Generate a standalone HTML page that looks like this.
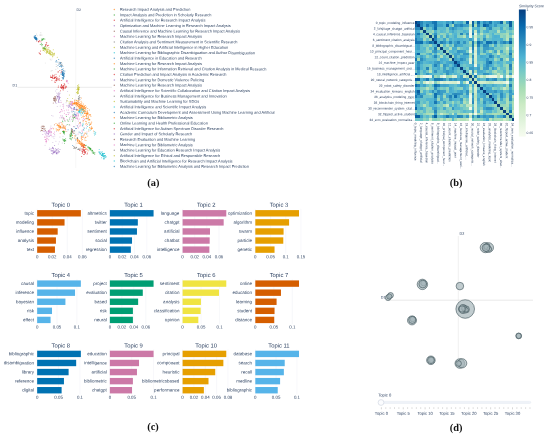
<!DOCTYPE html><html><head><meta charset="utf-8"><title>Figure</title><style>html,body{margin:0;padding:0;background:#fff}svg{display:block}text{font-family:"Liberation Sans","DejaVu Sans",sans-serif;fill:#2a3f5f;text-rendering:geometricPrecision}.cap{font-family:"Liberation Serif","DejaVu Serif",serif;font-weight:bold;font-size:10.4px;fill:#111}</style></head><body>
<svg width="550" height="437" viewBox="0 0 550 437">
<rect width="550" height="437" fill="#fff"/>
<defs><clipPath id="cpa"><rect x="0" y="0" width="274.6" height="195"/></clipPath></defs><g id="pa" clip-path="url(#cpa)">
<line x1="75.8" y1="11.5" x2="75.8" y2="168" stroke="#f0f0f0" stroke-width="0.6"/>
<line x1="17.5" y1="87.3" x2="112" y2="87.3" stroke="#dedede" stroke-width="0.6"/>
<text transform="matrix(1 0.0005 0 1 76.40 10.90)" font-size="3.6" fill="#777">D2</text>
<text transform="matrix(1 0.0005 0 1 12.60 86.50)" font-size="3.6" fill="#777">D1</text>
<circle cx="35.4" cy="38.2" r="0.52" fill="#1f77b4" fill-opacity="0.68"/>
<circle cx="35.8" cy="38.0" r="0.52" fill="#1f77b4" fill-opacity="0.68"/>
<circle cx="35.1" cy="37.3" r="0.52" fill="#1f77b4" fill-opacity="0.68"/>
<circle cx="36.5" cy="39.6" r="0.52" fill="#1f77b4" fill-opacity="0.68"/>
<circle cx="36.5" cy="39.4" r="0.52" fill="#1f77b4" fill-opacity="0.68"/>
<circle cx="36.0" cy="38.8" r="0.52" fill="#1f77b4" fill-opacity="0.68"/>
<circle cx="34.1" cy="36.9" r="0.52" fill="#1f77b4" fill-opacity="0.68"/>
<circle cx="36.0" cy="39.0" r="0.52" fill="#1f77b4" fill-opacity="0.68"/>
<circle cx="35.2" cy="36.0" r="0.52" fill="#1f77b4" fill-opacity="0.68"/>
<circle cx="35.3" cy="37.2" r="0.52" fill="#1f77b4" fill-opacity="0.68"/>
<circle cx="36.1" cy="38.6" r="0.52" fill="#1f77b4" fill-opacity="0.68"/>
<circle cx="36.5" cy="38.6" r="0.52" fill="#1f77b4" fill-opacity="0.68"/>
<circle cx="35.9" cy="38.7" r="0.52" fill="#1f77b4" fill-opacity="0.68"/>
<circle cx="34.5" cy="38.2" r="0.52" fill="#1f77b4" fill-opacity="0.68"/>
<circle cx="35.7" cy="39.3" r="0.52" fill="#1f77b4" fill-opacity="0.68"/>
<circle cx="35.6" cy="37.4" r="0.52" fill="#1f77b4" fill-opacity="0.68"/>
<circle cx="35.6" cy="37.9" r="0.52" fill="#1f77b4" fill-opacity="0.68"/>
<circle cx="36.2" cy="39.0" r="0.52" fill="#1f77b4" fill-opacity="0.68"/>
<circle cx="35.9" cy="37.5" r="0.52" fill="#1f77b4" fill-opacity="0.68"/>
<circle cx="34.9" cy="38.2" r="0.52" fill="#1f77b4" fill-opacity="0.68"/>
<circle cx="35.0" cy="37.6" r="0.52" fill="#1f77b4" fill-opacity="0.68"/>
<circle cx="36.8" cy="38.2" r="0.52" fill="#1f77b4" fill-opacity="0.68"/>
<circle cx="35.3" cy="38.8" r="0.52" fill="#1f77b4" fill-opacity="0.68"/>
<circle cx="34.3" cy="36.1" r="0.52" fill="#1f77b4" fill-opacity="0.68"/>
<circle cx="36.1" cy="37.9" r="0.52" fill="#1f77b4" fill-opacity="0.68"/>
<circle cx="36.2" cy="38.8" r="0.52" fill="#1f77b4" fill-opacity="0.68"/>
<circle cx="34.3" cy="37.1" r="0.52" fill="#1f77b4" fill-opacity="0.68"/>
<circle cx="35.9" cy="39.3" r="0.52" fill="#1f77b4" fill-opacity="0.68"/>
<circle cx="36.8" cy="39.9" r="0.52" fill="#1f77b4" fill-opacity="0.68"/>
<circle cx="36.5" cy="38.0" r="0.52" fill="#1f77b4" fill-opacity="0.68"/>
<circle cx="36.6" cy="38.7" r="0.52" fill="#1f77b4" fill-opacity="0.68"/>
<circle cx="36.0" cy="37.4" r="0.52" fill="#1f77b4" fill-opacity="0.68"/>
<circle cx="35.3" cy="37.1" r="0.52" fill="#1f77b4" fill-opacity="0.68"/>
<circle cx="37.7" cy="38.9" r="0.52" fill="#1f77b4" fill-opacity="0.68"/>
<circle cx="34.5" cy="36.9" r="0.52" fill="#1f77b4" fill-opacity="0.68"/>
<circle cx="36.7" cy="40.0" r="0.52" fill="#1f77b4" fill-opacity="0.68"/>
<circle cx="35.4" cy="35.5" r="0.52" fill="#1f77b4" fill-opacity="0.68"/>
<circle cx="36.4" cy="38.4" r="0.52" fill="#1f77b4" fill-opacity="0.68"/>
<circle cx="34.5" cy="37.5" r="0.52" fill="#1f77b4" fill-opacity="0.68"/>
<circle cx="36.6" cy="39.5" r="0.52" fill="#1f77b4" fill-opacity="0.68"/>
<circle cx="39.9" cy="34.9" r="0.52" fill="#c7c7c7" fill-opacity="0.68"/>
<circle cx="41.9" cy="35.1" r="0.52" fill="#c7c7c7" fill-opacity="0.68"/>
<circle cx="40.3" cy="35.0" r="0.52" fill="#c7c7c7" fill-opacity="0.68"/>
<circle cx="37.1" cy="35.8" r="0.52" fill="#c7c7c7" fill-opacity="0.68"/>
<circle cx="40.9" cy="35.0" r="0.52" fill="#c7c7c7" fill-opacity="0.68"/>
<circle cx="36.5" cy="33.9" r="0.52" fill="#c7c7c7" fill-opacity="0.68"/>
<circle cx="40.8" cy="32.7" r="0.52" fill="#c7c7c7" fill-opacity="0.68"/>
<circle cx="42.4" cy="39.8" r="0.52" fill="#2ca02c" fill-opacity="0.68"/>
<circle cx="41.5" cy="40.3" r="0.52" fill="#2ca02c" fill-opacity="0.68"/>
<circle cx="42.9" cy="38.9" r="0.52" fill="#2ca02c" fill-opacity="0.68"/>
<circle cx="42.8" cy="39.5" r="0.52" fill="#2ca02c" fill-opacity="0.68"/>
<circle cx="42.6" cy="39.9" r="0.52" fill="#2ca02c" fill-opacity="0.68"/>
<circle cx="42.0" cy="38.7" r="0.52" fill="#2ca02c" fill-opacity="0.68"/>
<circle cx="43.3" cy="39.0" r="0.52" fill="#2ca02c" fill-opacity="0.68"/>
<circle cx="41.8" cy="39.8" r="0.52" fill="#2ca02c" fill-opacity="0.68"/>
<circle cx="43.7" cy="38.6" r="0.52" fill="#2ca02c" fill-opacity="0.68"/>
<circle cx="42.9" cy="47.8" r="0.52" fill="#2ca02c" fill-opacity="0.68"/>
<circle cx="43.9" cy="47.6" r="0.52" fill="#2ca02c" fill-opacity="0.68"/>
<circle cx="45.1" cy="46.8" r="0.52" fill="#2ca02c" fill-opacity="0.68"/>
<circle cx="45.0" cy="46.5" r="0.52" fill="#2ca02c" fill-opacity="0.68"/>
<circle cx="43.4" cy="48.8" r="0.52" fill="#2ca02c" fill-opacity="0.68"/>
<circle cx="44.9" cy="49.0" r="0.52" fill="#2ca02c" fill-opacity="0.68"/>
<circle cx="44.3" cy="48.2" r="0.52" fill="#2ca02c" fill-opacity="0.68"/>
<circle cx="44.1" cy="48.7" r="0.52" fill="#2ca02c" fill-opacity="0.68"/>
<circle cx="43.9" cy="48.3" r="0.52" fill="#2ca02c" fill-opacity="0.68"/>
<circle cx="44.5" cy="48.0" r="0.52" fill="#2ca02c" fill-opacity="0.68"/>
<circle cx="44.6" cy="48.7" r="0.52" fill="#2ca02c" fill-opacity="0.68"/>
<circle cx="45.6" cy="48.4" r="0.52" fill="#2ca02c" fill-opacity="0.68"/>
<circle cx="41.4" cy="43.3" r="0.52" fill="#2ca02c" fill-opacity="0.68"/>
<circle cx="42.0" cy="45.8" r="0.52" fill="#2ca02c" fill-opacity="0.68"/>
<circle cx="41.5" cy="44.8" r="0.52" fill="#2ca02c" fill-opacity="0.68"/>
<circle cx="44.8" cy="38.9" r="0.52" fill="#2ca02c" fill-opacity="0.68"/>
<circle cx="40.3" cy="44.5" r="0.52" fill="#2ca02c" fill-opacity="0.68"/>
<circle cx="42.6" cy="44.5" r="0.52" fill="#2ca02c" fill-opacity="0.68"/>
<circle cx="38.7" cy="42.0" r="0.52" fill="#d62728" fill-opacity="0.68"/>
<circle cx="39.2" cy="41.1" r="0.52" fill="#d62728" fill-opacity="0.68"/>
<circle cx="40.9" cy="41.8" r="0.52" fill="#d62728" fill-opacity="0.68"/>
<circle cx="38.6" cy="41.4" r="0.52" fill="#d62728" fill-opacity="0.68"/>
<circle cx="38.8" cy="41.4" r="0.52" fill="#d62728" fill-opacity="0.68"/>
<circle cx="36.8" cy="41.1" r="0.52" fill="#d62728" fill-opacity="0.68"/>
<circle cx="39.8" cy="40.6" r="0.52" fill="#d62728" fill-opacity="0.68"/>
<circle cx="40.0" cy="53.8" r="0.52" fill="#d62728" fill-opacity="0.68"/>
<circle cx="40.4" cy="54.2" r="0.52" fill="#d62728" fill-opacity="0.68"/>
<circle cx="39.1" cy="52.7" r="0.52" fill="#d62728" fill-opacity="0.68"/>
<circle cx="39.8" cy="53.5" r="0.52" fill="#d62728" fill-opacity="0.68"/>
<circle cx="40.5" cy="50.9" r="0.52" fill="#d62728" fill-opacity="0.68"/>
<circle cx="46.7" cy="42.8" r="0.52" fill="#d62728" fill-opacity="0.68"/>
<circle cx="46.3" cy="42.7" r="0.52" fill="#d62728" fill-opacity="0.68"/>
<circle cx="45.8" cy="45.4" r="0.52" fill="#d62728" fill-opacity="0.68"/>
<circle cx="45.5" cy="44.4" r="0.52" fill="#d62728" fill-opacity="0.68"/>
<circle cx="46.4" cy="44.3" r="0.52" fill="#d62728" fill-opacity="0.68"/>
<circle cx="45.5" cy="45.7" r="0.52" fill="#d62728" fill-opacity="0.68"/>
<circle cx="47.6" cy="45.8" r="0.52" fill="#d62728" fill-opacity="0.68"/>
<circle cx="48.6" cy="45.3" r="0.52" fill="#d62728" fill-opacity="0.68"/>
<circle cx="47.5" cy="45.8" r="0.52" fill="#d62728" fill-opacity="0.68"/>
<circle cx="49.5" cy="52.9" r="0.52" fill="#bcbd22" fill-opacity="0.68"/>
<circle cx="49.8" cy="53.0" r="0.52" fill="#bcbd22" fill-opacity="0.68"/>
<circle cx="46.0" cy="48.1" r="0.52" fill="#bcbd22" fill-opacity="0.68"/>
<circle cx="51.8" cy="51.9" r="0.52" fill="#bcbd22" fill-opacity="0.68"/>
<circle cx="47.4" cy="48.9" r="0.52" fill="#bcbd22" fill-opacity="0.68"/>
<circle cx="52.7" cy="54.7" r="0.52" fill="#bcbd22" fill-opacity="0.68"/>
<circle cx="54.2" cy="53.2" r="0.52" fill="#bcbd22" fill-opacity="0.68"/>
<circle cx="50.1" cy="50.8" r="0.52" fill="#bcbd22" fill-opacity="0.68"/>
<circle cx="50.8" cy="54.8" r="0.52" fill="#bcbd22" fill-opacity="0.68"/>
<circle cx="46.1" cy="52.3" r="0.52" fill="#bcbd22" fill-opacity="0.68"/>
<circle cx="52.4" cy="53.3" r="0.52" fill="#bcbd22" fill-opacity="0.68"/>
<circle cx="43.1" cy="50.5" r="0.52" fill="#bcbd22" fill-opacity="0.68"/>
<circle cx="49.6" cy="51.2" r="0.52" fill="#bcbd22" fill-opacity="0.68"/>
<circle cx="50.4" cy="53.0" r="0.52" fill="#bcbd22" fill-opacity="0.68"/>
<circle cx="54.3" cy="53.2" r="0.52" fill="#bcbd22" fill-opacity="0.68"/>
<circle cx="51.9" cy="55.3" r="0.52" fill="#bcbd22" fill-opacity="0.68"/>
<circle cx="53.7" cy="54.0" r="0.52" fill="#bcbd22" fill-opacity="0.68"/>
<circle cx="46.8" cy="52.0" r="0.52" fill="#bcbd22" fill-opacity="0.68"/>
<circle cx="49.8" cy="52.3" r="0.52" fill="#bcbd22" fill-opacity="0.68"/>
<circle cx="53.7" cy="53.9" r="0.52" fill="#bcbd22" fill-opacity="0.68"/>
<circle cx="43.2" cy="48.1" r="0.52" fill="#bcbd22" fill-opacity="0.68"/>
<circle cx="43.8" cy="50.1" r="0.52" fill="#bcbd22" fill-opacity="0.68"/>
<circle cx="50.7" cy="51.8" r="0.52" fill="#bcbd22" fill-opacity="0.68"/>
<circle cx="49.0" cy="52.9" r="0.52" fill="#bcbd22" fill-opacity="0.68"/>
<circle cx="49.0" cy="53.5" r="0.52" fill="#bcbd22" fill-opacity="0.68"/>
<circle cx="48.7" cy="53.0" r="0.52" fill="#bcbd22" fill-opacity="0.68"/>
<circle cx="52.8" cy="55.9" r="0.52" fill="#bcbd22" fill-opacity="0.68"/>
<circle cx="47.1" cy="51.9" r="0.52" fill="#bcbd22" fill-opacity="0.68"/>
<circle cx="44.8" cy="48.0" r="0.52" fill="#bcbd22" fill-opacity="0.68"/>
<circle cx="43.4" cy="50.2" r="0.52" fill="#bcbd22" fill-opacity="0.68"/>
<circle cx="46.0" cy="50.1" r="0.52" fill="#bcbd22" fill-opacity="0.68"/>
<circle cx="49.0" cy="51.7" r="0.52" fill="#bcbd22" fill-opacity="0.68"/>
<circle cx="47.7" cy="51.4" r="0.52" fill="#bcbd22" fill-opacity="0.68"/>
<circle cx="54.5" cy="54.7" r="0.52" fill="#bcbd22" fill-opacity="0.68"/>
<circle cx="50.4" cy="53.9" r="0.52" fill="#bcbd22" fill-opacity="0.68"/>
<circle cx="49.7" cy="50.4" r="0.52" fill="#bcbd22" fill-opacity="0.68"/>
<circle cx="47.3" cy="52.3" r="0.52" fill="#bcbd22" fill-opacity="0.68"/>
<circle cx="45.2" cy="48.9" r="0.52" fill="#bcbd22" fill-opacity="0.68"/>
<circle cx="51.9" cy="54.4" r="0.52" fill="#bcbd22" fill-opacity="0.68"/>
<circle cx="49.1" cy="52.9" r="0.52" fill="#bcbd22" fill-opacity="0.68"/>
<circle cx="50.6" cy="51.0" r="0.52" fill="#bcbd22" fill-opacity="0.68"/>
<circle cx="45.4" cy="49.0" r="0.52" fill="#bcbd22" fill-opacity="0.68"/>
<circle cx="52.4" cy="52.8" r="0.52" fill="#bcbd22" fill-opacity="0.68"/>
<circle cx="47.4" cy="49.8" r="0.52" fill="#bcbd22" fill-opacity="0.68"/>
<circle cx="45.2" cy="49.6" r="0.52" fill="#bcbd22" fill-opacity="0.68"/>
<circle cx="46.0" cy="50.6" r="0.52" fill="#bcbd22" fill-opacity="0.68"/>
<circle cx="42.6" cy="48.8" r="0.52" fill="#bcbd22" fill-opacity="0.68"/>
<circle cx="48.8" cy="49.0" r="0.52" fill="#bcbd22" fill-opacity="0.68"/>
<circle cx="51.7" cy="52.8" r="0.52" fill="#bcbd22" fill-opacity="0.68"/>
<circle cx="43.7" cy="47.7" r="0.52" fill="#bcbd22" fill-opacity="0.68"/>
<circle cx="46.4" cy="49.3" r="0.52" fill="#bcbd22" fill-opacity="0.68"/>
<circle cx="47.2" cy="51.1" r="0.52" fill="#bcbd22" fill-opacity="0.68"/>
<circle cx="47.0" cy="50.5" r="0.52" fill="#bcbd22" fill-opacity="0.68"/>
<circle cx="48.0" cy="51.0" r="0.52" fill="#bcbd22" fill-opacity="0.68"/>
<circle cx="46.7" cy="46.9" r="0.52" fill="#bcbd22" fill-opacity="0.68"/>
<circle cx="47.3" cy="52.0" r="0.52" fill="#bcbd22" fill-opacity="0.68"/>
<circle cx="45.6" cy="49.3" r="0.52" fill="#bcbd22" fill-opacity="0.68"/>
<circle cx="48.9" cy="47.4" r="0.52" fill="#bcbd22" fill-opacity="0.68"/>
<circle cx="46.7" cy="53.6" r="0.52" fill="#bcbd22" fill-opacity="0.68"/>
<circle cx="44.6" cy="51.0" r="0.52" fill="#bcbd22" fill-opacity="0.68"/>
<circle cx="48.8" cy="49.8" r="0.52" fill="#bcbd22" fill-opacity="0.68"/>
<circle cx="46.8" cy="51.4" r="0.52" fill="#bcbd22" fill-opacity="0.68"/>
<circle cx="50.2" cy="54.8" r="0.52" fill="#bcbd22" fill-opacity="0.68"/>
<circle cx="52.6" cy="56.7" r="0.52" fill="#bcbd22" fill-opacity="0.68"/>
<circle cx="51.9" cy="54.6" r="0.52" fill="#bcbd22" fill-opacity="0.68"/>
<circle cx="50.0" cy="54.3" r="0.52" fill="#bcbd22" fill-opacity="0.68"/>
<circle cx="53.8" cy="55.2" r="0.52" fill="#bcbd22" fill-opacity="0.68"/>
<circle cx="50.3" cy="53.3" r="0.52" fill="#bcbd22" fill-opacity="0.68"/>
<circle cx="57.3" cy="57.3" r="0.52" fill="#bcbd22" fill-opacity="0.68"/>
<circle cx="53.3" cy="49.8" r="0.52" fill="#bcbd22" fill-opacity="0.68"/>
<circle cx="63.0" cy="75.5" r="0.52" fill="#1f77b4" fill-opacity="0.68"/>
<circle cx="63.4" cy="78.1" r="0.52" fill="#1f77b4" fill-opacity="0.68"/>
<circle cx="62.8" cy="73.9" r="0.52" fill="#1f77b4" fill-opacity="0.68"/>
<circle cx="61.7" cy="69.5" r="0.52" fill="#1f77b4" fill-opacity="0.68"/>
<circle cx="63.9" cy="74.7" r="0.52" fill="#1f77b4" fill-opacity="0.68"/>
<circle cx="62.2" cy="77.4" r="0.52" fill="#1f77b4" fill-opacity="0.68"/>
<circle cx="63.3" cy="70.6" r="0.52" fill="#1f77b4" fill-opacity="0.68"/>
<circle cx="63.2" cy="74.7" r="0.52" fill="#1f77b4" fill-opacity="0.68"/>
<circle cx="63.8" cy="72.9" r="0.52" fill="#1f77b4" fill-opacity="0.68"/>
<circle cx="63.1" cy="79.2" r="0.52" fill="#1f77b4" fill-opacity="0.68"/>
<circle cx="63.9" cy="71.0" r="0.52" fill="#1f77b4" fill-opacity="0.68"/>
<circle cx="63.0" cy="78.2" r="0.52" fill="#1f77b4" fill-opacity="0.68"/>
<circle cx="63.2" cy="78.4" r="0.52" fill="#1f77b4" fill-opacity="0.68"/>
<circle cx="62.7" cy="72.0" r="0.52" fill="#1f77b4" fill-opacity="0.68"/>
<circle cx="63.1" cy="68.8" r="0.52" fill="#1f77b4" fill-opacity="0.68"/>
<circle cx="62.8" cy="73.9" r="0.52" fill="#1f77b4" fill-opacity="0.68"/>
<circle cx="63.1" cy="72.3" r="0.52" fill="#1f77b4" fill-opacity="0.68"/>
<circle cx="63.1" cy="75.1" r="0.52" fill="#1f77b4" fill-opacity="0.68"/>
<circle cx="63.2" cy="75.5" r="0.52" fill="#1f77b4" fill-opacity="0.68"/>
<circle cx="62.5" cy="73.3" r="0.52" fill="#1f77b4" fill-opacity="0.68"/>
<circle cx="63.9" cy="74.0" r="0.52" fill="#1f77b4" fill-opacity="0.68"/>
<circle cx="63.0" cy="72.5" r="0.52" fill="#1f77b4" fill-opacity="0.68"/>
<circle cx="63.0" cy="73.8" r="0.52" fill="#1f77b4" fill-opacity="0.68"/>
<circle cx="63.1" cy="74.0" r="0.52" fill="#1f77b4" fill-opacity="0.68"/>
<circle cx="64.2" cy="73.5" r="0.52" fill="#1f77b4" fill-opacity="0.68"/>
<circle cx="62.5" cy="75.1" r="0.52" fill="#1f77b4" fill-opacity="0.68"/>
<circle cx="63.5" cy="75.0" r="0.52" fill="#1f77b4" fill-opacity="0.68"/>
<circle cx="64.1" cy="75.0" r="0.52" fill="#1f77b4" fill-opacity="0.68"/>
<circle cx="62.5" cy="69.5" r="0.52" fill="#1f77b4" fill-opacity="0.68"/>
<circle cx="62.3" cy="71.9" r="0.52" fill="#1f77b4" fill-opacity="0.68"/>
<circle cx="64.9" cy="71.1" r="0.52" fill="#1f77b4" fill-opacity="0.68"/>
<circle cx="61.6" cy="71.7" r="0.52" fill="#1f77b4" fill-opacity="0.68"/>
<circle cx="64.2" cy="72.9" r="0.52" fill="#1f77b4" fill-opacity="0.68"/>
<circle cx="62.5" cy="72.2" r="0.52" fill="#1f77b4" fill-opacity="0.68"/>
<circle cx="63.2" cy="75.2" r="0.52" fill="#1f77b4" fill-opacity="0.68"/>
<circle cx="63.1" cy="77.6" r="0.52" fill="#1f77b4" fill-opacity="0.68"/>
<circle cx="62.7" cy="74.0" r="0.52" fill="#1f77b4" fill-opacity="0.68"/>
<circle cx="63.0" cy="78.0" r="0.52" fill="#1f77b4" fill-opacity="0.68"/>
<circle cx="64.4" cy="76.3" r="0.52" fill="#1f77b4" fill-opacity="0.68"/>
<circle cx="62.6" cy="73.7" r="0.52" fill="#1f77b4" fill-opacity="0.68"/>
<circle cx="62.3" cy="73.4" r="0.52" fill="#1f77b4" fill-opacity="0.68"/>
<circle cx="62.7" cy="75.5" r="0.52" fill="#1f77b4" fill-opacity="0.68"/>
<circle cx="61.1" cy="73.8" r="0.52" fill="#1f77b4" fill-opacity="0.68"/>
<circle cx="63.8" cy="76.9" r="0.52" fill="#1f77b4" fill-opacity="0.68"/>
<circle cx="61.2" cy="74.5" r="0.52" fill="#1f77b4" fill-opacity="0.68"/>
<circle cx="62.4" cy="73.3" r="0.52" fill="#1f77b4" fill-opacity="0.68"/>
<circle cx="63.5" cy="76.3" r="0.52" fill="#1f77b4" fill-opacity="0.68"/>
<circle cx="62.7" cy="71.2" r="0.52" fill="#1f77b4" fill-opacity="0.68"/>
<circle cx="62.4" cy="75.0" r="0.52" fill="#1f77b4" fill-opacity="0.68"/>
<circle cx="63.4" cy="75.9" r="0.52" fill="#1f77b4" fill-opacity="0.68"/>
<circle cx="61.6" cy="66.4" r="0.52" fill="#1f77b4" fill-opacity="0.68"/>
<circle cx="60.8" cy="65.6" r="0.52" fill="#1f77b4" fill-opacity="0.68"/>
<circle cx="60.2" cy="66.6" r="0.52" fill="#1f77b4" fill-opacity="0.68"/>
<circle cx="59.1" cy="64.5" r="0.52" fill="#1f77b4" fill-opacity="0.68"/>
<circle cx="60.5" cy="63.2" r="0.52" fill="#1f77b4" fill-opacity="0.68"/>
<circle cx="59.9" cy="62.3" r="0.52" fill="#1f77b4" fill-opacity="0.68"/>
<circle cx="59.6" cy="66.4" r="0.52" fill="#1f77b4" fill-opacity="0.68"/>
<circle cx="61.2" cy="65.4" r="0.52" fill="#1f77b4" fill-opacity="0.68"/>
<circle cx="60.2" cy="63.2" r="0.52" fill="#1f77b4" fill-opacity="0.68"/>
<circle cx="62.9" cy="66.3" r="0.52" fill="#1f77b4" fill-opacity="0.68"/>
<circle cx="61.9" cy="64.1" r="0.52" fill="#1f77b4" fill-opacity="0.68"/>
<circle cx="60.3" cy="62.6" r="0.52" fill="#1f77b4" fill-opacity="0.68"/>
<circle cx="61.5" cy="67.0" r="0.52" fill="#1f77b4" fill-opacity="0.68"/>
<circle cx="58.0" cy="65.4" r="0.52" fill="#1f77b4" fill-opacity="0.68"/>
<circle cx="61.5" cy="62.5" r="0.52" fill="#7f7f7f" fill-opacity="0.68"/>
<circle cx="59.1" cy="63.2" r="0.52" fill="#7f7f7f" fill-opacity="0.68"/>
<circle cx="60.3" cy="62.9" r="0.52" fill="#7f7f7f" fill-opacity="0.68"/>
<circle cx="60.9" cy="64.5" r="0.52" fill="#7f7f7f" fill-opacity="0.68"/>
<circle cx="61.5" cy="65.0" r="0.52" fill="#7f7f7f" fill-opacity="0.68"/>
<circle cx="62.4" cy="65.5" r="0.52" fill="#7f7f7f" fill-opacity="0.68"/>
<circle cx="56.0" cy="61.2" r="0.52" fill="#1f77b4" fill-opacity="0.68"/>
<circle cx="56.4" cy="60.4" r="0.52" fill="#1f77b4" fill-opacity="0.68"/>
<circle cx="57.9" cy="62.0" r="0.52" fill="#1f77b4" fill-opacity="0.68"/>
<circle cx="58.7" cy="59.6" r="0.52" fill="#1f77b4" fill-opacity="0.68"/>
<circle cx="56.1" cy="62.0" r="0.52" fill="#1f77b4" fill-opacity="0.68"/>
<circle cx="54.6" cy="77.8" r="0.52" fill="#d62728" fill-opacity="0.68"/>
<circle cx="55.2" cy="77.3" r="0.52" fill="#d62728" fill-opacity="0.68"/>
<circle cx="56.8" cy="79.8" r="0.52" fill="#d62728" fill-opacity="0.68"/>
<circle cx="55.1" cy="77.4" r="0.52" fill="#d62728" fill-opacity="0.68"/>
<circle cx="56.0" cy="74.2" r="0.52" fill="#d62728" fill-opacity="0.68"/>
<circle cx="52.2" cy="77.5" r="0.52" fill="#d62728" fill-opacity="0.68"/>
<circle cx="50.7" cy="77.3" r="0.52" fill="#d62728" fill-opacity="0.68"/>
<circle cx="56.2" cy="76.6" r="0.52" fill="#d62728" fill-opacity="0.68"/>
<circle cx="54.5" cy="77.8" r="0.52" fill="#d62728" fill-opacity="0.68"/>
<circle cx="56.0" cy="79.9" r="0.52" fill="#d62728" fill-opacity="0.68"/>
<circle cx="55.4" cy="77.2" r="0.52" fill="#d62728" fill-opacity="0.68"/>
<circle cx="54.6" cy="78.3" r="0.52" fill="#d62728" fill-opacity="0.68"/>
<circle cx="56.9" cy="79.7" r="0.52" fill="#d62728" fill-opacity="0.68"/>
<circle cx="53.7" cy="75.7" r="0.52" fill="#d62728" fill-opacity="0.68"/>
<circle cx="54.4" cy="77.0" r="0.52" fill="#d62728" fill-opacity="0.68"/>
<circle cx="51.9" cy="77.2" r="0.52" fill="#d62728" fill-opacity="0.68"/>
<circle cx="53.6" cy="78.2" r="0.52" fill="#d62728" fill-opacity="0.68"/>
<circle cx="56.7" cy="78.4" r="0.52" fill="#d62728" fill-opacity="0.68"/>
<circle cx="61.7" cy="80.4" r="0.52" fill="#d62728" fill-opacity="0.68"/>
<circle cx="58.0" cy="79.8" r="0.52" fill="#d62728" fill-opacity="0.68"/>
<circle cx="59.4" cy="76.1" r="0.52" fill="#d62728" fill-opacity="0.68"/>
<circle cx="52.7" cy="78.1" r="0.52" fill="#d62728" fill-opacity="0.68"/>
<circle cx="55.4" cy="82.6" r="0.52" fill="#d62728" fill-opacity="0.68"/>
<circle cx="55.2" cy="80.8" r="0.52" fill="#d62728" fill-opacity="0.68"/>
<circle cx="56.6" cy="80.7" r="0.52" fill="#d62728" fill-opacity="0.68"/>
<circle cx="56.5" cy="78.8" r="0.52" fill="#d62728" fill-opacity="0.68"/>
<circle cx="57.0" cy="77.4" r="0.52" fill="#d62728" fill-opacity="0.68"/>
<circle cx="58.9" cy="78.2" r="0.52" fill="#d62728" fill-opacity="0.68"/>
<circle cx="54.5" cy="81.9" r="0.52" fill="#d62728" fill-opacity="0.68"/>
<circle cx="54.4" cy="78.3" r="0.52" fill="#d62728" fill-opacity="0.68"/>
<circle cx="58.3" cy="79.7" r="0.52" fill="#d62728" fill-opacity="0.68"/>
<circle cx="52.6" cy="78.1" r="0.52" fill="#d62728" fill-opacity="0.68"/>
<circle cx="56.3" cy="80.2" r="0.52" fill="#d62728" fill-opacity="0.68"/>
<circle cx="51.9" cy="80.3" r="0.52" fill="#d62728" fill-opacity="0.68"/>
<circle cx="59.7" cy="80.2" r="0.52" fill="#d62728" fill-opacity="0.68"/>
<circle cx="56.0" cy="78.1" r="0.52" fill="#d62728" fill-opacity="0.68"/>
<circle cx="59.4" cy="78.9" r="0.52" fill="#d62728" fill-opacity="0.68"/>
<circle cx="57.2" cy="78.5" r="0.52" fill="#d62728" fill-opacity="0.68"/>
<circle cx="61.7" cy="88.2" r="0.52" fill="#d62728" fill-opacity="0.68"/>
<circle cx="65.0" cy="85.0" r="0.52" fill="#d62728" fill-opacity="0.68"/>
<circle cx="61.8" cy="88.3" r="0.52" fill="#d62728" fill-opacity="0.68"/>
<circle cx="62.6" cy="87.0" r="0.52" fill="#d62728" fill-opacity="0.68"/>
<circle cx="66.3" cy="86.3" r="0.52" fill="#d62728" fill-opacity="0.68"/>
<circle cx="63.2" cy="90.0" r="0.52" fill="#d62728" fill-opacity="0.68"/>
<circle cx="63.1" cy="87.5" r="0.52" fill="#d62728" fill-opacity="0.68"/>
<circle cx="61.2" cy="87.2" r="0.52" fill="#d62728" fill-opacity="0.68"/>
<circle cx="60.5" cy="90.7" r="0.52" fill="#d62728" fill-opacity="0.68"/>
<circle cx="64.2" cy="83.4" r="0.52" fill="#d62728" fill-opacity="0.68"/>
<circle cx="58.4" cy="86.0" r="0.52" fill="#d62728" fill-opacity="0.68"/>
<circle cx="64.4" cy="84.6" r="0.52" fill="#d62728" fill-opacity="0.68"/>
<circle cx="62.2" cy="86.2" r="0.52" fill="#d62728" fill-opacity="0.68"/>
<circle cx="61.5" cy="85.2" r="0.52" fill="#d62728" fill-opacity="0.68"/>
<circle cx="61.5" cy="84.6" r="0.52" fill="#d62728" fill-opacity="0.68"/>
<circle cx="62.6" cy="87.0" r="0.52" fill="#d62728" fill-opacity="0.68"/>
<circle cx="63.2" cy="85.7" r="0.52" fill="#d62728" fill-opacity="0.68"/>
<circle cx="60.9" cy="87.7" r="0.52" fill="#d62728" fill-opacity="0.68"/>
<circle cx="62.8" cy="89.1" r="0.52" fill="#d62728" fill-opacity="0.68"/>
<circle cx="63.9" cy="85.5" r="0.52" fill="#d62728" fill-opacity="0.68"/>
<circle cx="61.1" cy="86.1" r="0.52" fill="#d62728" fill-opacity="0.68"/>
<circle cx="60.4" cy="87.1" r="0.52" fill="#d62728" fill-opacity="0.68"/>
<circle cx="63.4" cy="86.8" r="0.52" fill="#d62728" fill-opacity="0.68"/>
<circle cx="65.2" cy="88.6" r="0.52" fill="#d62728" fill-opacity="0.68"/>
<circle cx="61.2" cy="87.3" r="0.52" fill="#d62728" fill-opacity="0.68"/>
<circle cx="66.4" cy="81.0" r="0.52" fill="#d62728" fill-opacity="0.68"/>
<circle cx="61.6" cy="87.3" r="0.52" fill="#d62728" fill-opacity="0.68"/>
<circle cx="63.1" cy="86.9" r="0.52" fill="#d62728" fill-opacity="0.68"/>
<circle cx="62.3" cy="87.2" r="0.52" fill="#d62728" fill-opacity="0.68"/>
<circle cx="63.2" cy="87.4" r="0.52" fill="#d62728" fill-opacity="0.68"/>
<circle cx="58.2" cy="87.4" r="0.52" fill="#d62728" fill-opacity="0.68"/>
<circle cx="61.7" cy="85.2" r="0.52" fill="#d62728" fill-opacity="0.68"/>
<circle cx="51.0" cy="77.3" r="0.52" fill="#d62728" fill-opacity="0.68"/>
<circle cx="51.4" cy="77.3" r="0.52" fill="#d62728" fill-opacity="0.68"/>
<circle cx="52.7" cy="76.6" r="0.52" fill="#d62728" fill-opacity="0.68"/>
<circle cx="52.5" cy="75.8" r="0.52" fill="#d62728" fill-opacity="0.68"/>
<circle cx="50.6" cy="75.9" r="0.52" fill="#d62728" fill-opacity="0.68"/>
<circle cx="52.5" cy="74.9" r="0.52" fill="#d62728" fill-opacity="0.68"/>
<circle cx="51.9" cy="77.5" r="0.52" fill="#d62728" fill-opacity="0.68"/>
<circle cx="51.1" cy="77.3" r="0.52" fill="#d62728" fill-opacity="0.68"/>
<circle cx="61.7" cy="70.9" r="0.52" fill="#d62728" fill-opacity="0.68"/>
<circle cx="58.3" cy="71.7" r="0.52" fill="#d62728" fill-opacity="0.68"/>
<circle cx="61.1" cy="72.6" r="0.52" fill="#d62728" fill-opacity="0.68"/>
<circle cx="59.8" cy="70.6" r="0.52" fill="#d62728" fill-opacity="0.68"/>
<circle cx="58.0" cy="72.0" r="0.52" fill="#d62728" fill-opacity="0.68"/>
<circle cx="54.4" cy="74.9" r="0.52" fill="#d62728" fill-opacity="0.68"/>
<circle cx="78.7" cy="84.7" r="0.52" fill="#bcbd22" fill-opacity="0.68"/>
<circle cx="78.7" cy="88.2" r="0.52" fill="#bcbd22" fill-opacity="0.68"/>
<circle cx="78.5" cy="89.3" r="0.52" fill="#bcbd22" fill-opacity="0.68"/>
<circle cx="77.6" cy="88.0" r="0.52" fill="#bcbd22" fill-opacity="0.68"/>
<circle cx="79.0" cy="87.2" r="0.52" fill="#bcbd22" fill-opacity="0.68"/>
<circle cx="77.8" cy="85.5" r="0.52" fill="#bcbd22" fill-opacity="0.68"/>
<circle cx="77.7" cy="89.2" r="0.52" fill="#bcbd22" fill-opacity="0.68"/>
<circle cx="79.1" cy="89.4" r="0.52" fill="#bcbd22" fill-opacity="0.68"/>
<circle cx="78.4" cy="93.4" r="0.52" fill="#bcbd22" fill-opacity="0.68"/>
<circle cx="78.0" cy="87.0" r="0.52" fill="#bcbd22" fill-opacity="0.68"/>
<circle cx="78.6" cy="89.7" r="0.52" fill="#bcbd22" fill-opacity="0.68"/>
<circle cx="77.8" cy="85.9" r="0.52" fill="#bcbd22" fill-opacity="0.68"/>
<circle cx="78.4" cy="89.0" r="0.52" fill="#bcbd22" fill-opacity="0.68"/>
<circle cx="77.6" cy="88.1" r="0.52" fill="#bcbd22" fill-opacity="0.68"/>
<circle cx="78.0" cy="89.5" r="0.52" fill="#bcbd22" fill-opacity="0.68"/>
<circle cx="78.2" cy="88.3" r="0.52" fill="#bcbd22" fill-opacity="0.68"/>
<circle cx="78.1" cy="90.8" r="0.52" fill="#bcbd22" fill-opacity="0.68"/>
<circle cx="79.0" cy="87.7" r="0.52" fill="#bcbd22" fill-opacity="0.68"/>
<circle cx="78.7" cy="86.8" r="0.52" fill="#bcbd22" fill-opacity="0.68"/>
<circle cx="78.3" cy="90.1" r="0.52" fill="#bcbd22" fill-opacity="0.68"/>
<circle cx="79.1" cy="87.7" r="0.52" fill="#bcbd22" fill-opacity="0.68"/>
<circle cx="78.3" cy="88.9" r="0.52" fill="#bcbd22" fill-opacity="0.68"/>
<circle cx="76.6" cy="92.5" r="0.52" fill="#bcbd22" fill-opacity="0.68"/>
<circle cx="77.3" cy="93.1" r="0.52" fill="#bcbd22" fill-opacity="0.68"/>
<circle cx="76.9" cy="89.5" r="0.52" fill="#bcbd22" fill-opacity="0.68"/>
<circle cx="77.8" cy="92.9" r="0.52" fill="#bcbd22" fill-opacity="0.68"/>
<circle cx="77.4" cy="93.8" r="0.52" fill="#bcbd22" fill-opacity="0.68"/>
<circle cx="77.6" cy="91.6" r="0.52" fill="#bcbd22" fill-opacity="0.68"/>
<circle cx="78.2" cy="90.1" r="0.52" fill="#bcbd22" fill-opacity="0.68"/>
<circle cx="77.3" cy="92.5" r="0.52" fill="#bcbd22" fill-opacity="0.68"/>
<circle cx="78.5" cy="92.3" r="0.52" fill="#bcbd22" fill-opacity="0.68"/>
<circle cx="78.0" cy="91.5" r="0.52" fill="#bcbd22" fill-opacity="0.68"/>
<circle cx="58.0" cy="94.7" r="0.52" fill="#c5b0d5" fill-opacity="0.68"/>
<circle cx="56.5" cy="95.4" r="0.52" fill="#c5b0d5" fill-opacity="0.68"/>
<circle cx="56.5" cy="93.0" r="0.52" fill="#c5b0d5" fill-opacity="0.68"/>
<circle cx="57.8" cy="94.0" r="0.52" fill="#c5b0d5" fill-opacity="0.68"/>
<circle cx="55.6" cy="90.9" r="0.52" fill="#c5b0d5" fill-opacity="0.68"/>
<circle cx="58.4" cy="93.8" r="0.52" fill="#c5b0d5" fill-opacity="0.68"/>
<circle cx="58.4" cy="95.6" r="0.52" fill="#c5b0d5" fill-opacity="0.68"/>
<circle cx="57.8" cy="93.3" r="0.52" fill="#c5b0d5" fill-opacity="0.68"/>
<circle cx="58.9" cy="93.4" r="0.52" fill="#c5b0d5" fill-opacity="0.68"/>
<circle cx="60.0" cy="91.8" r="0.52" fill="#c5b0d5" fill-opacity="0.68"/>
<circle cx="56.9" cy="89.6" r="0.52" fill="#c5b0d5" fill-opacity="0.68"/>
<circle cx="58.7" cy="92.6" r="0.52" fill="#c5b0d5" fill-opacity="0.68"/>
<circle cx="68.2" cy="83.2" r="0.52" fill="#e377c2" fill-opacity="0.68"/>
<circle cx="67.3" cy="80.7" r="0.52" fill="#e377c2" fill-opacity="0.68"/>
<circle cx="66.8" cy="80.2" r="0.52" fill="#e377c2" fill-opacity="0.68"/>
<circle cx="66.7" cy="81.6" r="0.52" fill="#e377c2" fill-opacity="0.68"/>
<circle cx="67.3" cy="81.1" r="0.52" fill="#e377c2" fill-opacity="0.68"/>
<circle cx="67.1" cy="81.9" r="0.52" fill="#e377c2" fill-opacity="0.68"/>
<circle cx="56.2" cy="66.6" r="0.52" fill="#c7c7c7" fill-opacity="0.68"/>
<circle cx="56.7" cy="66.6" r="0.52" fill="#c7c7c7" fill-opacity="0.68"/>
<circle cx="52.1" cy="70.6" r="0.52" fill="#c7c7c7" fill-opacity="0.68"/>
<circle cx="56.2" cy="64.6" r="0.52" fill="#c7c7c7" fill-opacity="0.68"/>
<circle cx="57.7" cy="67.9" r="0.52" fill="#c7c7c7" fill-opacity="0.68"/>
<circle cx="51.1" cy="71.0" r="0.52" fill="#c7c7c7" fill-opacity="0.68"/>
<circle cx="55.8" cy="69.2" r="0.52" fill="#c7c7c7" fill-opacity="0.68"/>
<circle cx="50.6" cy="59.6" r="0.52" fill="#dddddd" fill-opacity="0.68"/>
<circle cx="45.4" cy="62.9" r="0.52" fill="#dddddd" fill-opacity="0.68"/>
<circle cx="50.1" cy="59.1" r="0.52" fill="#dddddd" fill-opacity="0.68"/>
<circle cx="51.1" cy="60.2" r="0.52" fill="#dddddd" fill-opacity="0.68"/>
<circle cx="52.0" cy="58.9" r="0.52" fill="#dddddd" fill-opacity="0.68"/>
<circle cx="63.7" cy="85.7" r="0.52" fill="#d62728" fill-opacity="0.68"/>
<circle cx="63.2" cy="87.9" r="0.52" fill="#d62728" fill-opacity="0.68"/>
<circle cx="65.3" cy="87.1" r="0.52" fill="#d62728" fill-opacity="0.68"/>
<circle cx="63.6" cy="88.7" r="0.52" fill="#d62728" fill-opacity="0.68"/>
<circle cx="63.3" cy="88.0" r="0.52" fill="#d62728" fill-opacity="0.68"/>
<circle cx="65.7" cy="87.4" r="0.52" fill="#d62728" fill-opacity="0.68"/>
<circle cx="65.2" cy="86.8" r="0.52" fill="#d62728" fill-opacity="0.68"/>
<circle cx="63.9" cy="87.3" r="0.52" fill="#d62728" fill-opacity="0.68"/>
<circle cx="63.8" cy="88.3" r="0.52" fill="#d62728" fill-opacity="0.68"/>
<circle cx="66.6" cy="86.9" r="0.52" fill="#d62728" fill-opacity="0.68"/>
<circle cx="54.1" cy="100.1" r="0.52" fill="#8c564b" fill-opacity="0.68"/>
<circle cx="53.5" cy="100.1" r="0.52" fill="#8c564b" fill-opacity="0.68"/>
<circle cx="55.5" cy="99.0" r="0.52" fill="#8c564b" fill-opacity="0.68"/>
<circle cx="55.4" cy="97.1" r="0.52" fill="#8c564b" fill-opacity="0.68"/>
<circle cx="55.7" cy="97.1" r="0.52" fill="#8c564b" fill-opacity="0.68"/>
<circle cx="54.0" cy="98.6" r="0.52" fill="#8c564b" fill-opacity="0.68"/>
<circle cx="54.3" cy="100.7" r="0.52" fill="#8c564b" fill-opacity="0.68"/>
<circle cx="54.9" cy="98.8" r="0.52" fill="#8c564b" fill-opacity="0.68"/>
<circle cx="55.5" cy="101.8" r="0.52" fill="#8c564b" fill-opacity="0.68"/>
<circle cx="54.8" cy="99.9" r="0.52" fill="#8c564b" fill-opacity="0.68"/>
<circle cx="56.3" cy="99.8" r="0.52" fill="#8c564b" fill-opacity="0.68"/>
<circle cx="53.3" cy="103.1" r="0.52" fill="#8c564b" fill-opacity="0.68"/>
<circle cx="57.5" cy="96.4" r="0.52" fill="#8c564b" fill-opacity="0.68"/>
<circle cx="54.8" cy="100.0" r="0.52" fill="#8c564b" fill-opacity="0.68"/>
<circle cx="56.0" cy="100.4" r="0.52" fill="#8c564b" fill-opacity="0.68"/>
<circle cx="54.5" cy="97.8" r="0.52" fill="#8c564b" fill-opacity="0.68"/>
<circle cx="54.9" cy="101.0" r="0.52" fill="#8c564b" fill-opacity="0.68"/>
<circle cx="53.5" cy="97.9" r="0.52" fill="#8c564b" fill-opacity="0.68"/>
<circle cx="54.8" cy="96.5" r="0.52" fill="#8c564b" fill-opacity="0.68"/>
<circle cx="54.5" cy="98.7" r="0.52" fill="#8c564b" fill-opacity="0.68"/>
<circle cx="55.3" cy="98.3" r="0.52" fill="#8c564b" fill-opacity="0.68"/>
<circle cx="53.7" cy="98.8" r="0.52" fill="#8c564b" fill-opacity="0.68"/>
<circle cx="58.4" cy="96.3" r="0.52" fill="#9467bd" fill-opacity="0.68"/>
<circle cx="58.5" cy="99.9" r="0.52" fill="#9467bd" fill-opacity="0.68"/>
<circle cx="59.9" cy="102.3" r="0.52" fill="#9467bd" fill-opacity="0.68"/>
<circle cx="57.6" cy="97.0" r="0.52" fill="#9467bd" fill-opacity="0.68"/>
<circle cx="55.5" cy="102.7" r="0.52" fill="#9467bd" fill-opacity="0.68"/>
<circle cx="57.6" cy="97.9" r="0.52" fill="#9467bd" fill-opacity="0.68"/>
<circle cx="59.1" cy="94.6" r="0.52" fill="#9467bd" fill-opacity="0.68"/>
<circle cx="59.1" cy="97.9" r="0.52" fill="#9467bd" fill-opacity="0.68"/>
<circle cx="56.3" cy="98.7" r="0.52" fill="#9467bd" fill-opacity="0.68"/>
<circle cx="59.9" cy="93.3" r="0.52" fill="#9467bd" fill-opacity="0.68"/>
<circle cx="59.5" cy="98.5" r="0.52" fill="#9467bd" fill-opacity="0.68"/>
<circle cx="59.1" cy="99.1" r="0.52" fill="#9467bd" fill-opacity="0.68"/>
<circle cx="60.1" cy="97.4" r="0.52" fill="#9467bd" fill-opacity="0.68"/>
<circle cx="59.5" cy="97.0" r="0.52" fill="#9467bd" fill-opacity="0.68"/>
<circle cx="59.4" cy="96.0" r="0.52" fill="#9467bd" fill-opacity="0.68"/>
<circle cx="58.4" cy="102.3" r="0.52" fill="#9467bd" fill-opacity="0.68"/>
<circle cx="59.0" cy="97.6" r="0.52" fill="#9467bd" fill-opacity="0.68"/>
<circle cx="57.1" cy="96.0" r="0.52" fill="#9467bd" fill-opacity="0.68"/>
<circle cx="58.7" cy="100.3" r="0.52" fill="#9467bd" fill-opacity="0.68"/>
<circle cx="59.0" cy="99.3" r="0.52" fill="#9467bd" fill-opacity="0.68"/>
<circle cx="58.4" cy="101.4" r="0.52" fill="#9467bd" fill-opacity="0.68"/>
<circle cx="58.0" cy="96.6" r="0.52" fill="#9467bd" fill-opacity="0.68"/>
<circle cx="80.0" cy="97.6" r="0.52" fill="#7f7f7f" fill-opacity="0.68"/>
<circle cx="78.9" cy="96.6" r="0.52" fill="#7f7f7f" fill-opacity="0.68"/>
<circle cx="79.0" cy="98.5" r="0.52" fill="#7f7f7f" fill-opacity="0.68"/>
<circle cx="79.5" cy="95.6" r="0.52" fill="#7f7f7f" fill-opacity="0.68"/>
<circle cx="79.6" cy="97.8" r="0.52" fill="#7f7f7f" fill-opacity="0.68"/>
<circle cx="78.3" cy="98.7" r="0.52" fill="#7f7f7f" fill-opacity="0.68"/>
<circle cx="78.9" cy="97.0" r="0.52" fill="#7f7f7f" fill-opacity="0.68"/>
<circle cx="79.9" cy="99.6" r="0.52" fill="#7f7f7f" fill-opacity="0.68"/>
<circle cx="78.6" cy="98.2" r="0.52" fill="#7f7f7f" fill-opacity="0.68"/>
<circle cx="78.4" cy="101.2" r="0.52" fill="#7f7f7f" fill-opacity="0.68"/>
<circle cx="78.8" cy="99.4" r="0.52" fill="#7f7f7f" fill-opacity="0.68"/>
<circle cx="78.6" cy="98.8" r="0.52" fill="#7f7f7f" fill-opacity="0.68"/>
<circle cx="81.1" cy="101.3" r="0.52" fill="#ff7f0e" fill-opacity="0.68"/>
<circle cx="75.0" cy="103.9" r="0.52" fill="#ff7f0e" fill-opacity="0.68"/>
<circle cx="76.2" cy="102.5" r="0.52" fill="#ff7f0e" fill-opacity="0.68"/>
<circle cx="79.6" cy="104.9" r="0.52" fill="#ff7f0e" fill-opacity="0.68"/>
<circle cx="72.8" cy="103.7" r="0.52" fill="#ff7f0e" fill-opacity="0.68"/>
<circle cx="72.5" cy="104.1" r="0.52" fill="#ff7f0e" fill-opacity="0.68"/>
<circle cx="74.9" cy="103.3" r="0.52" fill="#ff7f0e" fill-opacity="0.68"/>
<circle cx="78.1" cy="104.4" r="0.52" fill="#ff7f0e" fill-opacity="0.68"/>
<circle cx="74.5" cy="100.3" r="0.52" fill="#ff7f0e" fill-opacity="0.68"/>
<circle cx="77.6" cy="105.3" r="0.52" fill="#ff7f0e" fill-opacity="0.68"/>
<circle cx="74.2" cy="104.2" r="0.52" fill="#ff7f0e" fill-opacity="0.68"/>
<circle cx="76.5" cy="104.7" r="0.52" fill="#ff7f0e" fill-opacity="0.68"/>
<circle cx="72.3" cy="101.7" r="0.52" fill="#ff7f0e" fill-opacity="0.68"/>
<circle cx="77.1" cy="105.1" r="0.52" fill="#ff7f0e" fill-opacity="0.68"/>
<circle cx="78.8" cy="100.6" r="0.52" fill="#ff7f0e" fill-opacity="0.68"/>
<circle cx="76.0" cy="104.3" r="0.52" fill="#ff7f0e" fill-opacity="0.68"/>
<circle cx="80.8" cy="103.7" r="0.52" fill="#ff7f0e" fill-opacity="0.68"/>
<circle cx="75.4" cy="103.3" r="0.52" fill="#ff7f0e" fill-opacity="0.68"/>
<circle cx="77.7" cy="103.4" r="0.52" fill="#ff7f0e" fill-opacity="0.68"/>
<circle cx="78.3" cy="103.1" r="0.52" fill="#ff7f0e" fill-opacity="0.68"/>
<circle cx="76.7" cy="102.9" r="0.52" fill="#ff7f0e" fill-opacity="0.68"/>
<circle cx="76.6" cy="102.6" r="0.52" fill="#ff7f0e" fill-opacity="0.68"/>
<circle cx="72.7" cy="104.1" r="0.52" fill="#ff7f0e" fill-opacity="0.68"/>
<circle cx="76.8" cy="102.9" r="0.52" fill="#ff7f0e" fill-opacity="0.68"/>
<circle cx="75.8" cy="105.0" r="0.52" fill="#ff7f0e" fill-opacity="0.68"/>
<circle cx="74.4" cy="102.7" r="0.52" fill="#ff7f0e" fill-opacity="0.68"/>
<circle cx="76.6" cy="104.6" r="0.52" fill="#ff7f0e" fill-opacity="0.68"/>
<circle cx="76.5" cy="100.3" r="0.52" fill="#ff7f0e" fill-opacity="0.68"/>
<circle cx="77.9" cy="104.7" r="0.52" fill="#ff7f0e" fill-opacity="0.68"/>
<circle cx="76.2" cy="103.1" r="0.52" fill="#ff7f0e" fill-opacity="0.68"/>
<circle cx="76.7" cy="103.1" r="0.52" fill="#ff7f0e" fill-opacity="0.68"/>
<circle cx="74.6" cy="101.8" r="0.52" fill="#ff7f0e" fill-opacity="0.68"/>
<circle cx="75.3" cy="102.3" r="0.52" fill="#ff7f0e" fill-opacity="0.68"/>
<circle cx="73.7" cy="103.7" r="0.52" fill="#ff7f0e" fill-opacity="0.68"/>
<circle cx="73.4" cy="103.6" r="0.52" fill="#ff7f0e" fill-opacity="0.68"/>
<circle cx="74.1" cy="103.4" r="0.52" fill="#ff7f0e" fill-opacity="0.68"/>
<circle cx="78.2" cy="104.6" r="0.52" fill="#ff7f0e" fill-opacity="0.68"/>
<circle cx="74.7" cy="103.1" r="0.52" fill="#ff7f0e" fill-opacity="0.68"/>
<circle cx="77.1" cy="101.1" r="0.52" fill="#ff7f0e" fill-opacity="0.68"/>
<circle cx="74.9" cy="103.4" r="0.52" fill="#ff7f0e" fill-opacity="0.68"/>
<circle cx="80.7" cy="108.2" r="0.52" fill="#ff7f0e" fill-opacity="0.68"/>
<circle cx="84.1" cy="108.8" r="0.52" fill="#ff7f0e" fill-opacity="0.68"/>
<circle cx="84.2" cy="108.1" r="0.52" fill="#ff7f0e" fill-opacity="0.68"/>
<circle cx="80.9" cy="107.8" r="0.52" fill="#ff7f0e" fill-opacity="0.68"/>
<circle cx="80.5" cy="106.9" r="0.52" fill="#ff7f0e" fill-opacity="0.68"/>
<circle cx="78.4" cy="102.9" r="0.52" fill="#ff7f0e" fill-opacity="0.68"/>
<circle cx="80.8" cy="107.8" r="0.52" fill="#ff7f0e" fill-opacity="0.68"/>
<circle cx="79.6" cy="108.5" r="0.52" fill="#ff7f0e" fill-opacity="0.68"/>
<circle cx="82.2" cy="106.5" r="0.52" fill="#ff7f0e" fill-opacity="0.68"/>
<circle cx="81.3" cy="98.0" r="0.52" fill="#ff7f0e" fill-opacity="0.68"/>
<circle cx="78.2" cy="102.7" r="0.52" fill="#ff7f0e" fill-opacity="0.68"/>
<circle cx="87.6" cy="113.8" r="0.52" fill="#ff7f0e" fill-opacity="0.68"/>
<circle cx="76.9" cy="110.6" r="0.52" fill="#ff7f0e" fill-opacity="0.68"/>
<circle cx="82.0" cy="106.1" r="0.52" fill="#ff7f0e" fill-opacity="0.68"/>
<circle cx="79.0" cy="100.7" r="0.52" fill="#ff7f0e" fill-opacity="0.68"/>
<circle cx="83.7" cy="107.6" r="0.52" fill="#ff7f0e" fill-opacity="0.68"/>
<circle cx="80.6" cy="105.8" r="0.52" fill="#ff7f0e" fill-opacity="0.68"/>
<circle cx="81.9" cy="105.5" r="0.52" fill="#ff7f0e" fill-opacity="0.68"/>
<circle cx="81.1" cy="105.8" r="0.52" fill="#ff7f0e" fill-opacity="0.68"/>
<circle cx="77.2" cy="109.9" r="0.52" fill="#ff7f0e" fill-opacity="0.68"/>
<circle cx="83.1" cy="109.4" r="0.52" fill="#ff7f0e" fill-opacity="0.68"/>
<circle cx="79.8" cy="108.4" r="0.52" fill="#ff7f0e" fill-opacity="0.68"/>
<circle cx="82.9" cy="107.2" r="0.52" fill="#ff7f0e" fill-opacity="0.68"/>
<circle cx="87.1" cy="111.7" r="0.52" fill="#ff7f0e" fill-opacity="0.68"/>
<circle cx="76.7" cy="103.2" r="0.52" fill="#ff7f0e" fill-opacity="0.68"/>
<circle cx="85.6" cy="110.8" r="0.52" fill="#ff7f0e" fill-opacity="0.68"/>
<circle cx="84.6" cy="108.7" r="0.52" fill="#ff7f0e" fill-opacity="0.68"/>
<circle cx="79.2" cy="106.2" r="0.52" fill="#ff7f0e" fill-opacity="0.68"/>
<circle cx="81.7" cy="104.0" r="0.52" fill="#ff7f0e" fill-opacity="0.68"/>
<circle cx="76.4" cy="106.7" r="0.52" fill="#ff7f0e" fill-opacity="0.68"/>
<circle cx="89.3" cy="110.1" r="0.52" fill="#ff7f0e" fill-opacity="0.68"/>
<circle cx="79.0" cy="106.2" r="0.52" fill="#ff7f0e" fill-opacity="0.68"/>
<circle cx="80.7" cy="105.2" r="0.52" fill="#ff7f0e" fill-opacity="0.68"/>
<circle cx="83.9" cy="105.8" r="0.52" fill="#ff7f0e" fill-opacity="0.68"/>
<circle cx="81.5" cy="112.3" r="0.52" fill="#ff7f0e" fill-opacity="0.68"/>
<circle cx="80.7" cy="108.8" r="0.52" fill="#ff7f0e" fill-opacity="0.68"/>
<circle cx="81.0" cy="106.6" r="0.52" fill="#ff7f0e" fill-opacity="0.68"/>
<circle cx="81.0" cy="105.2" r="0.52" fill="#ff7f0e" fill-opacity="0.68"/>
<circle cx="74.5" cy="103.4" r="0.52" fill="#ff7f0e" fill-opacity="0.68"/>
<circle cx="77.9" cy="106.8" r="0.52" fill="#ff7f0e" fill-opacity="0.68"/>
<circle cx="81.5" cy="107.7" r="0.52" fill="#ff7f0e" fill-opacity="0.68"/>
<circle cx="82.8" cy="107.2" r="0.52" fill="#ff7f0e" fill-opacity="0.68"/>
<circle cx="78.9" cy="106.4" r="0.52" fill="#ff7f0e" fill-opacity="0.68"/>
<circle cx="77.2" cy="109.4" r="0.52" fill="#ff7f0e" fill-opacity="0.68"/>
<circle cx="83.3" cy="108.4" r="0.52" fill="#ff7f0e" fill-opacity="0.68"/>
<circle cx="81.0" cy="107.2" r="0.52" fill="#ff7f0e" fill-opacity="0.68"/>
<circle cx="83.3" cy="106.5" r="0.52" fill="#ff7f0e" fill-opacity="0.68"/>
<circle cx="83.8" cy="108.3" r="0.52" fill="#ff7f0e" fill-opacity="0.68"/>
<circle cx="84.0" cy="110.9" r="0.52" fill="#ff7f0e" fill-opacity="0.68"/>
<circle cx="79.8" cy="107.1" r="0.52" fill="#ff7f0e" fill-opacity="0.68"/>
<circle cx="78.7" cy="106.2" r="0.52" fill="#ff7f0e" fill-opacity="0.68"/>
<circle cx="87.3" cy="110.7" r="0.52" fill="#ff7f0e" fill-opacity="0.68"/>
<circle cx="82.5" cy="109.0" r="0.52" fill="#ff7f0e" fill-opacity="0.68"/>
<circle cx="85.0" cy="108.4" r="0.52" fill="#ff7f0e" fill-opacity="0.68"/>
<circle cx="81.8" cy="102.7" r="0.52" fill="#ff7f0e" fill-opacity="0.68"/>
<circle cx="81.0" cy="109.5" r="0.52" fill="#ff7f0e" fill-opacity="0.68"/>
<circle cx="84.4" cy="106.2" r="0.52" fill="#ff7f0e" fill-opacity="0.68"/>
<circle cx="79.3" cy="107.5" r="0.52" fill="#ff7f0e" fill-opacity="0.68"/>
<circle cx="78.9" cy="105.8" r="0.52" fill="#ff7f0e" fill-opacity="0.68"/>
<circle cx="83.4" cy="104.1" r="0.52" fill="#ff7f0e" fill-opacity="0.68"/>
<circle cx="85.0" cy="113.5" r="0.52" fill="#ff7f0e" fill-opacity="0.68"/>
<circle cx="84.3" cy="107.1" r="0.52" fill="#ff7f0e" fill-opacity="0.68"/>
<circle cx="81.0" cy="109.3" r="0.52" fill="#ff7f0e" fill-opacity="0.68"/>
<circle cx="85.6" cy="107.4" r="0.52" fill="#ff7f0e" fill-opacity="0.68"/>
<circle cx="84.1" cy="106.4" r="0.52" fill="#ff7f0e" fill-opacity="0.68"/>
<circle cx="82.2" cy="106.4" r="0.52" fill="#ff7f0e" fill-opacity="0.68"/>
<circle cx="84.4" cy="110.6" r="0.52" fill="#ff7f0e" fill-opacity="0.68"/>
<circle cx="78.7" cy="108.9" r="0.52" fill="#ff7f0e" fill-opacity="0.68"/>
<circle cx="81.0" cy="105.7" r="0.52" fill="#ff7f0e" fill-opacity="0.68"/>
<circle cx="82.2" cy="110.0" r="0.52" fill="#ff7f0e" fill-opacity="0.68"/>
<circle cx="86.3" cy="107.0" r="0.52" fill="#ff7f0e" fill-opacity="0.68"/>
<circle cx="79.6" cy="102.8" r="0.52" fill="#ff7f0e" fill-opacity="0.68"/>
<circle cx="85.3" cy="105.6" r="0.52" fill="#ff7f0e" fill-opacity="0.68"/>
<circle cx="79.6" cy="104.4" r="0.52" fill="#ff7f0e" fill-opacity="0.68"/>
<circle cx="79.6" cy="104.5" r="0.52" fill="#ff7f0e" fill-opacity="0.68"/>
<circle cx="82.4" cy="108.7" r="0.52" fill="#ff7f0e" fill-opacity="0.68"/>
<circle cx="82.0" cy="108.2" r="0.52" fill="#ff7f0e" fill-opacity="0.68"/>
<circle cx="82.2" cy="112.4" r="0.52" fill="#ff7f0e" fill-opacity="0.68"/>
<circle cx="77.3" cy="103.2" r="0.52" fill="#ff7f0e" fill-opacity="0.68"/>
<circle cx="79.9" cy="105.6" r="0.52" fill="#ff7f0e" fill-opacity="0.68"/>
<circle cx="79.0" cy="107.6" r="0.52" fill="#ff7f0e" fill-opacity="0.68"/>
<circle cx="80.2" cy="103.9" r="0.52" fill="#ff7f0e" fill-opacity="0.68"/>
<circle cx="83.5" cy="111.6" r="0.52" fill="#ff7f0e" fill-opacity="0.68"/>
<circle cx="82.6" cy="106.3" r="0.52" fill="#ff7f0e" fill-opacity="0.68"/>
<circle cx="81.6" cy="107.0" r="0.52" fill="#ff7f0e" fill-opacity="0.68"/>
<circle cx="82.6" cy="109.6" r="0.52" fill="#ff7f0e" fill-opacity="0.68"/>
<circle cx="77.5" cy="100.9" r="0.52" fill="#ff7f0e" fill-opacity="0.68"/>
<circle cx="80.0" cy="105.1" r="0.52" fill="#ff7f0e" fill-opacity="0.68"/>
<circle cx="81.8" cy="105.1" r="0.52" fill="#ff7f0e" fill-opacity="0.68"/>
<circle cx="85.3" cy="113.4" r="0.52" fill="#ff7f0e" fill-opacity="0.68"/>
<circle cx="77.7" cy="105.5" r="0.52" fill="#ff7f0e" fill-opacity="0.68"/>
<circle cx="75.0" cy="102.4" r="0.52" fill="#ff7f0e" fill-opacity="0.68"/>
<circle cx="78.5" cy="110.6" r="0.52" fill="#ff7f0e" fill-opacity="0.68"/>
<circle cx="77.3" cy="103.0" r="0.52" fill="#ff7f0e" fill-opacity="0.68"/>
<circle cx="79.7" cy="110.8" r="0.52" fill="#ff7f0e" fill-opacity="0.68"/>
<circle cx="84.2" cy="113.0" r="0.52" fill="#ff7f0e" fill-opacity="0.68"/>
<circle cx="88.4" cy="117.2" r="0.52" fill="#ff7f0e" fill-opacity="0.68"/>
<circle cx="90.6" cy="115.0" r="0.52" fill="#ff7f0e" fill-opacity="0.68"/>
<circle cx="86.5" cy="113.9" r="0.52" fill="#ff7f0e" fill-opacity="0.68"/>
<circle cx="90.9" cy="116.3" r="0.52" fill="#ff7f0e" fill-opacity="0.68"/>
<circle cx="86.1" cy="115.1" r="0.52" fill="#ff7f0e" fill-opacity="0.68"/>
<circle cx="86.5" cy="113.4" r="0.52" fill="#ff7f0e" fill-opacity="0.68"/>
<circle cx="83.4" cy="110.0" r="0.52" fill="#ff7f0e" fill-opacity="0.68"/>
<circle cx="83.0" cy="109.4" r="0.52" fill="#ff7f0e" fill-opacity="0.68"/>
<circle cx="88.7" cy="114.1" r="0.52" fill="#ff7f0e" fill-opacity="0.68"/>
<circle cx="85.9" cy="118.5" r="0.52" fill="#ff7f0e" fill-opacity="0.68"/>
<circle cx="84.9" cy="107.3" r="0.52" fill="#ff7f0e" fill-opacity="0.68"/>
<circle cx="90.1" cy="114.4" r="0.52" fill="#ff7f0e" fill-opacity="0.68"/>
<circle cx="87.7" cy="108.4" r="0.52" fill="#ff7f0e" fill-opacity="0.68"/>
<circle cx="87.4" cy="114.3" r="0.52" fill="#ff7f0e" fill-opacity="0.68"/>
<circle cx="86.6" cy="113.8" r="0.52" fill="#ff7f0e" fill-opacity="0.68"/>
<circle cx="85.7" cy="108.4" r="0.52" fill="#ff7f0e" fill-opacity="0.68"/>
<circle cx="82.1" cy="110.4" r="0.52" fill="#ff7f0e" fill-opacity="0.68"/>
<circle cx="84.3" cy="112.2" r="0.52" fill="#ff7f0e" fill-opacity="0.68"/>
<circle cx="87.0" cy="114.0" r="0.52" fill="#ff7f0e" fill-opacity="0.68"/>
<circle cx="85.1" cy="111.5" r="0.52" fill="#ff7f0e" fill-opacity="0.68"/>
<circle cx="86.6" cy="116.6" r="0.52" fill="#ff7f0e" fill-opacity="0.68"/>
<circle cx="87.4" cy="113.2" r="0.52" fill="#ff7f0e" fill-opacity="0.68"/>
<circle cx="87.6" cy="118.2" r="0.52" fill="#ff7f0e" fill-opacity="0.68"/>
<circle cx="85.9" cy="115.8" r="0.52" fill="#ff7f0e" fill-opacity="0.68"/>
<circle cx="87.5" cy="111.9" r="0.52" fill="#ff7f0e" fill-opacity="0.68"/>
<circle cx="85.8" cy="109.6" r="0.52" fill="#ff7f0e" fill-opacity="0.68"/>
<circle cx="87.9" cy="113.3" r="0.52" fill="#ff7f0e" fill-opacity="0.68"/>
<circle cx="84.3" cy="116.6" r="0.52" fill="#ff7f0e" fill-opacity="0.68"/>
<circle cx="86.3" cy="117.9" r="0.52" fill="#ff7f0e" fill-opacity="0.68"/>
<circle cx="84.7" cy="113.5" r="0.52" fill="#ff7f0e" fill-opacity="0.68"/>
<circle cx="86.0" cy="112.3" r="0.52" fill="#ff7f0e" fill-opacity="0.68"/>
<circle cx="85.7" cy="111.7" r="0.52" fill="#ff7f0e" fill-opacity="0.68"/>
<circle cx="87.1" cy="113.0" r="0.52" fill="#ff7f0e" fill-opacity="0.68"/>
<circle cx="82.6" cy="105.4" r="0.52" fill="#ff7f0e" fill-opacity="0.68"/>
<circle cx="87.9" cy="112.7" r="0.52" fill="#ff7f0e" fill-opacity="0.68"/>
<circle cx="83.2" cy="115.1" r="0.52" fill="#ff7f0e" fill-opacity="0.68"/>
<circle cx="88.2" cy="116.2" r="0.52" fill="#ff7f0e" fill-opacity="0.68"/>
<circle cx="86.3" cy="118.8" r="0.52" fill="#ff7f0e" fill-opacity="0.68"/>
<circle cx="89.0" cy="120.6" r="0.52" fill="#ff7f0e" fill-opacity="0.68"/>
<circle cx="86.7" cy="115.6" r="0.52" fill="#ff7f0e" fill-opacity="0.68"/>
<circle cx="83.9" cy="110.5" r="0.52" fill="#ff7f0e" fill-opacity="0.68"/>
<circle cx="89.0" cy="115.3" r="0.52" fill="#ff7f0e" fill-opacity="0.68"/>
<circle cx="89.7" cy="114.8" r="0.52" fill="#ff7f0e" fill-opacity="0.68"/>
<circle cx="82.8" cy="109.1" r="0.52" fill="#ff7f0e" fill-opacity="0.68"/>
<circle cx="88.9" cy="122.5" r="0.52" fill="#ff7f0e" fill-opacity="0.68"/>
<circle cx="89.5" cy="127.5" r="0.52" fill="#ff7f0e" fill-opacity="0.68"/>
<circle cx="90.9" cy="123.8" r="0.52" fill="#ff7f0e" fill-opacity="0.68"/>
<circle cx="90.7" cy="124.4" r="0.52" fill="#ff7f0e" fill-opacity="0.68"/>
<circle cx="91.4" cy="127.9" r="0.52" fill="#ff7f0e" fill-opacity="0.68"/>
<circle cx="91.7" cy="122.0" r="0.52" fill="#ff7f0e" fill-opacity="0.68"/>
<circle cx="88.8" cy="131.1" r="0.52" fill="#ff7f0e" fill-opacity="0.68"/>
<circle cx="91.5" cy="129.3" r="0.52" fill="#ff7f0e" fill-opacity="0.68"/>
<circle cx="87.4" cy="124.2" r="0.52" fill="#ff7f0e" fill-opacity="0.68"/>
<circle cx="89.5" cy="119.3" r="0.52" fill="#ff7f0e" fill-opacity="0.68"/>
<circle cx="90.1" cy="128.0" r="0.52" fill="#ff7f0e" fill-opacity="0.68"/>
<circle cx="93.5" cy="130.9" r="0.52" fill="#ff7f0e" fill-opacity="0.68"/>
<circle cx="88.0" cy="119.7" r="0.52" fill="#ff7f0e" fill-opacity="0.68"/>
<circle cx="92.1" cy="128.5" r="0.52" fill="#ff7f0e" fill-opacity="0.68"/>
<circle cx="89.9" cy="119.8" r="0.52" fill="#ff7f0e" fill-opacity="0.68"/>
<circle cx="92.4" cy="127.9" r="0.52" fill="#ff7f0e" fill-opacity="0.68"/>
<circle cx="91.1" cy="122.9" r="0.52" fill="#ff7f0e" fill-opacity="0.68"/>
<circle cx="91.6" cy="128.0" r="0.52" fill="#ff7f0e" fill-opacity="0.68"/>
<circle cx="88.2" cy="117.9" r="0.52" fill="#ff7f0e" fill-opacity="0.68"/>
<circle cx="91.4" cy="126.8" r="0.52" fill="#ff7f0e" fill-opacity="0.68"/>
<circle cx="91.1" cy="128.5" r="0.52" fill="#ff7f0e" fill-opacity="0.68"/>
<circle cx="89.4" cy="124.9" r="0.52" fill="#ff7f0e" fill-opacity="0.68"/>
<circle cx="83.1" cy="121.7" r="0.52" fill="#ff7f0e" fill-opacity="0.68"/>
<circle cx="88.8" cy="119.2" r="0.52" fill="#ff7f0e" fill-opacity="0.68"/>
<circle cx="90.2" cy="124.6" r="0.52" fill="#ff7f0e" fill-opacity="0.68"/>
<circle cx="86.4" cy="121.8" r="0.52" fill="#ff7f0e" fill-opacity="0.68"/>
<circle cx="89.3" cy="119.5" r="0.52" fill="#ff7f0e" fill-opacity="0.68"/>
<circle cx="83.7" cy="116.8" r="0.52" fill="#ff7f0e" fill-opacity="0.68"/>
<circle cx="85.4" cy="124.0" r="0.52" fill="#ff7f0e" fill-opacity="0.68"/>
<circle cx="85.6" cy="121.3" r="0.52" fill="#ff7f0e" fill-opacity="0.68"/>
<circle cx="83.4" cy="120.5" r="0.52" fill="#ff7f0e" fill-opacity="0.68"/>
<circle cx="79.7" cy="123.1" r="0.52" fill="#ff7f0e" fill-opacity="0.68"/>
<circle cx="82.8" cy="116.7" r="0.52" fill="#ff7f0e" fill-opacity="0.68"/>
<circle cx="81.7" cy="117.5" r="0.52" fill="#ff7f0e" fill-opacity="0.68"/>
<circle cx="86.6" cy="123.2" r="0.52" fill="#ff7f0e" fill-opacity="0.68"/>
<circle cx="79.9" cy="122.8" r="0.52" fill="#ff7f0e" fill-opacity="0.68"/>
<circle cx="86.7" cy="118.3" r="0.52" fill="#ff7f0e" fill-opacity="0.68"/>
<circle cx="70.2" cy="103.1" r="0.52" fill="#e377c2" fill-opacity="0.68"/>
<circle cx="71.2" cy="104.4" r="0.52" fill="#e377c2" fill-opacity="0.68"/>
<circle cx="71.6" cy="101.6" r="0.52" fill="#e377c2" fill-opacity="0.68"/>
<circle cx="72.3" cy="102.2" r="0.52" fill="#e377c2" fill-opacity="0.68"/>
<circle cx="73.1" cy="102.6" r="0.52" fill="#e377c2" fill-opacity="0.68"/>
<circle cx="71.2" cy="103.0" r="0.52" fill="#e377c2" fill-opacity="0.68"/>
<circle cx="71.3" cy="105.6" r="0.52" fill="#e377c2" fill-opacity="0.68"/>
<circle cx="73.0" cy="104.7" r="0.52" fill="#e377c2" fill-opacity="0.68"/>
<circle cx="72.4" cy="102.1" r="0.52" fill="#e377c2" fill-opacity="0.68"/>
<circle cx="71.4" cy="103.3" r="0.52" fill="#e377c2" fill-opacity="0.68"/>
<circle cx="70.8" cy="104.6" r="0.52" fill="#e377c2" fill-opacity="0.68"/>
<circle cx="71.1" cy="103.1" r="0.52" fill="#e377c2" fill-opacity="0.68"/>
<circle cx="70.7" cy="101.5" r="0.52" fill="#e377c2" fill-opacity="0.68"/>
<circle cx="72.7" cy="105.6" r="0.52" fill="#e377c2" fill-opacity="0.68"/>
<circle cx="76.8" cy="113.0" r="0.52" fill="#e377c2" fill-opacity="0.68"/>
<circle cx="72.4" cy="115.3" r="0.52" fill="#e377c2" fill-opacity="0.68"/>
<circle cx="78.3" cy="115.6" r="0.52" fill="#e377c2" fill-opacity="0.68"/>
<circle cx="77.9" cy="118.0" r="0.52" fill="#e377c2" fill-opacity="0.68"/>
<circle cx="78.2" cy="114.1" r="0.52" fill="#e377c2" fill-opacity="0.68"/>
<circle cx="78.1" cy="116.6" r="0.52" fill="#e377c2" fill-opacity="0.68"/>
<circle cx="74.2" cy="114.2" r="0.52" fill="#e377c2" fill-opacity="0.68"/>
<circle cx="74.4" cy="114.8" r="0.52" fill="#e377c2" fill-opacity="0.68"/>
<circle cx="77.4" cy="112.9" r="0.52" fill="#e377c2" fill-opacity="0.68"/>
<circle cx="73.4" cy="117.6" r="0.52" fill="#e377c2" fill-opacity="0.68"/>
<circle cx="77.1" cy="117.9" r="0.52" fill="#e377c2" fill-opacity="0.68"/>
<circle cx="74.5" cy="117.1" r="0.52" fill="#e377c2" fill-opacity="0.68"/>
<circle cx="79.6" cy="119.0" r="0.52" fill="#e377c2" fill-opacity="0.68"/>
<circle cx="76.2" cy="115.5" r="0.52" fill="#e377c2" fill-opacity="0.68"/>
<circle cx="76.3" cy="117.0" r="0.52" fill="#e377c2" fill-opacity="0.68"/>
<circle cx="78.1" cy="115.2" r="0.52" fill="#e377c2" fill-opacity="0.68"/>
<circle cx="74.5" cy="116.5" r="0.52" fill="#e377c2" fill-opacity="0.68"/>
<circle cx="75.8" cy="116.3" r="0.52" fill="#e377c2" fill-opacity="0.68"/>
<circle cx="76.9" cy="118.2" r="0.52" fill="#e377c2" fill-opacity="0.68"/>
<circle cx="78.2" cy="114.1" r="0.52" fill="#e377c2" fill-opacity="0.68"/>
<circle cx="77.0" cy="118.5" r="0.52" fill="#e377c2" fill-opacity="0.68"/>
<circle cx="75.7" cy="115.9" r="0.52" fill="#e377c2" fill-opacity="0.68"/>
<circle cx="82.4" cy="113.0" r="0.52" fill="#17becf" fill-opacity="0.68"/>
<circle cx="81.3" cy="108.9" r="0.52" fill="#17becf" fill-opacity="0.68"/>
<circle cx="78.5" cy="111.4" r="0.52" fill="#17becf" fill-opacity="0.68"/>
<circle cx="81.1" cy="115.1" r="0.52" fill="#17becf" fill-opacity="0.68"/>
<circle cx="79.1" cy="112.8" r="0.52" fill="#17becf" fill-opacity="0.68"/>
<circle cx="81.7" cy="108.3" r="0.52" fill="#17becf" fill-opacity="0.68"/>
<circle cx="79.2" cy="111.3" r="0.52" fill="#17becf" fill-opacity="0.68"/>
<circle cx="79.7" cy="110.8" r="0.52" fill="#17becf" fill-opacity="0.68"/>
<circle cx="81.3" cy="109.7" r="0.52" fill="#17becf" fill-opacity="0.68"/>
<circle cx="81.2" cy="110.0" r="0.52" fill="#17becf" fill-opacity="0.68"/>
<circle cx="79.6" cy="111.9" r="0.52" fill="#17becf" fill-opacity="0.68"/>
<circle cx="79.6" cy="111.5" r="0.52" fill="#17becf" fill-opacity="0.68"/>
<circle cx="83.1" cy="111.0" r="0.52" fill="#17becf" fill-opacity="0.68"/>
<circle cx="80.3" cy="112.2" r="0.52" fill="#17becf" fill-opacity="0.68"/>
<circle cx="79.9" cy="112.7" r="0.52" fill="#17becf" fill-opacity="0.68"/>
<circle cx="78.4" cy="112.0" r="0.52" fill="#17becf" fill-opacity="0.68"/>
<circle cx="79.7" cy="109.7" r="0.52" fill="#17becf" fill-opacity="0.68"/>
<circle cx="83.3" cy="109.6" r="0.52" fill="#17becf" fill-opacity="0.68"/>
<circle cx="83.3" cy="112.1" r="0.52" fill="#17becf" fill-opacity="0.68"/>
<circle cx="82.8" cy="109.4" r="0.52" fill="#17becf" fill-opacity="0.68"/>
<circle cx="82.4" cy="113.3" r="0.52" fill="#17becf" fill-opacity="0.68"/>
<circle cx="80.3" cy="110.8" r="0.52" fill="#17becf" fill-opacity="0.68"/>
<circle cx="84.4" cy="111.3" r="0.52" fill="#17becf" fill-opacity="0.68"/>
<circle cx="79.8" cy="110.0" r="0.52" fill="#17becf" fill-opacity="0.68"/>
<circle cx="81.2" cy="111.5" r="0.52" fill="#17becf" fill-opacity="0.68"/>
<circle cx="80.8" cy="113.8" r="0.52" fill="#17becf" fill-opacity="0.68"/>
<circle cx="70.2" cy="107.0" r="0.52" fill="#9467bd" fill-opacity="0.68"/>
<circle cx="72.0" cy="105.5" r="0.52" fill="#9467bd" fill-opacity="0.68"/>
<circle cx="71.5" cy="108.3" r="0.52" fill="#9467bd" fill-opacity="0.68"/>
<circle cx="69.1" cy="105.4" r="0.52" fill="#9467bd" fill-opacity="0.68"/>
<circle cx="69.5" cy="104.7" r="0.52" fill="#9467bd" fill-opacity="0.68"/>
<circle cx="71.0" cy="104.6" r="0.52" fill="#9467bd" fill-opacity="0.68"/>
<circle cx="71.0" cy="108.0" r="0.52" fill="#9467bd" fill-opacity="0.68"/>
<circle cx="68.9" cy="106.2" r="0.52" fill="#9467bd" fill-opacity="0.68"/>
<circle cx="68.6" cy="107.3" r="0.52" fill="#9467bd" fill-opacity="0.68"/>
<circle cx="69.8" cy="106.2" r="0.52" fill="#9467bd" fill-opacity="0.68"/>
<circle cx="75.1" cy="109.5" r="0.52" fill="#9467bd" fill-opacity="0.68"/>
<circle cx="74.7" cy="109.0" r="0.52" fill="#9467bd" fill-opacity="0.68"/>
<circle cx="74.5" cy="109.1" r="0.52" fill="#9467bd" fill-opacity="0.68"/>
<circle cx="73.8" cy="109.1" r="0.52" fill="#9467bd" fill-opacity="0.68"/>
<circle cx="73.1" cy="108.5" r="0.52" fill="#9467bd" fill-opacity="0.68"/>
<circle cx="76.9" cy="109.1" r="0.52" fill="#9467bd" fill-opacity="0.68"/>
<circle cx="73.7" cy="109.3" r="0.52" fill="#9467bd" fill-opacity="0.68"/>
<circle cx="74.0" cy="107.3" r="0.52" fill="#9467bd" fill-opacity="0.68"/>
<circle cx="73.3" cy="118.6" r="0.52" fill="#2ca02c" fill-opacity="0.68"/>
<circle cx="74.4" cy="117.4" r="0.52" fill="#2ca02c" fill-opacity="0.68"/>
<circle cx="73.1" cy="115.9" r="0.52" fill="#2ca02c" fill-opacity="0.68"/>
<circle cx="75.3" cy="117.9" r="0.52" fill="#2ca02c" fill-opacity="0.68"/>
<circle cx="73.0" cy="114.3" r="0.52" fill="#2ca02c" fill-opacity="0.68"/>
<circle cx="72.6" cy="121.2" r="0.52" fill="#2ca02c" fill-opacity="0.68"/>
<circle cx="72.9" cy="117.4" r="0.52" fill="#2ca02c" fill-opacity="0.68"/>
<circle cx="74.2" cy="117.3" r="0.52" fill="#2ca02c" fill-opacity="0.68"/>
<circle cx="73.7" cy="115.4" r="0.52" fill="#2ca02c" fill-opacity="0.68"/>
<circle cx="72.9" cy="120.0" r="0.52" fill="#2ca02c" fill-opacity="0.68"/>
<circle cx="74.9" cy="114.5" r="0.52" fill="#1f77b4" fill-opacity="0.68"/>
<circle cx="73.5" cy="111.2" r="0.52" fill="#1f77b4" fill-opacity="0.68"/>
<circle cx="76.4" cy="115.1" r="0.52" fill="#1f77b4" fill-opacity="0.68"/>
<circle cx="74.3" cy="113.8" r="0.52" fill="#1f77b4" fill-opacity="0.68"/>
<circle cx="76.6" cy="109.8" r="0.52" fill="#1f77b4" fill-opacity="0.68"/>
<circle cx="76.7" cy="109.3" r="0.52" fill="#1f77b4" fill-opacity="0.68"/>
<circle cx="74.8" cy="111.9" r="0.52" fill="#1f77b4" fill-opacity="0.68"/>
<circle cx="71.9" cy="111.7" r="0.52" fill="#1f77b4" fill-opacity="0.68"/>
<circle cx="74.5" cy="107.6" r="0.52" fill="#1f77b4" fill-opacity="0.68"/>
<circle cx="75.4" cy="114.3" r="0.52" fill="#1f77b4" fill-opacity="0.68"/>
<circle cx="75.4" cy="115.8" r="0.52" fill="#1f77b4" fill-opacity="0.68"/>
<circle cx="74.3" cy="108.1" r="0.52" fill="#1f77b4" fill-opacity="0.68"/>
<circle cx="65.1" cy="128.4" r="0.52" fill="#ff7f0e" fill-opacity="0.68"/>
<circle cx="63.2" cy="125.7" r="0.52" fill="#ff7f0e" fill-opacity="0.68"/>
<circle cx="62.8" cy="128.1" r="0.52" fill="#ff7f0e" fill-opacity="0.68"/>
<circle cx="62.3" cy="127.6" r="0.52" fill="#ff7f0e" fill-opacity="0.68"/>
<circle cx="64.0" cy="126.1" r="0.52" fill="#ff7f0e" fill-opacity="0.68"/>
<circle cx="57.5" cy="124.2" r="0.52" fill="#ff7f0e" fill-opacity="0.68"/>
<circle cx="63.9" cy="125.9" r="0.52" fill="#ff7f0e" fill-opacity="0.68"/>
<circle cx="57.3" cy="125.4" r="0.52" fill="#ff7f0e" fill-opacity="0.68"/>
<circle cx="59.1" cy="124.7" r="0.52" fill="#ff7f0e" fill-opacity="0.68"/>
<circle cx="59.5" cy="126.1" r="0.52" fill="#ff7f0e" fill-opacity="0.68"/>
<circle cx="58.7" cy="125.4" r="0.52" fill="#ff7f0e" fill-opacity="0.68"/>
<circle cx="60.5" cy="126.5" r="0.52" fill="#ff7f0e" fill-opacity="0.68"/>
<circle cx="60.7" cy="128.0" r="0.52" fill="#ff7f0e" fill-opacity="0.68"/>
<circle cx="61.4" cy="122.7" r="0.52" fill="#ff7f0e" fill-opacity="0.68"/>
<circle cx="58.8" cy="125.7" r="0.52" fill="#ff7f0e" fill-opacity="0.68"/>
<circle cx="62.7" cy="124.0" r="0.52" fill="#ff7f0e" fill-opacity="0.68"/>
<circle cx="58.3" cy="126.9" r="0.52" fill="#ff7f0e" fill-opacity="0.68"/>
<circle cx="59.4" cy="129.7" r="0.52" fill="#ff7f0e" fill-opacity="0.68"/>
<circle cx="59.1" cy="129.6" r="0.52" fill="#ff7f0e" fill-opacity="0.68"/>
<circle cx="56.0" cy="123.5" r="0.52" fill="#ff7f0e" fill-opacity="0.68"/>
<circle cx="64.1" cy="128.5" r="0.52" fill="#ff7f0e" fill-opacity="0.68"/>
<circle cx="61.9" cy="127.8" r="0.52" fill="#ff7f0e" fill-opacity="0.68"/>
<circle cx="61.9" cy="124.8" r="0.52" fill="#ff7f0e" fill-opacity="0.68"/>
<circle cx="63.2" cy="126.3" r="0.52" fill="#ff7f0e" fill-opacity="0.68"/>
<circle cx="63.4" cy="127.7" r="0.52" fill="#ff7f0e" fill-opacity="0.68"/>
<circle cx="54.5" cy="124.7" r="0.52" fill="#ff7f0e" fill-opacity="0.68"/>
<circle cx="63.8" cy="127.2" r="0.52" fill="#ff7f0e" fill-opacity="0.68"/>
<circle cx="59.2" cy="128.0" r="0.52" fill="#ff7f0e" fill-opacity="0.68"/>
<circle cx="59.1" cy="126.3" r="0.52" fill="#ff7f0e" fill-opacity="0.68"/>
<circle cx="60.7" cy="127.8" r="0.52" fill="#ff7f0e" fill-opacity="0.68"/>
<circle cx="65.0" cy="127.6" r="0.52" fill="#ff7f0e" fill-opacity="0.68"/>
<circle cx="66.0" cy="131.5" r="0.52" fill="#ff7f0e" fill-opacity="0.68"/>
<circle cx="65.5" cy="129.8" r="0.52" fill="#ff7f0e" fill-opacity="0.68"/>
<circle cx="60.8" cy="127.8" r="0.52" fill="#ff7f0e" fill-opacity="0.68"/>
<circle cx="60.0" cy="125.9" r="0.52" fill="#ff7f0e" fill-opacity="0.68"/>
<circle cx="60.2" cy="126.1" r="0.52" fill="#ff7f0e" fill-opacity="0.68"/>
<circle cx="65.3" cy="128.7" r="0.52" fill="#ff7f0e" fill-opacity="0.68"/>
<circle cx="59.1" cy="123.3" r="0.52" fill="#ff7f0e" fill-opacity="0.68"/>
<circle cx="60.2" cy="126.6" r="0.52" fill="#ff7f0e" fill-opacity="0.68"/>
<circle cx="57.1" cy="125.0" r="0.52" fill="#ff7f0e" fill-opacity="0.68"/>
<circle cx="53.6" cy="128.8" r="0.52" fill="#ff7f0e" fill-opacity="0.68"/>
<circle cx="60.2" cy="133.2" r="0.52" fill="#ff7f0e" fill-opacity="0.68"/>
<circle cx="60.3" cy="127.2" r="0.52" fill="#ff7f0e" fill-opacity="0.68"/>
<circle cx="64.7" cy="127.8" r="0.52" fill="#ff7f0e" fill-opacity="0.68"/>
<circle cx="60.9" cy="126.7" r="0.52" fill="#ff7f0e" fill-opacity="0.68"/>
<circle cx="58.6" cy="130.8" r="0.52" fill="#ff7f0e" fill-opacity="0.68"/>
<circle cx="63.4" cy="131.3" r="0.52" fill="#ff7f0e" fill-opacity="0.68"/>
<circle cx="59.4" cy="127.6" r="0.52" fill="#ff7f0e" fill-opacity="0.68"/>
<circle cx="57.8" cy="129.6" r="0.52" fill="#ff7f0e" fill-opacity="0.68"/>
<circle cx="56.2" cy="128.7" r="0.52" fill="#ff7f0e" fill-opacity="0.68"/>
<circle cx="63.7" cy="130.6" r="0.52" fill="#ff7f0e" fill-opacity="0.68"/>
<circle cx="57.6" cy="129.9" r="0.52" fill="#ff7f0e" fill-opacity="0.68"/>
<circle cx="58.3" cy="125.8" r="0.52" fill="#ff7f0e" fill-opacity="0.68"/>
<circle cx="56.4" cy="130.0" r="0.52" fill="#ff7f0e" fill-opacity="0.68"/>
<circle cx="65.3" cy="126.2" r="0.52" fill="#ff7f0e" fill-opacity="0.68"/>
<circle cx="42.2" cy="128.5" r="0.52" fill="#8c564b" fill-opacity="0.68"/>
<circle cx="45.5" cy="130.5" r="0.52" fill="#8c564b" fill-opacity="0.68"/>
<circle cx="42.5" cy="126.3" r="0.52" fill="#8c564b" fill-opacity="0.68"/>
<circle cx="42.3" cy="130.8" r="0.52" fill="#8c564b" fill-opacity="0.68"/>
<circle cx="44.9" cy="128.6" r="0.52" fill="#8c564b" fill-opacity="0.68"/>
<circle cx="42.3" cy="128.2" r="0.52" fill="#8c564b" fill-opacity="0.68"/>
<circle cx="41.1" cy="130.4" r="0.52" fill="#8c564b" fill-opacity="0.68"/>
<circle cx="41.9" cy="130.6" r="0.52" fill="#8c564b" fill-opacity="0.68"/>
<circle cx="41.3" cy="127.1" r="0.52" fill="#8c564b" fill-opacity="0.68"/>
<circle cx="43.3" cy="127.9" r="0.52" fill="#8c564b" fill-opacity="0.68"/>
<circle cx="43.8" cy="129.0" r="0.52" fill="#8c564b" fill-opacity="0.68"/>
<circle cx="41.8" cy="129.9" r="0.52" fill="#8c564b" fill-opacity="0.68"/>
<circle cx="43.8" cy="126.1" r="0.52" fill="#8c564b" fill-opacity="0.68"/>
<circle cx="44.8" cy="129.7" r="0.52" fill="#8c564b" fill-opacity="0.68"/>
<circle cx="43.8" cy="126.2" r="0.52" fill="#8c564b" fill-opacity="0.68"/>
<circle cx="42.3" cy="128.5" r="0.52" fill="#8c564b" fill-opacity="0.68"/>
<circle cx="44.1" cy="126.8" r="0.52" fill="#8c564b" fill-opacity="0.68"/>
<circle cx="42.1" cy="126.0" r="0.52" fill="#8c564b" fill-opacity="0.68"/>
<circle cx="47.5" cy="133.8" r="0.52" fill="#c58fd6" fill-opacity="0.68"/>
<circle cx="44.3" cy="131.7" r="0.52" fill="#c58fd6" fill-opacity="0.68"/>
<circle cx="49.1" cy="136.5" r="0.52" fill="#c58fd6" fill-opacity="0.68"/>
<circle cx="49.5" cy="132.3" r="0.52" fill="#c58fd6" fill-opacity="0.68"/>
<circle cx="45.4" cy="130.9" r="0.52" fill="#c58fd6" fill-opacity="0.68"/>
<circle cx="46.5" cy="133.3" r="0.52" fill="#c58fd6" fill-opacity="0.68"/>
<circle cx="47.9" cy="136.7" r="0.52" fill="#c58fd6" fill-opacity="0.68"/>
<circle cx="48.6" cy="130.6" r="0.52" fill="#c58fd6" fill-opacity="0.68"/>
<circle cx="51.4" cy="135.1" r="0.52" fill="#c58fd6" fill-opacity="0.68"/>
<circle cx="48.2" cy="131.4" r="0.52" fill="#c58fd6" fill-opacity="0.68"/>
<circle cx="43.9" cy="130.8" r="0.52" fill="#c58fd6" fill-opacity="0.68"/>
<circle cx="50.0" cy="131.2" r="0.52" fill="#c58fd6" fill-opacity="0.68"/>
<circle cx="45.1" cy="133.4" r="0.52" fill="#c58fd6" fill-opacity="0.68"/>
<circle cx="48.5" cy="134.3" r="0.52" fill="#c58fd6" fill-opacity="0.68"/>
<circle cx="49.4" cy="136.1" r="0.52" fill="#c58fd6" fill-opacity="0.68"/>
<circle cx="46.2" cy="135.2" r="0.52" fill="#c58fd6" fill-opacity="0.68"/>
<circle cx="45.8" cy="134.5" r="0.52" fill="#c58fd6" fill-opacity="0.68"/>
<circle cx="48.4" cy="133.5" r="0.52" fill="#c58fd6" fill-opacity="0.68"/>
<circle cx="50.1" cy="133.0" r="0.52" fill="#c58fd6" fill-opacity="0.68"/>
<circle cx="50.4" cy="134.9" r="0.52" fill="#c58fd6" fill-opacity="0.68"/>
<circle cx="48.3" cy="131.8" r="0.52" fill="#c58fd6" fill-opacity="0.68"/>
<circle cx="46.3" cy="131.8" r="0.52" fill="#c58fd6" fill-opacity="0.68"/>
<circle cx="47.6" cy="132.9" r="0.52" fill="#c58fd6" fill-opacity="0.68"/>
<circle cx="54.6" cy="134.4" r="0.52" fill="#c58fd6" fill-opacity="0.68"/>
<circle cx="49.7" cy="131.1" r="0.52" fill="#c58fd6" fill-opacity="0.68"/>
<circle cx="46.4" cy="132.3" r="0.52" fill="#c58fd6" fill-opacity="0.68"/>
<circle cx="48.4" cy="130.7" r="0.52" fill="#c58fd6" fill-opacity="0.68"/>
<circle cx="51.5" cy="131.8" r="0.52" fill="#c58fd6" fill-opacity="0.68"/>
<circle cx="50.4" cy="127.9" r="0.52" fill="#c58fd6" fill-opacity="0.68"/>
<circle cx="48.0" cy="133.6" r="0.52" fill="#c58fd6" fill-opacity="0.68"/>
<circle cx="48.4" cy="134.3" r="0.52" fill="#c58fd6" fill-opacity="0.68"/>
<circle cx="48.6" cy="133.4" r="0.52" fill="#c58fd6" fill-opacity="0.68"/>
<circle cx="43.8" cy="131.4" r="0.52" fill="#c58fd6" fill-opacity="0.68"/>
<circle cx="42.8" cy="134.4" r="0.52" fill="#c58fd6" fill-opacity="0.68"/>
<circle cx="48.7" cy="132.6" r="0.52" fill="#c58fd6" fill-opacity="0.68"/>
<circle cx="46.2" cy="131.7" r="0.52" fill="#c58fd6" fill-opacity="0.68"/>
<circle cx="52.1" cy="136.8" r="0.52" fill="#c58fd6" fill-opacity="0.68"/>
<circle cx="47.9" cy="135.8" r="0.52" fill="#c58fd6" fill-opacity="0.68"/>
<circle cx="44.9" cy="137.5" r="0.52" fill="#e377c2" fill-opacity="0.68"/>
<circle cx="45.8" cy="139.4" r="0.52" fill="#e377c2" fill-opacity="0.68"/>
<circle cx="45.8" cy="141.3" r="0.52" fill="#e377c2" fill-opacity="0.68"/>
<circle cx="48.6" cy="139.8" r="0.52" fill="#e377c2" fill-opacity="0.68"/>
<circle cx="46.2" cy="141.5" r="0.52" fill="#e377c2" fill-opacity="0.68"/>
<circle cx="46.2" cy="142.7" r="0.52" fill="#e377c2" fill-opacity="0.68"/>
<circle cx="47.6" cy="138.8" r="0.52" fill="#e377c2" fill-opacity="0.68"/>
<circle cx="46.3" cy="140.5" r="0.52" fill="#e377c2" fill-opacity="0.68"/>
<circle cx="46.5" cy="138.2" r="0.52" fill="#e377c2" fill-opacity="0.68"/>
<circle cx="44.8" cy="136.8" r="0.52" fill="#e377c2" fill-opacity="0.68"/>
<circle cx="46.6" cy="141.3" r="0.52" fill="#e377c2" fill-opacity="0.68"/>
<circle cx="46.3" cy="136.7" r="0.52" fill="#e377c2" fill-opacity="0.68"/>
<circle cx="45.9" cy="139.6" r="0.52" fill="#e377c2" fill-opacity="0.68"/>
<circle cx="45.1" cy="139.4" r="0.52" fill="#e377c2" fill-opacity="0.68"/>
<circle cx="51.4" cy="132.1" r="0.52" fill="#e377c2" fill-opacity="0.68"/>
<circle cx="50.0" cy="132.0" r="0.52" fill="#e377c2" fill-opacity="0.68"/>
<circle cx="48.8" cy="131.1" r="0.52" fill="#e377c2" fill-opacity="0.68"/>
<circle cx="50.1" cy="132.1" r="0.52" fill="#e377c2" fill-opacity="0.68"/>
<circle cx="49.9" cy="130.7" r="0.52" fill="#e377c2" fill-opacity="0.68"/>
<circle cx="49.7" cy="129.7" r="0.52" fill="#e377c2" fill-opacity="0.68"/>
<circle cx="54.5" cy="132.0" r="0.52" fill="#e377c2" fill-opacity="0.68"/>
<circle cx="50.9" cy="135.6" r="0.52" fill="#e377c2" fill-opacity="0.68"/>
<circle cx="52.8" cy="127.9" r="0.52" fill="#e377c2" fill-opacity="0.68"/>
<circle cx="51.4" cy="132.7" r="0.52" fill="#e377c2" fill-opacity="0.68"/>
<circle cx="53.8" cy="133.6" r="0.52" fill="#e377c2" fill-opacity="0.68"/>
<circle cx="51.5" cy="128.6" r="0.52" fill="#e377c2" fill-opacity="0.68"/>
<circle cx="48.3" cy="131.5" r="0.52" fill="#e377c2" fill-opacity="0.68"/>
<circle cx="51.0" cy="129.0" r="0.52" fill="#e377c2" fill-opacity="0.68"/>
<circle cx="71.6" cy="130.1" r="0.52" fill="#8c564b" fill-opacity="0.68"/>
<circle cx="72.1" cy="131.2" r="0.52" fill="#8c564b" fill-opacity="0.68"/>
<circle cx="71.7" cy="128.8" r="0.52" fill="#8c564b" fill-opacity="0.68"/>
<circle cx="73.2" cy="133.1" r="0.52" fill="#8c564b" fill-opacity="0.68"/>
<circle cx="71.9" cy="132.2" r="0.52" fill="#8c564b" fill-opacity="0.68"/>
<circle cx="72.4" cy="131.7" r="0.52" fill="#8c564b" fill-opacity="0.68"/>
<circle cx="72.5" cy="129.6" r="0.52" fill="#8c564b" fill-opacity="0.68"/>
<circle cx="72.6" cy="132.2" r="0.52" fill="#8c564b" fill-opacity="0.68"/>
<circle cx="71.1" cy="133.6" r="0.52" fill="#8c564b" fill-opacity="0.68"/>
<circle cx="74.1" cy="133.4" r="0.52" fill="#8c564b" fill-opacity="0.68"/>
<circle cx="74.0" cy="131.8" r="0.52" fill="#8c564b" fill-opacity="0.68"/>
<circle cx="71.7" cy="129.8" r="0.52" fill="#8c564b" fill-opacity="0.68"/>
<circle cx="71.2" cy="130.9" r="0.52" fill="#8c564b" fill-opacity="0.68"/>
<circle cx="72.0" cy="131.7" r="0.52" fill="#8c564b" fill-opacity="0.68"/>
<circle cx="70.0" cy="134.2" r="0.52" fill="#8c564b" fill-opacity="0.68"/>
<circle cx="74.3" cy="130.7" r="0.52" fill="#8c564b" fill-opacity="0.68"/>
<circle cx="72.7" cy="131.4" r="0.52" fill="#8c564b" fill-opacity="0.68"/>
<circle cx="72.3" cy="130.4" r="0.52" fill="#8c564b" fill-opacity="0.68"/>
<circle cx="63.6" cy="131.5" r="0.52" fill="#2ca02c" fill-opacity="0.68"/>
<circle cx="63.9" cy="132.3" r="0.52" fill="#2ca02c" fill-opacity="0.68"/>
<circle cx="64.0" cy="131.4" r="0.52" fill="#2ca02c" fill-opacity="0.68"/>
<circle cx="63.7" cy="132.3" r="0.52" fill="#2ca02c" fill-opacity="0.68"/>
<circle cx="64.3" cy="131.2" r="0.52" fill="#2ca02c" fill-opacity="0.68"/>
<circle cx="64.1" cy="133.3" r="0.52" fill="#2ca02c" fill-opacity="0.68"/>
<circle cx="64.3" cy="131.9" r="0.52" fill="#2ca02c" fill-opacity="0.68"/>
<circle cx="63.2" cy="132.1" r="0.52" fill="#2ca02c" fill-opacity="0.68"/>
<circle cx="64.4" cy="133.9" r="0.52" fill="#2ca02c" fill-opacity="0.68"/>
<circle cx="63.5" cy="131.7" r="0.52" fill="#2ca02c" fill-opacity="0.68"/>
<circle cx="64.1" cy="132.5" r="0.52" fill="#2ca02c" fill-opacity="0.68"/>
<circle cx="62.8" cy="131.6" r="0.52" fill="#2ca02c" fill-opacity="0.68"/>
<circle cx="63.6" cy="133.0" r="0.52" fill="#2ca02c" fill-opacity="0.68"/>
<circle cx="62.5" cy="131.3" r="0.52" fill="#2ca02c" fill-opacity="0.68"/>
<circle cx="71.3" cy="132.4" r="0.52" fill="#2ca02c" fill-opacity="0.68"/>
<circle cx="71.0" cy="136.4" r="0.52" fill="#2ca02c" fill-opacity="0.68"/>
<circle cx="70.8" cy="133.0" r="0.52" fill="#2ca02c" fill-opacity="0.68"/>
<circle cx="70.9" cy="134.7" r="0.52" fill="#2ca02c" fill-opacity="0.68"/>
<circle cx="71.2" cy="133.4" r="0.52" fill="#2ca02c" fill-opacity="0.68"/>
<circle cx="71.8" cy="131.3" r="0.52" fill="#2ca02c" fill-opacity="0.68"/>
<circle cx="70.8" cy="135.5" r="0.52" fill="#2ca02c" fill-opacity="0.68"/>
<circle cx="71.7" cy="134.0" r="0.52" fill="#2ca02c" fill-opacity="0.68"/>
<circle cx="71.3" cy="134.1" r="0.52" fill="#2ca02c" fill-opacity="0.68"/>
<circle cx="71.5" cy="139.8" r="0.52" fill="#2ca02c" fill-opacity="0.68"/>
<circle cx="70.6" cy="136.6" r="0.52" fill="#2ca02c" fill-opacity="0.68"/>
<circle cx="70.2" cy="137.9" r="0.52" fill="#2ca02c" fill-opacity="0.68"/>
<circle cx="71.9" cy="135.6" r="0.52" fill="#2ca02c" fill-opacity="0.68"/>
<circle cx="70.0" cy="136.5" r="0.52" fill="#2ca02c" fill-opacity="0.68"/>
<circle cx="71.8" cy="138.2" r="0.52" fill="#2ca02c" fill-opacity="0.68"/>
<circle cx="71.6" cy="130.9" r="0.52" fill="#2ca02c" fill-opacity="0.68"/>
<circle cx="70.4" cy="139.1" r="0.52" fill="#2ca02c" fill-opacity="0.68"/>
<circle cx="69.9" cy="138.3" r="0.52" fill="#2ca02c" fill-opacity="0.68"/>
<circle cx="72.4" cy="137.4" r="0.52" fill="#2ca02c" fill-opacity="0.68"/>
<circle cx="71.8" cy="134.7" r="0.52" fill="#2ca02c" fill-opacity="0.68"/>
<circle cx="69.9" cy="135.2" r="0.52" fill="#2ca02c" fill-opacity="0.68"/>
<circle cx="70.7" cy="135.4" r="0.52" fill="#2ca02c" fill-opacity="0.68"/>
<circle cx="65.2" cy="140.3" r="0.52" fill="#2ca02c" fill-opacity="0.68"/>
<circle cx="64.7" cy="141.1" r="0.52" fill="#2ca02c" fill-opacity="0.68"/>
<circle cx="64.5" cy="143.3" r="0.52" fill="#2ca02c" fill-opacity="0.68"/>
<circle cx="64.9" cy="140.6" r="0.52" fill="#2ca02c" fill-opacity="0.68"/>
<circle cx="64.3" cy="139.6" r="0.52" fill="#2ca02c" fill-opacity="0.68"/>
<circle cx="65.8" cy="140.7" r="0.52" fill="#2ca02c" fill-opacity="0.68"/>
<circle cx="63.4" cy="139.7" r="0.52" fill="#2ca02c" fill-opacity="0.68"/>
<circle cx="64.4" cy="139.8" r="0.52" fill="#2ca02c" fill-opacity="0.68"/>
<circle cx="65.6" cy="138.8" r="0.52" fill="#2ca02c" fill-opacity="0.68"/>
<circle cx="65.0" cy="140.7" r="0.52" fill="#2ca02c" fill-opacity="0.68"/>
<circle cx="63.3" cy="140.6" r="0.52" fill="#2ca02c" fill-opacity="0.68"/>
<circle cx="64.4" cy="141.3" r="0.52" fill="#2ca02c" fill-opacity="0.68"/>
<circle cx="64.0" cy="141.0" r="0.52" fill="#2ca02c" fill-opacity="0.68"/>
<circle cx="62.8" cy="138.9" r="0.52" fill="#2ca02c" fill-opacity="0.68"/>
<circle cx="82.7" cy="146.8" r="0.52" fill="#ff7f0e" fill-opacity="0.68"/>
<circle cx="81.4" cy="143.1" r="0.52" fill="#ff7f0e" fill-opacity="0.68"/>
<circle cx="85.7" cy="145.9" r="0.52" fill="#ff7f0e" fill-opacity="0.68"/>
<circle cx="78.1" cy="141.2" r="0.52" fill="#ff7f0e" fill-opacity="0.68"/>
<circle cx="83.7" cy="145.1" r="0.52" fill="#ff7f0e" fill-opacity="0.68"/>
<circle cx="74.3" cy="138.1" r="0.52" fill="#ff7f0e" fill-opacity="0.68"/>
<circle cx="82.1" cy="143.5" r="0.52" fill="#ff7f0e" fill-opacity="0.68"/>
<circle cx="80.6" cy="144.2" r="0.52" fill="#ff7f0e" fill-opacity="0.68"/>
<circle cx="72.5" cy="135.5" r="0.52" fill="#ff7f0e" fill-opacity="0.68"/>
<circle cx="84.6" cy="144.7" r="0.52" fill="#ff7f0e" fill-opacity="0.68"/>
<circle cx="84.5" cy="145.0" r="0.52" fill="#ff7f0e" fill-opacity="0.68"/>
<circle cx="84.2" cy="147.6" r="0.52" fill="#ff7f0e" fill-opacity="0.68"/>
<circle cx="88.2" cy="150.7" r="0.52" fill="#ff7f0e" fill-opacity="0.68"/>
<circle cx="80.3" cy="144.1" r="0.52" fill="#ff7f0e" fill-opacity="0.68"/>
<circle cx="79.5" cy="140.9" r="0.52" fill="#ff7f0e" fill-opacity="0.68"/>
<circle cx="79.9" cy="142.2" r="0.52" fill="#ff7f0e" fill-opacity="0.68"/>
<circle cx="77.4" cy="140.2" r="0.52" fill="#ff7f0e" fill-opacity="0.68"/>
<circle cx="82.6" cy="145.4" r="0.52" fill="#ff7f0e" fill-opacity="0.68"/>
<circle cx="86.3" cy="149.0" r="0.52" fill="#ff7f0e" fill-opacity="0.68"/>
<circle cx="85.3" cy="147.5" r="0.52" fill="#ff7f0e" fill-opacity="0.68"/>
<circle cx="84.6" cy="144.9" r="0.52" fill="#ff7f0e" fill-opacity="0.68"/>
<circle cx="81.7" cy="144.1" r="0.52" fill="#ff7f0e" fill-opacity="0.68"/>
<circle cx="79.9" cy="141.5" r="0.52" fill="#ff7f0e" fill-opacity="0.68"/>
<circle cx="80.4" cy="141.9" r="0.52" fill="#ff7f0e" fill-opacity="0.68"/>
<circle cx="74.8" cy="135.8" r="0.52" fill="#ff7f0e" fill-opacity="0.68"/>
<circle cx="79.7" cy="141.3" r="0.52" fill="#ff7f0e" fill-opacity="0.68"/>
<circle cx="77.9" cy="139.9" r="0.52" fill="#ff7f0e" fill-opacity="0.68"/>
<circle cx="83.5" cy="146.0" r="0.52" fill="#ff7f0e" fill-opacity="0.68"/>
<circle cx="78.6" cy="142.7" r="0.52" fill="#ff7f0e" fill-opacity="0.68"/>
<circle cx="83.3" cy="147.3" r="0.52" fill="#ff7f0e" fill-opacity="0.68"/>
<circle cx="84.7" cy="147.2" r="0.52" fill="#ff7f0e" fill-opacity="0.68"/>
<circle cx="79.9" cy="143.7" r="0.52" fill="#ff7f0e" fill-opacity="0.68"/>
<circle cx="79.4" cy="141.6" r="0.52" fill="#ff7f0e" fill-opacity="0.68"/>
<circle cx="81.9" cy="145.0" r="0.52" fill="#ff7f0e" fill-opacity="0.68"/>
<circle cx="79.5" cy="143.2" r="0.52" fill="#ff7f0e" fill-opacity="0.68"/>
<circle cx="80.0" cy="143.3" r="0.52" fill="#ff7f0e" fill-opacity="0.68"/>
<circle cx="83.8" cy="147.5" r="0.52" fill="#ff7f0e" fill-opacity="0.68"/>
<circle cx="84.0" cy="145.3" r="0.52" fill="#ff7f0e" fill-opacity="0.68"/>
<circle cx="77.5" cy="138.7" r="0.52" fill="#ff7f0e" fill-opacity="0.68"/>
<circle cx="81.4" cy="146.0" r="0.52" fill="#ff7f0e" fill-opacity="0.68"/>
<circle cx="77.1" cy="139.6" r="0.52" fill="#ff7f0e" fill-opacity="0.68"/>
<circle cx="78.9" cy="140.2" r="0.52" fill="#ff7f0e" fill-opacity="0.68"/>
<circle cx="79.7" cy="143.0" r="0.52" fill="#ff7f0e" fill-opacity="0.68"/>
<circle cx="80.9" cy="144.9" r="0.52" fill="#ff7f0e" fill-opacity="0.68"/>
<circle cx="77.4" cy="140.7" r="0.52" fill="#ff7f0e" fill-opacity="0.68"/>
<circle cx="83.8" cy="146.7" r="0.52" fill="#ff7f0e" fill-opacity="0.68"/>
<circle cx="82.8" cy="144.8" r="0.52" fill="#ff7f0e" fill-opacity="0.68"/>
<circle cx="78.0" cy="139.6" r="0.52" fill="#ff7f0e" fill-opacity="0.68"/>
<circle cx="77.1" cy="143.1" r="0.52" fill="#ff7f0e" fill-opacity="0.68"/>
<circle cx="78.4" cy="142.9" r="0.52" fill="#ff7f0e" fill-opacity="0.68"/>
<circle cx="81.4" cy="144.4" r="0.52" fill="#ff7f0e" fill-opacity="0.68"/>
<circle cx="83.8" cy="145.5" r="0.52" fill="#ff7f0e" fill-opacity="0.68"/>
<circle cx="83.5" cy="146.8" r="0.52" fill="#ff7f0e" fill-opacity="0.68"/>
<circle cx="76.0" cy="138.8" r="0.52" fill="#ff7f0e" fill-opacity="0.68"/>
<circle cx="82.4" cy="145.6" r="0.52" fill="#ff7f0e" fill-opacity="0.68"/>
<circle cx="86.0" cy="148.6" r="0.52" fill="#ff7f0e" fill-opacity="0.68"/>
<circle cx="82.0" cy="145.7" r="0.52" fill="#ff7f0e" fill-opacity="0.68"/>
<circle cx="77.5" cy="141.2" r="0.52" fill="#ff7f0e" fill-opacity="0.68"/>
<circle cx="77.5" cy="137.9" r="0.52" fill="#ff7f0e" fill-opacity="0.68"/>
<circle cx="83.3" cy="144.6" r="0.52" fill="#ff7f0e" fill-opacity="0.68"/>
<circle cx="81.8" cy="142.1" r="0.52" fill="#ff7f0e" fill-opacity="0.68"/>
<circle cx="82.0" cy="143.0" r="0.52" fill="#ff7f0e" fill-opacity="0.68"/>
<circle cx="83.1" cy="143.7" r="0.52" fill="#ff7f0e" fill-opacity="0.68"/>
<circle cx="82.5" cy="144.8" r="0.52" fill="#ff7f0e" fill-opacity="0.68"/>
<circle cx="81.2" cy="143.7" r="0.52" fill="#ff7f0e" fill-opacity="0.68"/>
<circle cx="84.3" cy="134.7" r="0.52" fill="#ff7f0e" fill-opacity="0.68"/>
<circle cx="77.6" cy="138.1" r="0.52" fill="#ff7f0e" fill-opacity="0.68"/>
<circle cx="81.7" cy="136.9" r="0.52" fill="#ff7f0e" fill-opacity="0.68"/>
<circle cx="85.1" cy="133.0" r="0.52" fill="#ff7f0e" fill-opacity="0.68"/>
<circle cx="82.1" cy="136.5" r="0.52" fill="#ff7f0e" fill-opacity="0.68"/>
<circle cx="81.4" cy="138.8" r="0.52" fill="#ff7f0e" fill-opacity="0.68"/>
<circle cx="83.6" cy="135.9" r="0.52" fill="#ff7f0e" fill-opacity="0.68"/>
<circle cx="81.5" cy="140.0" r="0.52" fill="#ff7f0e" fill-opacity="0.68"/>
<circle cx="82.4" cy="139.5" r="0.52" fill="#ff7f0e" fill-opacity="0.68"/>
<circle cx="85.1" cy="133.3" r="0.52" fill="#ff7f0e" fill-opacity="0.68"/>
<circle cx="81.3" cy="138.0" r="0.52" fill="#ff7f0e" fill-opacity="0.68"/>
<circle cx="84.9" cy="139.9" r="0.52" fill="#ff7f0e" fill-opacity="0.68"/>
<circle cx="86.0" cy="140.6" r="0.52" fill="#ff7f0e" fill-opacity="0.68"/>
<circle cx="83.1" cy="137.5" r="0.52" fill="#ff7f0e" fill-opacity="0.68"/>
<circle cx="85.9" cy="136.9" r="0.52" fill="#ff7f0e" fill-opacity="0.68"/>
<circle cx="86.6" cy="134.0" r="0.52" fill="#ff7f0e" fill-opacity="0.68"/>
<circle cx="85.6" cy="137.6" r="0.52" fill="#ff7f0e" fill-opacity="0.68"/>
<circle cx="79.1" cy="140.4" r="0.52" fill="#ff7f0e" fill-opacity="0.68"/>
<circle cx="84.8" cy="138.1" r="0.52" fill="#ff7f0e" fill-opacity="0.68"/>
<circle cx="81.3" cy="136.8" r="0.52" fill="#ff7f0e" fill-opacity="0.68"/>
<circle cx="87.8" cy="135.9" r="0.52" fill="#ff7f0e" fill-opacity="0.68"/>
<circle cx="75.3" cy="135.9" r="0.52" fill="#ff7f0e" fill-opacity="0.68"/>
<circle cx="74.9" cy="147.4" r="0.52" fill="#7f7f7f" fill-opacity="0.68"/>
<circle cx="76.6" cy="147.6" r="0.52" fill="#7f7f7f" fill-opacity="0.68"/>
<circle cx="75.2" cy="148.5" r="0.52" fill="#7f7f7f" fill-opacity="0.68"/>
<circle cx="73.8" cy="148.5" r="0.52" fill="#7f7f7f" fill-opacity="0.68"/>
<circle cx="76.3" cy="147.3" r="0.52" fill="#7f7f7f" fill-opacity="0.68"/>
<circle cx="78.3" cy="149.5" r="0.52" fill="#7f7f7f" fill-opacity="0.68"/>
<circle cx="74.9" cy="148.1" r="0.52" fill="#7f7f7f" fill-opacity="0.68"/>
<circle cx="73.9" cy="146.4" r="0.52" fill="#7f7f7f" fill-opacity="0.68"/>
<circle cx="79.1" cy="149.3" r="0.52" fill="#7f7f7f" fill-opacity="0.68"/>
<circle cx="74.5" cy="147.7" r="0.52" fill="#7f7f7f" fill-opacity="0.68"/>
<circle cx="78.7" cy="149.3" r="0.52" fill="#7f7f7f" fill-opacity="0.68"/>
<circle cx="73.8" cy="146.8" r="0.52" fill="#7f7f7f" fill-opacity="0.68"/>
<circle cx="77.5" cy="149.3" r="0.52" fill="#7f7f7f" fill-opacity="0.68"/>
<circle cx="80.4" cy="149.9" r="0.52" fill="#7f7f7f" fill-opacity="0.68"/>
<circle cx="76.1" cy="148.1" r="0.52" fill="#7f7f7f" fill-opacity="0.68"/>
<circle cx="79.5" cy="148.9" r="0.52" fill="#7f7f7f" fill-opacity="0.68"/>
<circle cx="80.2" cy="147.9" r="0.52" fill="#7f7f7f" fill-opacity="0.68"/>
<circle cx="78.6" cy="148.7" r="0.52" fill="#7f7f7f" fill-opacity="0.68"/>
<circle cx="85.2" cy="152.9" r="0.52" fill="#d62728" fill-opacity="0.68"/>
<circle cx="82.7" cy="151.3" r="0.52" fill="#d62728" fill-opacity="0.68"/>
<circle cx="84.9" cy="152.7" r="0.52" fill="#d62728" fill-opacity="0.68"/>
<circle cx="83.1" cy="149.5" r="0.52" fill="#d62728" fill-opacity="0.68"/>
<circle cx="81.6" cy="156.6" r="0.52" fill="#d62728" fill-opacity="0.68"/>
<circle cx="84.2" cy="151.1" r="0.52" fill="#d62728" fill-opacity="0.68"/>
<circle cx="82.3" cy="153.4" r="0.52" fill="#d62728" fill-opacity="0.68"/>
<circle cx="83.7" cy="154.4" r="0.52" fill="#d62728" fill-opacity="0.68"/>
<circle cx="85.8" cy="151.5" r="0.52" fill="#d62728" fill-opacity="0.68"/>
<circle cx="85.6" cy="149.3" r="0.52" fill="#d62728" fill-opacity="0.68"/>
<circle cx="84.0" cy="150.3" r="0.52" fill="#d62728" fill-opacity="0.68"/>
<circle cx="82.6" cy="151.5" r="0.52" fill="#d62728" fill-opacity="0.68"/>
<circle cx="84.3" cy="154.4" r="0.52" fill="#d62728" fill-opacity="0.68"/>
<circle cx="79.5" cy="150.2" r="0.52" fill="#d62728" fill-opacity="0.68"/>
<circle cx="83.1" cy="150.6" r="0.52" fill="#d62728" fill-opacity="0.68"/>
<circle cx="85.1" cy="152.3" r="0.52" fill="#d62728" fill-opacity="0.68"/>
<circle cx="84.5" cy="150.6" r="0.52" fill="#d62728" fill-opacity="0.68"/>
<circle cx="85.2" cy="152.2" r="0.52" fill="#d62728" fill-opacity="0.68"/>
<circle cx="81.7" cy="151.0" r="0.52" fill="#d62728" fill-opacity="0.68"/>
<circle cx="82.4" cy="149.1" r="0.52" fill="#d62728" fill-opacity="0.68"/>
<circle cx="84.7" cy="151.6" r="0.52" fill="#d62728" fill-opacity="0.68"/>
<circle cx="84.7" cy="149.7" r="0.52" fill="#d62728" fill-opacity="0.68"/>
<circle cx="84.2" cy="149.7" r="0.52" fill="#d62728" fill-opacity="0.68"/>
<circle cx="85.1" cy="152.9" r="0.52" fill="#d62728" fill-opacity="0.68"/>
<circle cx="87.1" cy="154.0" r="0.52" fill="#d62728" fill-opacity="0.68"/>
<circle cx="83.3" cy="150.6" r="0.52" fill="#d62728" fill-opacity="0.68"/>
<circle cx="83.1" cy="152.1" r="0.52" fill="#d62728" fill-opacity="0.68"/>
<circle cx="87.5" cy="152.9" r="0.52" fill="#d62728" fill-opacity="0.68"/>
<circle cx="81.2" cy="149.0" r="0.52" fill="#d62728" fill-opacity="0.68"/>
<circle cx="82.6" cy="152.5" r="0.52" fill="#d62728" fill-opacity="0.68"/>
<circle cx="84.5" cy="152.1" r="0.52" fill="#d62728" fill-opacity="0.68"/>
<circle cx="87.2" cy="149.8" r="0.52" fill="#d62728" fill-opacity="0.68"/>
<circle cx="83.2" cy="148.9" r="0.52" fill="#d62728" fill-opacity="0.68"/>
<circle cx="84.3" cy="144.8" r="0.52" fill="#d62728" fill-opacity="0.68"/>
<circle cx="82.0" cy="143.7" r="0.52" fill="#d62728" fill-opacity="0.68"/>
<circle cx="81.6" cy="146.1" r="0.52" fill="#d62728" fill-opacity="0.68"/>
<circle cx="84.0" cy="147.5" r="0.52" fill="#d62728" fill-opacity="0.68"/>
<circle cx="83.9" cy="145.0" r="0.52" fill="#d62728" fill-opacity="0.68"/>
<circle cx="83.3" cy="148.9" r="0.52" fill="#d62728" fill-opacity="0.68"/>
<circle cx="82.2" cy="146.3" r="0.52" fill="#d62728" fill-opacity="0.68"/>
<circle cx="84.0" cy="146.9" r="0.52" fill="#d62728" fill-opacity="0.68"/>
<circle cx="83.6" cy="146.7" r="0.52" fill="#d62728" fill-opacity="0.68"/>
<circle cx="93.9" cy="152.2" r="0.52" fill="#2ca02c" fill-opacity="0.68"/>
<circle cx="90.3" cy="148.6" r="0.52" fill="#2ca02c" fill-opacity="0.68"/>
<circle cx="88.9" cy="147.2" r="0.52" fill="#2ca02c" fill-opacity="0.68"/>
<circle cx="90.6" cy="149.2" r="0.52" fill="#2ca02c" fill-opacity="0.68"/>
<circle cx="94.7" cy="154.3" r="0.52" fill="#2ca02c" fill-opacity="0.68"/>
<circle cx="90.0" cy="149.0" r="0.52" fill="#2ca02c" fill-opacity="0.68"/>
<circle cx="92.0" cy="151.2" r="0.52" fill="#2ca02c" fill-opacity="0.68"/>
<circle cx="91.4" cy="150.2" r="0.52" fill="#2ca02c" fill-opacity="0.68"/>
<circle cx="90.5" cy="148.3" r="0.52" fill="#2ca02c" fill-opacity="0.68"/>
<circle cx="93.4" cy="153.0" r="0.52" fill="#2ca02c" fill-opacity="0.68"/>
<circle cx="93.2" cy="152.1" r="0.52" fill="#2ca02c" fill-opacity="0.68"/>
<circle cx="92.4" cy="150.6" r="0.52" fill="#2ca02c" fill-opacity="0.68"/>
<circle cx="86.2" cy="145.2" r="0.52" fill="#2ca02c" fill-opacity="0.68"/>
<circle cx="92.3" cy="150.3" r="0.52" fill="#2ca02c" fill-opacity="0.68"/>
<circle cx="88.2" cy="147.8" r="0.52" fill="#2ca02c" fill-opacity="0.68"/>
<circle cx="85.6" cy="145.6" r="0.52" fill="#2ca02c" fill-opacity="0.68"/>
<circle cx="92.3" cy="152.8" r="0.52" fill="#2ca02c" fill-opacity="0.68"/>
<circle cx="89.5" cy="148.0" r="0.52" fill="#2ca02c" fill-opacity="0.68"/>
<circle cx="90.0" cy="148.6" r="0.52" fill="#2ca02c" fill-opacity="0.68"/>
<circle cx="91.2" cy="149.1" r="0.52" fill="#2ca02c" fill-opacity="0.68"/>
<circle cx="94.9" cy="152.7" r="0.52" fill="#2ca02c" fill-opacity="0.68"/>
<circle cx="89.8" cy="148.8" r="0.52" fill="#2ca02c" fill-opacity="0.68"/>
<circle cx="90.2" cy="148.3" r="0.52" fill="#2ca02c" fill-opacity="0.68"/>
<circle cx="92.7" cy="150.9" r="0.52" fill="#2ca02c" fill-opacity="0.68"/>
<circle cx="88.0" cy="146.4" r="0.52" fill="#2ca02c" fill-opacity="0.68"/>
<circle cx="90.2" cy="150.1" r="0.52" fill="#2ca02c" fill-opacity="0.68"/>
<circle cx="88.0" cy="147.3" r="0.52" fill="#2ca02c" fill-opacity="0.68"/>
<circle cx="89.4" cy="147.6" r="0.52" fill="#2ca02c" fill-opacity="0.68"/>
<circle cx="90.5" cy="149.2" r="0.52" fill="#2ca02c" fill-opacity="0.68"/>
<circle cx="93.2" cy="153.2" r="0.52" fill="#2ca02c" fill-opacity="0.68"/>
<circle cx="89.1" cy="148.8" r="0.52" fill="#2ca02c" fill-opacity="0.68"/>
<circle cx="94.0" cy="153.2" r="0.52" fill="#2ca02c" fill-opacity="0.68"/>
<circle cx="100.7" cy="154.3" r="0.52" fill="#17becf" fill-opacity="0.68"/>
<circle cx="102.2" cy="155.1" r="0.52" fill="#17becf" fill-opacity="0.68"/>
<circle cx="101.7" cy="155.0" r="0.52" fill="#17becf" fill-opacity="0.68"/>
<circle cx="103.4" cy="157.9" r="0.52" fill="#17becf" fill-opacity="0.68"/>
<circle cx="101.5" cy="155.4" r="0.52" fill="#17becf" fill-opacity="0.68"/>
<circle cx="105.8" cy="156.9" r="0.52" fill="#17becf" fill-opacity="0.68"/>
<circle cx="106.2" cy="156.7" r="0.52" fill="#17becf" fill-opacity="0.68"/>
<circle cx="103.0" cy="156.5" r="0.52" fill="#17becf" fill-opacity="0.68"/>
<circle cx="104.7" cy="157.9" r="0.52" fill="#17becf" fill-opacity="0.68"/>
<circle cx="102.7" cy="153.5" r="0.52" fill="#17becf" fill-opacity="0.68"/>
<circle cx="100.1" cy="153.3" r="0.52" fill="#17becf" fill-opacity="0.68"/>
<circle cx="103.0" cy="154.0" r="0.52" fill="#17becf" fill-opacity="0.68"/>
<circle cx="104.2" cy="155.4" r="0.52" fill="#17becf" fill-opacity="0.68"/>
<circle cx="102.4" cy="153.8" r="0.52" fill="#17becf" fill-opacity="0.68"/>
<circle cx="103.9" cy="159.2" r="0.52" fill="#17becf" fill-opacity="0.68"/>
<circle cx="103.9" cy="153.5" r="0.52" fill="#17becf" fill-opacity="0.68"/>
<circle cx="103.1" cy="155.6" r="0.52" fill="#17becf" fill-opacity="0.68"/>
<circle cx="102.7" cy="156.1" r="0.52" fill="#17becf" fill-opacity="0.68"/>
<circle cx="101.4" cy="155.1" r="0.52" fill="#17becf" fill-opacity="0.68"/>
<circle cx="103.8" cy="156.7" r="0.52" fill="#17becf" fill-opacity="0.68"/>
<circle cx="102.5" cy="153.9" r="0.52" fill="#17becf" fill-opacity="0.68"/>
<circle cx="104.8" cy="155.4" r="0.52" fill="#17becf" fill-opacity="0.68"/>
<circle cx="103.1" cy="154.1" r="0.52" fill="#17becf" fill-opacity="0.68"/>
<circle cx="100.0" cy="152.9" r="0.52" fill="#17becf" fill-opacity="0.68"/>
<circle cx="102.6" cy="155.0" r="0.52" fill="#17becf" fill-opacity="0.68"/>
<circle cx="105.4" cy="155.5" r="0.52" fill="#17becf" fill-opacity="0.68"/>
<circle cx="102.3" cy="155.1" r="0.52" fill="#17becf" fill-opacity="0.68"/>
<circle cx="105.0" cy="155.7" r="0.52" fill="#17becf" fill-opacity="0.68"/>
<circle cx="103.6" cy="156.5" r="0.52" fill="#17becf" fill-opacity="0.68"/>
<circle cx="103.7" cy="158.4" r="0.52" fill="#17becf" fill-opacity="0.68"/>
<circle cx="101.6" cy="157.7" r="0.52" fill="#17becf" fill-opacity="0.68"/>
<circle cx="103.1" cy="154.7" r="0.52" fill="#17becf" fill-opacity="0.68"/>
<circle cx="103.0" cy="153.6" r="0.52" fill="#17becf" fill-opacity="0.68"/>
<circle cx="104.4" cy="153.5" r="0.52" fill="#17becf" fill-opacity="0.68"/>
<circle cx="102.2" cy="155.2" r="0.52" fill="#17becf" fill-opacity="0.68"/>
<circle cx="104.5" cy="156.6" r="0.52" fill="#17becf" fill-opacity="0.68"/>
<circle cx="105.4" cy="157.1" r="0.52" fill="#17becf" fill-opacity="0.68"/>
<circle cx="104.2" cy="153.3" r="0.52" fill="#17becf" fill-opacity="0.68"/>
<circle cx="102.3" cy="153.0" r="0.52" fill="#17becf" fill-opacity="0.68"/>
<circle cx="104.5" cy="158.1" r="0.52" fill="#17becf" fill-opacity="0.68"/>
<circle cx="100.6" cy="153.4" r="0.52" fill="#17becf" fill-opacity="0.68"/>
<circle cx="103.6" cy="155.7" r="0.52" fill="#17becf" fill-opacity="0.68"/>
<circle cx="100.0" cy="151.6" r="0.52" fill="#17becf" fill-opacity="0.68"/>
<circle cx="99.2" cy="149.4" r="0.52" fill="#17becf" fill-opacity="0.68"/>
<circle cx="99.9" cy="153.9" r="0.52" fill="#17becf" fill-opacity="0.68"/>
<circle cx="102.1" cy="151.6" r="0.52" fill="#17becf" fill-opacity="0.68"/>
<circle cx="98.9" cy="151.7" r="0.52" fill="#17becf" fill-opacity="0.68"/>
<circle cx="101.3" cy="152.5" r="0.52" fill="#17becf" fill-opacity="0.68"/>
<circle cx="99.1" cy="152.5" r="0.52" fill="#17becf" fill-opacity="0.68"/>
<circle cx="99.7" cy="152.8" r="0.52" fill="#17becf" fill-opacity="0.68"/>
<circle cx="94.7" cy="131.6" r="0.52" fill="#17becf" fill-opacity="0.68"/>
<circle cx="95.0" cy="133.7" r="0.52" fill="#17becf" fill-opacity="0.68"/>
<circle cx="94.1" cy="132.9" r="0.52" fill="#17becf" fill-opacity="0.68"/>
<circle cx="95.7" cy="132.6" r="0.52" fill="#17becf" fill-opacity="0.68"/>
<circle cx="94.5" cy="135.0" r="0.52" fill="#17becf" fill-opacity="0.68"/>
<circle cx="95.6" cy="134.0" r="0.52" fill="#17becf" fill-opacity="0.68"/>
<circle cx="52.7" cy="153.9" r="0.52" fill="#9467bd" fill-opacity="0.68"/>
<circle cx="51.0" cy="150.7" r="0.52" fill="#9467bd" fill-opacity="0.68"/>
<circle cx="56.8" cy="153.4" r="0.52" fill="#9467bd" fill-opacity="0.68"/>
<circle cx="52.7" cy="150.5" r="0.52" fill="#9467bd" fill-opacity="0.68"/>
<circle cx="55.5" cy="148.7" r="0.52" fill="#9467bd" fill-opacity="0.68"/>
<circle cx="56.6" cy="152.3" r="0.52" fill="#9467bd" fill-opacity="0.68"/>
<circle cx="53.9" cy="152.3" r="0.52" fill="#9467bd" fill-opacity="0.68"/>
<circle cx="56.9" cy="152.0" r="0.52" fill="#9467bd" fill-opacity="0.68"/>
<circle cx="56.3" cy="153.7" r="0.52" fill="#9467bd" fill-opacity="0.68"/>
<circle cx="53.8" cy="151.7" r="0.52" fill="#9467bd" fill-opacity="0.68"/>
<circle cx="53.7" cy="153.0" r="0.52" fill="#9467bd" fill-opacity="0.68"/>
<circle cx="54.0" cy="152.2" r="0.52" fill="#9467bd" fill-opacity="0.68"/>
<circle cx="55.3" cy="151.6" r="0.52" fill="#9467bd" fill-opacity="0.68"/>
<circle cx="59.2" cy="151.4" r="0.52" fill="#9467bd" fill-opacity="0.68"/>
<circle cx="58.4" cy="152.7" r="0.52" fill="#9467bd" fill-opacity="0.68"/>
<circle cx="58.2" cy="151.3" r="0.52" fill="#9467bd" fill-opacity="0.68"/>
<circle cx="57.2" cy="152.6" r="0.52" fill="#9467bd" fill-opacity="0.68"/>
<circle cx="53.5" cy="151.9" r="0.52" fill="#9467bd" fill-opacity="0.68"/>
<circle cx="54.7" cy="151.4" r="0.52" fill="#9467bd" fill-opacity="0.68"/>
<circle cx="58.1" cy="150.5" r="0.52" fill="#9467bd" fill-opacity="0.68"/>
<circle cx="50.9" cy="149.0" r="0.52" fill="#9467bd" fill-opacity="0.68"/>
<circle cx="53.9" cy="150.6" r="0.52" fill="#9467bd" fill-opacity="0.68"/>
<circle cx="55.0" cy="152.3" r="0.52" fill="#9467bd" fill-opacity="0.68"/>
<circle cx="59.2" cy="151.9" r="0.52" fill="#9467bd" fill-opacity="0.68"/>
<circle cx="56.1" cy="150.4" r="0.52" fill="#9467bd" fill-opacity="0.68"/>
<circle cx="56.4" cy="153.5" r="0.52" fill="#9467bd" fill-opacity="0.68"/>
<circle cx="58.2" cy="148.7" r="0.52" fill="#9467bd" fill-opacity="0.68"/>
<circle cx="57.1" cy="153.8" r="0.52" fill="#9467bd" fill-opacity="0.68"/>
<circle cx="57.0" cy="149.3" r="0.52" fill="#9467bd" fill-opacity="0.68"/>
<circle cx="54.3" cy="152.3" r="0.52" fill="#9467bd" fill-opacity="0.68"/>
<circle cx="56.0" cy="150.3" r="0.52" fill="#9467bd" fill-opacity="0.68"/>
<circle cx="52.9" cy="152.9" r="0.52" fill="#9467bd" fill-opacity="0.68"/>
<circle cx="51.8" cy="153.6" r="0.52" fill="#9467bd" fill-opacity="0.68"/>
<circle cx="55.0" cy="151.9" r="0.52" fill="#9467bd" fill-opacity="0.68"/>
<circle cx="51.8" cy="150.6" r="0.52" fill="#9467bd" fill-opacity="0.68"/>
<circle cx="56.7" cy="149.4" r="0.52" fill="#9467bd" fill-opacity="0.68"/>
<circle cx="60.0" cy="149.5" r="0.52" fill="#9467bd" fill-opacity="0.68"/>
<circle cx="52.1" cy="151.6" r="0.52" fill="#9467bd" fill-opacity="0.68"/>
<circle cx="53.7" cy="149.1" r="0.52" fill="#9467bd" fill-opacity="0.68"/>
<circle cx="52.5" cy="147.7" r="0.52" fill="#9467bd" fill-opacity="0.68"/>
<circle cx="52.7" cy="147.2" r="0.52" fill="#9467bd" fill-opacity="0.68"/>
<circle cx="49.3" cy="149.4" r="0.52" fill="#9467bd" fill-opacity="0.68"/>
<circle cx="53.4" cy="148.2" r="0.52" fill="#9467bd" fill-opacity="0.68"/>
<circle cx="52.1" cy="148.4" r="0.52" fill="#9467bd" fill-opacity="0.68"/>
<circle cx="53.0" cy="147.9" r="0.52" fill="#9467bd" fill-opacity="0.68"/>
<circle cx="54.6" cy="145.5" r="0.52" fill="#9467bd" fill-opacity="0.68"/>
<circle cx="67.2" cy="105.9" r="0.52" fill="#e377c2" fill-opacity="0.68"/>
<circle cx="64.5" cy="120.6" r="0.52" fill="#e377c2" fill-opacity="0.68"/>
<circle cx="60.8" cy="111.4" r="0.52" fill="#e377c2" fill-opacity="0.68"/>
<circle cx="63.2" cy="117.5" r="0.52" fill="#e377c2" fill-opacity="0.68"/>
<circle cx="61.3" cy="102.3" r="0.52" fill="#e377c2" fill-opacity="0.68"/>
<circle cx="68.5" cy="110.0" r="0.52" fill="#e377c2" fill-opacity="0.68"/>
<circle cx="64.5" cy="118.2" r="0.52" fill="#e377c2" fill-opacity="0.68"/>
<circle cx="61.7" cy="109.8" r="0.52" fill="#e377c2" fill-opacity="0.68"/>
<circle cx="66.7" cy="114.4" r="0.52" fill="#e377c2" fill-opacity="0.68"/>
<circle cx="63.5" cy="118.0" r="0.52" fill="#e377c2" fill-opacity="0.68"/>
<circle cx="76.8" cy="109.6" r="0.52" fill="#e377c2" fill-opacity="0.68"/>
<circle cx="75.0" cy="99.8" r="0.52" fill="#e377c2" fill-opacity="0.68"/>
<circle cx="72.8" cy="110.0" r="0.52" fill="#e377c2" fill-opacity="0.68"/>
<circle cx="66.7" cy="110.0" r="0.52" fill="#e377c2" fill-opacity="0.68"/>
<circle cx="62.9" cy="104.6" r="0.52" fill="#e377c2" fill-opacity="0.68"/>
<circle cx="64.1" cy="119.5" r="0.52" fill="#e377c2" fill-opacity="0.68"/>
<circle cx="71.5" cy="110.0" r="0.52" fill="#e377c2" fill-opacity="0.68"/>
<circle cx="63.5" cy="108.0" r="0.52" fill="#e377c2" fill-opacity="0.68"/>
<circle cx="60.2" cy="122.4" r="0.52" fill="#e377c2" fill-opacity="0.68"/>
<circle cx="69.2" cy="112.7" r="0.52" fill="#e377c2" fill-opacity="0.68"/>
<circle cx="63.6" cy="106.1" r="0.52" fill="#e377c2" fill-opacity="0.68"/>
<circle cx="72.3" cy="116.5" r="0.52" fill="#e377c2" fill-opacity="0.68"/>
<circle cx="61.4" cy="117.7" r="0.52" fill="#e377c2" fill-opacity="0.68"/>
<circle cx="60.7" cy="115.7" r="0.52" fill="#e377c2" fill-opacity="0.68"/>
<circle cx="61.4" cy="109.6" r="0.52" fill="#e377c2" fill-opacity="0.68"/>
<circle cx="68.4" cy="114.5" r="0.52" fill="#e377c2" fill-opacity="0.68"/>
<circle cx="70.9" cy="107.2" r="0.52" fill="#e377c2" fill-opacity="0.68"/>
<circle cx="73.6" cy="119.7" r="0.52" fill="#e377c2" fill-opacity="0.68"/>
<circle cx="66.0" cy="114.7" r="0.52" fill="#e377c2" fill-opacity="0.68"/>
<circle cx="62.3" cy="111.1" r="0.52" fill="#e377c2" fill-opacity="0.68"/>
<circle cx="59.7" cy="112.5" r="0.52" fill="#e377c2" fill-opacity="0.68"/>
<circle cx="67.0" cy="119.7" r="0.52" fill="#e377c2" fill-opacity="0.68"/>
<circle cx="70.5" cy="116.7" r="0.52" fill="#e377c2" fill-opacity="0.68"/>
<circle cx="64.3" cy="110.7" r="0.52" fill="#e377c2" fill-opacity="0.68"/>
<circle cx="64.4" cy="113.3" r="0.52" fill="#e377c2" fill-opacity="0.68"/>
<circle cx="50.9" cy="125.9" r="0.52" fill="#c5b0d5" fill-opacity="0.68"/>
<circle cx="53.0" cy="116.0" r="0.52" fill="#c5b0d5" fill-opacity="0.68"/>
<circle cx="62.1" cy="116.1" r="0.52" fill="#c5b0d5" fill-opacity="0.68"/>
<circle cx="71.6" cy="119.2" r="0.52" fill="#c5b0d5" fill-opacity="0.68"/>
<circle cx="71.1" cy="129.0" r="0.52" fill="#c5b0d5" fill-opacity="0.68"/>
<circle cx="59.1" cy="123.1" r="0.52" fill="#c5b0d5" fill-opacity="0.68"/>
<circle cx="69.5" cy="117.4" r="0.52" fill="#c5b0d5" fill-opacity="0.68"/>
<circle cx="62.5" cy="115.7" r="0.52" fill="#c5b0d5" fill-opacity="0.68"/>
<circle cx="62.3" cy="117.3" r="0.52" fill="#c5b0d5" fill-opacity="0.68"/>
<circle cx="62.5" cy="127.7" r="0.52" fill="#c5b0d5" fill-opacity="0.68"/>
<circle cx="70.0" cy="121.0" r="0.52" fill="#c5b0d5" fill-opacity="0.68"/>
<circle cx="63.2" cy="126.6" r="0.52" fill="#c5b0d5" fill-opacity="0.68"/>
<circle cx="60.3" cy="111.9" r="0.52" fill="#c5b0d5" fill-opacity="0.68"/>
<circle cx="68.4" cy="112.8" r="0.52" fill="#c5b0d5" fill-opacity="0.68"/>
<circle cx="67.4" cy="112.6" r="0.52" fill="#c5b0d5" fill-opacity="0.68"/>
<circle cx="72.5" cy="112.0" r="0.52" fill="#c5b0d5" fill-opacity="0.68"/>
<circle cx="66.9" cy="131.5" r="0.52" fill="#c5b0d5" fill-opacity="0.68"/>
<circle cx="56.5" cy="131.4" r="0.52" fill="#c5b0d5" fill-opacity="0.68"/>
<circle cx="57.3" cy="106.5" r="0.52" fill="#c5b0d5" fill-opacity="0.68"/>
<circle cx="66.2" cy="125.4" r="0.52" fill="#c5b0d5" fill-opacity="0.68"/>
<circle cx="60.8" cy="100.6" r="0.52" fill="#c5b0d5" fill-opacity="0.68"/>
<circle cx="61.7" cy="117.7" r="0.52" fill="#c5b0d5" fill-opacity="0.68"/>
<circle cx="59.8" cy="117.8" r="0.52" fill="#c5b0d5" fill-opacity="0.68"/>
<circle cx="51.7" cy="115.6" r="0.52" fill="#c5b0d5" fill-opacity="0.68"/>
<circle cx="72.4" cy="131.9" r="0.52" fill="#c5b0d5" fill-opacity="0.68"/>
<circle cx="78.3" cy="120.9" r="0.52" fill="#e377c2" fill-opacity="0.68"/>
<circle cx="81.9" cy="131.1" r="0.52" fill="#e377c2" fill-opacity="0.68"/>
<circle cx="83.5" cy="118.3" r="0.52" fill="#e377c2" fill-opacity="0.68"/>
<circle cx="80.8" cy="125.8" r="0.52" fill="#e377c2" fill-opacity="0.68"/>
<circle cx="86.9" cy="131.9" r="0.52" fill="#e377c2" fill-opacity="0.68"/>
<circle cx="82.5" cy="132.0" r="0.52" fill="#e377c2" fill-opacity="0.68"/>
<circle cx="78.1" cy="133.9" r="0.52" fill="#e377c2" fill-opacity="0.68"/>
<circle cx="78.0" cy="127.3" r="0.52" fill="#e377c2" fill-opacity="0.68"/>
<circle cx="84.4" cy="119.7" r="0.52" fill="#e377c2" fill-opacity="0.68"/>
<circle cx="76.6" cy="114.9" r="0.52" fill="#e377c2" fill-opacity="0.68"/>
<circle cx="80.8" cy="124.7" r="0.52" fill="#e377c2" fill-opacity="0.68"/>
<circle cx="78.4" cy="127.9" r="0.52" fill="#e377c2" fill-opacity="0.68"/>
<circle cx="69.8" cy="124.9" r="0.52" fill="#e377c2" fill-opacity="0.68"/>
<circle cx="80.4" cy="123.5" r="0.52" fill="#e377c2" fill-opacity="0.68"/>
<circle cx="83.8" cy="135.1" r="0.52" fill="#e377c2" fill-opacity="0.68"/>
<circle cx="77.9" cy="119.6" r="0.52" fill="#e377c2" fill-opacity="0.68"/>
<circle cx="77.1" cy="125.5" r="0.52" fill="#e377c2" fill-opacity="0.68"/>
<circle cx="82.8" cy="120.0" r="0.52" fill="#e377c2" fill-opacity="0.68"/>
<circle cx="84.8" cy="119.1" r="0.52" fill="#e377c2" fill-opacity="0.68"/>
<circle cx="84.0" cy="127.5" r="0.52" fill="#e377c2" fill-opacity="0.68"/>
<circle cx="82.2" cy="137.4" r="0.52" fill="#e377c2" fill-opacity="0.68"/>
<circle cx="78.7" cy="124.0" r="0.52" fill="#e377c2" fill-opacity="0.68"/>
<circle cx="82.3" cy="130.0" r="0.52" fill="#e377c2" fill-opacity="0.68"/>
<circle cx="73.6" cy="126.6" r="0.52" fill="#e377c2" fill-opacity="0.68"/>
<circle cx="76.4" cy="128.6" r="0.52" fill="#e377c2" fill-opacity="0.68"/>
<circle cx="86.6" cy="125.3" r="0.52" fill="#e377c2" fill-opacity="0.68"/>
<circle cx="79.5" cy="126.1" r="0.52" fill="#e377c2" fill-opacity="0.68"/>
<circle cx="65.8" cy="129.4" r="0.52" fill="#e377c2" fill-opacity="0.68"/>
<circle cx="80.2" cy="132.8" r="0.52" fill="#1f77b4" fill-opacity="0.68"/>
<circle cx="76.5" cy="128.5" r="0.52" fill="#1f77b4" fill-opacity="0.68"/>
<circle cx="77.3" cy="137.8" r="0.52" fill="#1f77b4" fill-opacity="0.68"/>
<circle cx="77.6" cy="138.5" r="0.52" fill="#1f77b4" fill-opacity="0.68"/>
<circle cx="68.1" cy="129.8" r="0.52" fill="#1f77b4" fill-opacity="0.68"/>
<circle cx="79.1" cy="131.9" r="0.52" fill="#1f77b4" fill-opacity="0.68"/>
<circle cx="71.6" cy="128.8" r="0.52" fill="#1f77b4" fill-opacity="0.68"/>
<circle cx="82.8" cy="125.8" r="0.52" fill="#1f77b4" fill-opacity="0.68"/>
<circle cx="74.2" cy="126.7" r="0.52" fill="#1f77b4" fill-opacity="0.68"/>
<circle cx="75.9" cy="135.1" r="0.52" fill="#1f77b4" fill-opacity="0.68"/>
<circle cx="80.3" cy="122.3" r="0.52" fill="#1f77b4" fill-opacity="0.68"/>
<circle cx="83.6" cy="129.2" r="0.52" fill="#1f77b4" fill-opacity="0.68"/>
<circle cx="75.7" cy="140.0" r="0.52" fill="#1f77b4" fill-opacity="0.68"/>
<circle cx="77.7" cy="126.0" r="0.52" fill="#1f77b4" fill-opacity="0.68"/>
<circle cx="75.5" cy="128.5" r="0.52" fill="#1f77b4" fill-opacity="0.68"/>
<circle cx="74.1" cy="130.4" r="0.52" fill="#1f77b4" fill-opacity="0.68"/>
<circle cx="81.4" cy="133.7" r="0.52" fill="#1f77b4" fill-opacity="0.68"/>
<circle cx="72.7" cy="145.4" r="0.52" fill="#1f77b4" fill-opacity="0.68"/>
<circle cx="67.1" cy="100.4" r="0.52" fill="#bcbd22" fill-opacity="0.68"/>
<circle cx="70.1" cy="102.9" r="0.52" fill="#bcbd22" fill-opacity="0.68"/>
<circle cx="69.1" cy="101.8" r="0.52" fill="#bcbd22" fill-opacity="0.68"/>
<circle cx="76.1" cy="100.4" r="0.52" fill="#bcbd22" fill-opacity="0.68"/>
<circle cx="66.9" cy="101.3" r="0.52" fill="#bcbd22" fill-opacity="0.68"/>
<circle cx="67.7" cy="98.6" r="0.52" fill="#bcbd22" fill-opacity="0.68"/>
<circle cx="70.5" cy="101.3" r="0.52" fill="#bcbd22" fill-opacity="0.68"/>
<circle cx="69.2" cy="103.3" r="0.52" fill="#bcbd22" fill-opacity="0.68"/>
<circle cx="69.4" cy="95.0" r="0.52" fill="#bcbd22" fill-opacity="0.68"/>
<circle cx="72.5" cy="98.6" r="0.52" fill="#bcbd22" fill-opacity="0.68"/>
<circle cx="63.0" cy="136.2" r="0.52" fill="#c5b0d5" fill-opacity="0.68"/>
<circle cx="59.3" cy="141.8" r="0.52" fill="#c5b0d5" fill-opacity="0.68"/>
<circle cx="40.5" cy="131.4" r="0.52" fill="#c5b0d5" fill-opacity="0.68"/>
<circle cx="49.6" cy="148.1" r="0.52" fill="#c5b0d5" fill-opacity="0.68"/>
<circle cx="45.1" cy="145.3" r="0.52" fill="#c5b0d5" fill-opacity="0.68"/>
<circle cx="62.3" cy="142.9" r="0.52" fill="#c5b0d5" fill-opacity="0.68"/>
<circle cx="59.9" cy="137.1" r="0.52" fill="#c5b0d5" fill-opacity="0.68"/>
<circle cx="55.9" cy="141.3" r="0.52" fill="#c5b0d5" fill-opacity="0.68"/>
<circle cx="58.4" cy="144.1" r="0.52" fill="#c5b0d5" fill-opacity="0.68"/>
<circle cx="54.8" cy="136.0" r="0.52" fill="#c5b0d5" fill-opacity="0.68"/>
<circle cx="52.8" cy="142.4" r="0.52" fill="#c5b0d5" fill-opacity="0.68"/>
<circle cx="46.4" cy="132.8" r="0.52" fill="#c5b0d5" fill-opacity="0.68"/>
<circle cx="53.6" cy="136.8" r="0.52" fill="#c5b0d5" fill-opacity="0.68"/>
<circle cx="54.4" cy="124.7" r="0.52" fill="#c5b0d5" fill-opacity="0.68"/>
<circle cx="54.0" cy="138.6" r="0.52" fill="#c5b0d5" fill-opacity="0.68"/>
<circle cx="88.0" cy="118.5" r="0.52" fill="#17becf" fill-opacity="0.68"/>
<circle cx="83.8" cy="130.3" r="0.52" fill="#17becf" fill-opacity="0.68"/>
<circle cx="86.9" cy="133.7" r="0.52" fill="#17becf" fill-opacity="0.68"/>
<circle cx="89.1" cy="123.0" r="0.52" fill="#17becf" fill-opacity="0.68"/>
<circle cx="87.4" cy="126.4" r="0.52" fill="#17becf" fill-opacity="0.68"/>
<circle cx="81.9" cy="135.4" r="0.52" fill="#17becf" fill-opacity="0.68"/>
<circle cx="82.6" cy="123.9" r="0.52" fill="#17becf" fill-opacity="0.68"/>
<circle cx="83.4" cy="123.9" r="0.52" fill="#17becf" fill-opacity="0.68"/>
<circle cx="88.9" cy="129.8" r="0.52" fill="#17becf" fill-opacity="0.68"/>
<circle cx="90.4" cy="130.0" r="0.52" fill="#17becf" fill-opacity="0.68"/>
<circle cx="82.6" cy="133.0" r="0.52" fill="#17becf" fill-opacity="0.68"/>
<circle cx="82.5" cy="125.8" r="0.52" fill="#17becf" fill-opacity="0.68"/>
<circle cx="84.4" cy="128.2" r="0.52" fill="#17becf" fill-opacity="0.68"/>
<circle cx="89.6" cy="125.1" r="0.52" fill="#17becf" fill-opacity="0.68"/>
<circle cx="86.4" cy="127.9" r="0.52" fill="#17becf" fill-opacity="0.68"/>
<circle cx="63.2" cy="118.8" r="0.52" fill="#2ca02c" fill-opacity="0.68"/>
<circle cx="67.2" cy="124.6" r="0.52" fill="#2ca02c" fill-opacity="0.68"/>
<circle cx="69.2" cy="124.8" r="0.52" fill="#2ca02c" fill-opacity="0.68"/>
<circle cx="68.2" cy="121.3" r="0.52" fill="#2ca02c" fill-opacity="0.68"/>
<circle cx="69.6" cy="119.1" r="0.52" fill="#2ca02c" fill-opacity="0.68"/>
<circle cx="62.8" cy="121.7" r="0.52" fill="#2ca02c" fill-opacity="0.68"/>
<circle cx="62.5" cy="121.0" r="0.52" fill="#2ca02c" fill-opacity="0.68"/>
<circle cx="65.1" cy="120.9" r="0.52" fill="#2ca02c" fill-opacity="0.68"/>
<circle cx="67.8" cy="119.9" r="0.52" fill="#2ca02c" fill-opacity="0.68"/>
<circle cx="66.4" cy="116.4" r="0.52" fill="#2ca02c" fill-opacity="0.68"/>
<circle cx="66.6" cy="100.8" r="0.52" fill="#c5b0d5" fill-opacity="0.68"/>
<circle cx="67.6" cy="91.4" r="0.52" fill="#c5b0d5" fill-opacity="0.68"/>
<circle cx="62.9" cy="106.2" r="0.52" fill="#c5b0d5" fill-opacity="0.68"/>
<circle cx="56.6" cy="103.3" r="0.52" fill="#c5b0d5" fill-opacity="0.68"/>
<circle cx="66.4" cy="105.5" r="0.52" fill="#c5b0d5" fill-opacity="0.68"/>
<circle cx="60.2" cy="106.1" r="0.52" fill="#c5b0d5" fill-opacity="0.68"/>
<circle cx="66.6" cy="100.3" r="0.52" fill="#c5b0d5" fill-opacity="0.68"/>
<circle cx="68.9" cy="104.8" r="0.52" fill="#c5b0d5" fill-opacity="0.68"/>
<circle cx="66.1" cy="102.8" r="0.52" fill="#c5b0d5" fill-opacity="0.68"/>
<circle cx="68.1" cy="105.5" r="0.52" fill="#c5b0d5" fill-opacity="0.68"/>
<circle cx="70.4" cy="107.2" r="0.52" fill="#c5b0d5" fill-opacity="0.68"/>
<circle cx="63.6" cy="103.9" r="0.52" fill="#c5b0d5" fill-opacity="0.68"/>
<circle cx="114.3" cy="9.50" r="0.75" fill="#ff7f0e" fill-opacity="0.65"/>
<text transform="matrix(1 0.0005 0 1 119.90 10.75)" font-size="3.88">Research Impact Analysis and Prediction</text>
<circle cx="114.3" cy="14.91" r="0.75" fill="#2ca02c" fill-opacity="0.65"/>
<text transform="matrix(1 0.0005 0 1 119.90 16.16)" font-size="3.88">Impact Analysis and Prediction in Scholarly Research</text>
<circle cx="114.3" cy="20.33" r="0.75" fill="#d62728" fill-opacity="0.65"/>
<text transform="matrix(1 0.0005 0 1 119.90 21.58)" font-size="3.88">Artificial Intelligence for Research Impact Analysis</text>
<circle cx="114.3" cy="25.75" r="0.75" fill="#9467bd" fill-opacity="0.65"/>
<text transform="matrix(1 0.0005 0 1 119.90 27.00)" font-size="3.88">Optimization and Machine Learning in Research Impact Analysis</text>
<circle cx="114.3" cy="31.16" r="0.75" fill="#8c564b" fill-opacity="0.65"/>
<text transform="matrix(1 0.0005 0 1 119.90 32.41)" font-size="3.88">Causal Inference and Machine Learning for Research Impact Analysis</text>
<circle cx="114.3" cy="36.58" r="0.75" fill="#e377c2" fill-opacity="0.65"/>
<text transform="matrix(1 0.0005 0 1 119.90 37.83)" font-size="3.88">Machine Learning for Research Impact Analysis</text>
<circle cx="114.3" cy="41.99" r="0.75" fill="#7f7f7f" fill-opacity="0.65"/>
<text transform="matrix(1 0.0005 0 1 119.90 43.24)" font-size="3.88">Citation Analysis and Sentiment Measurement in Scientific Research</text>
<circle cx="114.3" cy="47.41" r="0.75" fill="#bcbd22" fill-opacity="0.65"/>
<text transform="matrix(1 0.0005 0 1 119.90 48.66)" font-size="3.88">Machine Learning and Artificial Intelligence in Higher Education</text>
<circle cx="114.3" cy="52.82" r="0.75" fill="#17becf" fill-opacity="0.65"/>
<text transform="matrix(1 0.0005 0 1 119.90 54.07)" font-size="3.88">Machine Learning for Bibliographic Disambiguation and Author Disambiguation</text>
<circle cx="114.3" cy="58.23" r="0.75" fill="#1f77b4" fill-opacity="0.65"/>
<text transform="matrix(1 0.0005 0 1 119.90 59.48)" font-size="3.88">Artificial Intelligence in Education and Research</text>
<circle cx="114.3" cy="63.65" r="0.75" fill="#ff7f0e" fill-opacity="0.65"/>
<text transform="matrix(1 0.0005 0 1 119.90 64.90)" font-size="3.88">Machine Learning for Research Impact Analysis</text>
<circle cx="114.3" cy="69.06" r="0.75" fill="#2ca02c" fill-opacity="0.65"/>
<text transform="matrix(1 0.0005 0 1 119.90 70.31)" font-size="3.88">Machine Learning for Information Retrieval and Citation Analysis in Medical Research</text>
<circle cx="114.3" cy="74.48" r="0.75" fill="#d62728" fill-opacity="0.65"/>
<text transform="matrix(1 0.0005 0 1 119.90 75.73)" font-size="3.88">Citation Prediction and Impact Analysis in Academic Research</text>
<circle cx="114.3" cy="79.89" r="0.75" fill="#9467bd" fill-opacity="0.65"/>
<text transform="matrix(1 0.0005 0 1 119.90 81.14)" font-size="3.88">Machine Learning for Domestic Violence Policing</text>
<circle cx="114.3" cy="85.31" r="0.75" fill="#8c564b" fill-opacity="0.65"/>
<text transform="matrix(1 0.0005 0 1 119.90 86.56)" font-size="3.88">Machine Learning for Research Impact Analysis</text>
<circle cx="114.3" cy="90.72" r="0.75" fill="#e377c2" fill-opacity="0.65"/>
<text transform="matrix(1 0.0005 0 1 119.90 91.97)" font-size="3.88">Artificial Intelligence for Scientific Collaboration and Citation Impact Analysis</text>
<circle cx="114.3" cy="96.14" r="0.75" fill="#7f7f7f" fill-opacity="0.65"/>
<text transform="matrix(1 0.0005 0 1 119.90 97.39)" font-size="3.88">Artificial Intelligence for Business Management and Innovation</text>
<circle cx="114.3" cy="101.56" r="0.75" fill="#bcbd22" fill-opacity="0.65"/>
<text transform="matrix(1 0.0005 0 1 119.90 102.81)" font-size="3.88">Sustainability and Machine Learning for SDGs</text>
<circle cx="114.3" cy="106.97" r="0.75" fill="#17becf" fill-opacity="0.65"/>
<text transform="matrix(1 0.0005 0 1 119.90 108.22)" font-size="3.88">Artificial Intelligence and Scientific Impact Analysis</text>
<circle cx="114.3" cy="112.39" r="0.75" fill="#1f77b4" fill-opacity="0.65"/>
<text transform="matrix(1 0.0005 0 1 119.90 113.64)" font-size="3.88">Academic Curriculum Development and Assessment Using Machine Learning and Artificial Intelligence</text>
<circle cx="114.3" cy="117.80" r="0.75" fill="#ff7f0e" fill-opacity="0.65"/>
<text transform="matrix(1 0.0005 0 1 119.90 119.05)" font-size="3.88">Machine Learning for Bibliometric Analysis</text>
<circle cx="114.3" cy="123.22" r="0.75" fill="#2ca02c" fill-opacity="0.65"/>
<text transform="matrix(1 0.0005 0 1 119.90 124.47)" font-size="3.88">Online Learning and Health Professional Education</text>
<circle cx="114.3" cy="128.63" r="0.75" fill="#d62728" fill-opacity="0.65"/>
<text transform="matrix(1 0.0005 0 1 119.90 129.88)" font-size="3.88">Artificial Intelligence for Autism Spectrum Disorder Research</text>
<circle cx="114.3" cy="134.05" r="0.75" fill="#9467bd" fill-opacity="0.65"/>
<text transform="matrix(1 0.0005 0 1 119.90 135.30)" font-size="3.88">Gender and Impact of Scholarly Research</text>
<circle cx="114.3" cy="139.46" r="0.75" fill="#8c564b" fill-opacity="0.65"/>
<text transform="matrix(1 0.0005 0 1 119.90 140.71)" font-size="3.88">Research Evaluation and Machine Learning</text>
<circle cx="114.3" cy="144.88" r="0.75" fill="#e377c2" fill-opacity="0.65"/>
<text transform="matrix(1 0.0005 0 1 119.90 146.12)" font-size="3.88">Machine Learning for Bibliometric Analysis</text>
<circle cx="114.3" cy="150.29" r="0.75" fill="#7f7f7f" fill-opacity="0.65"/>
<text transform="matrix(1 0.0005 0 1 119.90 151.54)" font-size="3.88">Machine Learning for Education Research Impact Analysis</text>
<circle cx="114.3" cy="155.71" r="0.75" fill="#bcbd22" fill-opacity="0.65"/>
<text transform="matrix(1 0.0005 0 1 119.90 156.96)" font-size="3.88">Artificial Intelligence for Ethical and Responsible Research</text>
<circle cx="114.3" cy="161.12" r="0.75" fill="#17becf" fill-opacity="0.65"/>
<text transform="matrix(1 0.0005 0 1 119.90 162.37)" font-size="3.88">Blockchain and Artificial Intelligence for Research Impact Analysis</text>
<circle cx="114.3" cy="166.53" r="0.75" fill="#1f77b4" fill-opacity="0.65"/>
<text transform="matrix(1 0.0005 0 1 119.90 167.78)" font-size="3.88">Machine Learning for Bibliometric Analysis and Research Impact Prediction</text>
</g>
<text class="cap" x="153.3" y="185.8" text-anchor="middle">(a)</text>
<g id="pb" shape-rendering="crispEdges">
<rect x="414.50" y="21.20" width="2.90" height="2.90" fill="#084081"/>
<rect x="417.35" y="21.20" width="2.90" height="2.90" fill="#085fa2"/>
<rect x="420.21" y="21.20" width="2.90" height="2.90" fill="#2485ba"/>
<rect x="423.06" y="21.20" width="2.90" height="2.90" fill="#43a7cc"/>
<rect x="425.92" y="21.20" width="2.90" height="2.90" fill="#389bc6"/>
<rect x="428.77" y="21.20" width="2.90" height="2.90" fill="#3699c5"/>
<rect x="431.62" y="21.20" width="2.90" height="2.90" fill="#1b7bb6"/>
<rect x="434.48" y="21.20" width="2.90" height="2.90" fill="#1273b1"/>
<rect x="437.33" y="21.20" width="2.90" height="2.90" fill="#47accf"/>
<rect x="440.19" y="21.20" width="2.90" height="2.90" fill="#48accf"/>
<rect x="443.04" y="21.20" width="2.90" height="2.90" fill="#51b5d2"/>
<rect x="445.89" y="21.20" width="2.90" height="2.90" fill="#399bc6"/>
<rect x="448.75" y="21.20" width="2.90" height="2.90" fill="#46aace"/>
<rect x="451.60" y="21.20" width="2.90" height="2.90" fill="#1475b2"/>
<rect x="454.46" y="21.20" width="2.90" height="2.90" fill="#5abacf"/>
<rect x="457.31" y="21.20" width="2.90" height="2.90" fill="#4bafd1"/>
<rect x="460.16" y="21.20" width="2.90" height="2.90" fill="#43a7cd"/>
<rect x="463.02" y="21.20" width="2.90" height="2.90" fill="#72c7c7"/>
<rect x="465.87" y="21.20" width="2.90" height="2.90" fill="#0865a9"/>
<rect x="468.73" y="21.20" width="2.90" height="2.90" fill="#e5f5df"/>
<rect x="471.58" y="21.20" width="2.90" height="2.90" fill="#085fa2"/>
<rect x="474.43" y="21.20" width="2.90" height="2.90" fill="#76c9c6"/>
<rect x="477.29" y="21.20" width="2.90" height="2.90" fill="#0b6cae"/>
<rect x="480.14" y="21.20" width="2.90" height="2.90" fill="#4db2d3"/>
<rect x="483.00" y="21.20" width="2.90" height="2.90" fill="#298abd"/>
<rect x="485.85" y="21.20" width="2.90" height="2.90" fill="#399bc6"/>
<rect x="488.70" y="21.20" width="2.90" height="2.90" fill="#1878b4"/>
<rect x="491.56" y="21.20" width="2.90" height="2.90" fill="#4eb3d3"/>
<rect x="494.41" y="21.20" width="2.90" height="2.90" fill="#3fa3ca"/>
<rect x="497.27" y="21.20" width="2.90" height="2.90" fill="#389ac6"/>
<rect x="500.12" y="21.20" width="2.90" height="2.90" fill="#0865a9"/>
<rect x="502.97" y="21.20" width="2.90" height="2.90" fill="#90d4bd"/>
<rect x="505.83" y="21.20" width="2.90" height="2.90" fill="#399bc6"/>
<rect x="508.68" y="21.20" width="2.90" height="2.90" fill="#085fa2"/>
<rect x="511.54" y="21.20" width="2.90" height="2.90" fill="#72c7c7"/>
<rect x="414.50" y="24.05" width="2.90" height="2.90" fill="#085fa2"/>
<rect x="417.35" y="24.05" width="2.90" height="2.90" fill="#084081"/>
<rect x="420.21" y="24.05" width="2.90" height="2.90" fill="#2788bc"/>
<rect x="423.06" y="24.05" width="2.90" height="2.90" fill="#49aed0"/>
<rect x="425.92" y="24.05" width="2.90" height="2.90" fill="#1b7cb6"/>
<rect x="428.77" y="24.05" width="2.90" height="2.90" fill="#41a5cb"/>
<rect x="431.62" y="24.05" width="2.90" height="2.90" fill="#3fa2ca"/>
<rect x="434.48" y="24.05" width="2.90" height="2.90" fill="#1575b2"/>
<rect x="437.33" y="24.05" width="2.90" height="2.90" fill="#3fa3ca"/>
<rect x="440.19" y="24.05" width="2.90" height="2.90" fill="#3fa2ca"/>
<rect x="443.04" y="24.05" width="2.90" height="2.90" fill="#50b4d2"/>
<rect x="445.89" y="24.05" width="2.90" height="2.90" fill="#0863a7"/>
<rect x="448.75" y="24.05" width="2.90" height="2.90" fill="#6cc4c9"/>
<rect x="451.60" y="24.05" width="2.90" height="2.90" fill="#a5dcb6"/>
<rect x="454.46" y="24.05" width="2.90" height="2.90" fill="#2b8dbe"/>
<rect x="457.31" y="24.05" width="2.90" height="2.90" fill="#3496c4"/>
<rect x="460.16" y="24.05" width="2.90" height="2.90" fill="#2384ba"/>
<rect x="463.02" y="24.05" width="2.90" height="2.90" fill="#3b9ec7"/>
<rect x="465.87" y="24.05" width="2.90" height="2.90" fill="#3ea1c9"/>
<rect x="468.73" y="24.05" width="2.90" height="2.90" fill="#afe0b8"/>
<rect x="471.58" y="24.05" width="2.90" height="2.90" fill="#0861a5"/>
<rect x="474.43" y="24.05" width="2.90" height="2.90" fill="#acdfb7"/>
<rect x="477.29" y="24.05" width="2.90" height="2.90" fill="#2484ba"/>
<rect x="480.14" y="24.05" width="2.90" height="2.90" fill="#59b9cf"/>
<rect x="483.00" y="24.05" width="2.90" height="2.90" fill="#085fa2"/>
<rect x="485.85" y="24.05" width="2.90" height="2.90" fill="#1575b3"/>
<rect x="488.70" y="24.05" width="2.90" height="2.90" fill="#3a9dc7"/>
<rect x="491.56" y="24.05" width="2.90" height="2.90" fill="#52b5d2"/>
<rect x="494.41" y="24.05" width="2.90" height="2.90" fill="#389ac6"/>
<rect x="497.27" y="24.05" width="2.90" height="2.90" fill="#5cbbce"/>
<rect x="500.12" y="24.05" width="2.90" height="2.90" fill="#56b7d0"/>
<rect x="502.97" y="24.05" width="2.90" height="2.90" fill="#6dc4c9"/>
<rect x="505.83" y="24.05" width="2.90" height="2.90" fill="#7bccc4"/>
<rect x="508.68" y="24.05" width="2.90" height="2.90" fill="#085fa2"/>
<rect x="511.54" y="24.05" width="2.90" height="2.90" fill="#73c8c7"/>
<rect x="414.50" y="26.91" width="2.90" height="2.90" fill="#2485ba"/>
<rect x="417.35" y="26.91" width="2.90" height="2.90" fill="#2788bc"/>
<rect x="420.21" y="26.91" width="2.90" height="2.90" fill="#084081"/>
<rect x="423.06" y="26.91" width="2.90" height="2.90" fill="#8fd4bd"/>
<rect x="425.92" y="26.91" width="2.90" height="2.90" fill="#54b6d1"/>
<rect x="428.77" y="26.91" width="2.90" height="2.90" fill="#68c2ca"/>
<rect x="431.62" y="26.91" width="2.90" height="2.90" fill="#40a4cb"/>
<rect x="434.48" y="26.91" width="2.90" height="2.90" fill="#0c6dae"/>
<rect x="437.33" y="26.91" width="2.90" height="2.90" fill="#60bdcd"/>
<rect x="440.19" y="26.91" width="2.90" height="2.90" fill="#60bdcd"/>
<rect x="443.04" y="26.91" width="2.90" height="2.90" fill="#5abacf"/>
<rect x="445.89" y="26.91" width="2.90" height="2.90" fill="#81cec2"/>
<rect x="448.75" y="26.91" width="2.90" height="2.90" fill="#3fa3ca"/>
<rect x="451.60" y="26.91" width="2.90" height="2.90" fill="#2c8dbf"/>
<rect x="454.46" y="26.91" width="2.90" height="2.90" fill="#41a5cb"/>
<rect x="457.31" y="26.91" width="2.90" height="2.90" fill="#56b7d0"/>
<rect x="460.16" y="26.91" width="2.90" height="2.90" fill="#52b5d2"/>
<rect x="463.02" y="26.91" width="2.90" height="2.90" fill="#6fc5c8"/>
<rect x="465.87" y="26.91" width="2.90" height="2.90" fill="#75c9c6"/>
<rect x="468.73" y="26.91" width="2.90" height="2.90" fill="#d8f0d2"/>
<rect x="471.58" y="26.91" width="2.90" height="2.90" fill="#50b4d2"/>
<rect x="474.43" y="26.91" width="2.90" height="2.90" fill="#62becc"/>
<rect x="477.29" y="26.91" width="2.90" height="2.90" fill="#4db2d3"/>
<rect x="480.14" y="26.91" width="2.90" height="2.90" fill="#84cfc1"/>
<rect x="483.00" y="26.91" width="2.90" height="2.90" fill="#90d4bd"/>
<rect x="485.85" y="26.91" width="2.90" height="2.90" fill="#47abcf"/>
<rect x="488.70" y="26.91" width="2.90" height="2.90" fill="#2b8cbe"/>
<rect x="491.56" y="26.91" width="2.90" height="2.90" fill="#69c2ca"/>
<rect x="494.41" y="26.91" width="2.90" height="2.90" fill="#72c7c7"/>
<rect x="497.27" y="26.91" width="2.90" height="2.90" fill="#7acbc4"/>
<rect x="500.12" y="26.91" width="2.90" height="2.90" fill="#45a9cd"/>
<rect x="502.97" y="26.91" width="2.90" height="2.90" fill="#86d0c0"/>
<rect x="505.83" y="26.91" width="2.90" height="2.90" fill="#6ec5c8"/>
<rect x="508.68" y="26.91" width="2.90" height="2.90" fill="#3fa2ca"/>
<rect x="511.54" y="26.91" width="2.90" height="2.90" fill="#6bc3c9"/>
<rect x="414.50" y="29.76" width="2.90" height="2.90" fill="#43a7cc"/>
<rect x="417.35" y="29.76" width="2.90" height="2.90" fill="#49aed0"/>
<rect x="420.21" y="29.76" width="2.90" height="2.90" fill="#8fd4bd"/>
<rect x="423.06" y="29.76" width="2.90" height="2.90" fill="#084081"/>
<rect x="425.92" y="29.76" width="2.90" height="2.90" fill="#7cccc4"/>
<rect x="428.77" y="29.76" width="2.90" height="2.90" fill="#85d0c1"/>
<rect x="431.62" y="29.76" width="2.90" height="2.90" fill="#9dd9b9"/>
<rect x="434.48" y="29.76" width="2.90" height="2.90" fill="#4db1d2"/>
<rect x="437.33" y="29.76" width="2.90" height="2.90" fill="#76c9c6"/>
<rect x="440.19" y="29.76" width="2.90" height="2.90" fill="#57b8d0"/>
<rect x="443.04" y="29.76" width="2.90" height="2.90" fill="#63becc"/>
<rect x="445.89" y="29.76" width="2.90" height="2.90" fill="#84d0c1"/>
<rect x="448.75" y="29.76" width="2.90" height="2.90" fill="#56b8d0"/>
<rect x="451.60" y="29.76" width="2.90" height="2.90" fill="#45a9cd"/>
<rect x="454.46" y="29.76" width="2.90" height="2.90" fill="#5bbacf"/>
<rect x="457.31" y="29.76" width="2.90" height="2.90" fill="#6fc5c8"/>
<rect x="460.16" y="29.76" width="2.90" height="2.90" fill="#69c2ca"/>
<rect x="463.02" y="29.76" width="2.90" height="2.90" fill="#4cb1d2"/>
<rect x="465.87" y="29.76" width="2.90" height="2.90" fill="#5abacf"/>
<rect x="468.73" y="29.76" width="2.90" height="2.90" fill="#e9f7e3"/>
<rect x="471.58" y="29.76" width="2.90" height="2.90" fill="#3c9fc8"/>
<rect x="474.43" y="29.76" width="2.90" height="2.90" fill="#c8eac3"/>
<rect x="477.29" y="29.76" width="2.90" height="2.90" fill="#40a4cb"/>
<rect x="480.14" y="29.76" width="2.90" height="2.90" fill="#88d1c0"/>
<rect x="483.00" y="29.76" width="2.90" height="2.90" fill="#51b5d2"/>
<rect x="485.85" y="29.76" width="2.90" height="2.90" fill="#48accf"/>
<rect x="488.70" y="29.76" width="2.90" height="2.90" fill="#6fc5c8"/>
<rect x="491.56" y="29.76" width="2.90" height="2.90" fill="#67c1cb"/>
<rect x="494.41" y="29.76" width="2.90" height="2.90" fill="#5dbcce"/>
<rect x="497.27" y="29.76" width="2.90" height="2.90" fill="#b3e1ba"/>
<rect x="500.12" y="29.76" width="2.90" height="2.90" fill="#60bdcd"/>
<rect x="502.97" y="29.76" width="2.90" height="2.90" fill="#61bdcd"/>
<rect x="505.83" y="29.76" width="2.90" height="2.90" fill="#91d4bd"/>
<rect x="508.68" y="29.76" width="2.90" height="2.90" fill="#71c6c7"/>
<rect x="511.54" y="29.76" width="2.90" height="2.90" fill="#92d5bc"/>
<rect x="414.50" y="32.62" width="2.90" height="2.90" fill="#389bc6"/>
<rect x="417.35" y="32.62" width="2.90" height="2.90" fill="#1b7cb6"/>
<rect x="420.21" y="32.62" width="2.90" height="2.90" fill="#54b6d1"/>
<rect x="423.06" y="32.62" width="2.90" height="2.90" fill="#7cccc4"/>
<rect x="425.92" y="32.62" width="2.90" height="2.90" fill="#084081"/>
<rect x="428.77" y="32.62" width="2.90" height="2.90" fill="#a7ddb5"/>
<rect x="431.62" y="32.62" width="2.90" height="2.90" fill="#64bfcc"/>
<rect x="434.48" y="32.62" width="2.90" height="2.90" fill="#3496c3"/>
<rect x="437.33" y="32.62" width="2.90" height="2.90" fill="#72c7c7"/>
<rect x="440.19" y="32.62" width="2.90" height="2.90" fill="#94d5bc"/>
<rect x="443.04" y="32.62" width="2.90" height="2.90" fill="#8bd2bf"/>
<rect x="445.89" y="32.62" width="2.90" height="2.90" fill="#5cbbce"/>
<rect x="448.75" y="32.62" width="2.90" height="2.90" fill="#8fd4bd"/>
<rect x="451.60" y="32.62" width="2.90" height="2.90" fill="#5fbdcd"/>
<rect x="454.46" y="32.62" width="2.90" height="2.90" fill="#51b5d2"/>
<rect x="457.31" y="32.62" width="2.90" height="2.90" fill="#76c9c6"/>
<rect x="460.16" y="32.62" width="2.90" height="2.90" fill="#2384ba"/>
<rect x="463.02" y="32.62" width="2.90" height="2.90" fill="#71c6c7"/>
<rect x="465.87" y="32.62" width="2.90" height="2.90" fill="#3799c5"/>
<rect x="468.73" y="32.62" width="2.90" height="2.90" fill="#f4fbed"/>
<rect x="471.58" y="32.62" width="2.90" height="2.90" fill="#1878b4"/>
<rect x="474.43" y="32.62" width="2.90" height="2.90" fill="#e7f6e1"/>
<rect x="477.29" y="32.62" width="2.90" height="2.90" fill="#67c1cb"/>
<rect x="480.14" y="32.62" width="2.90" height="2.90" fill="#b8e3bc"/>
<rect x="483.00" y="32.62" width="2.90" height="2.90" fill="#76c9c6"/>
<rect x="485.85" y="32.62" width="2.90" height="2.90" fill="#87d0c0"/>
<rect x="488.70" y="32.62" width="2.90" height="2.90" fill="#6dc4c9"/>
<rect x="491.56" y="32.62" width="2.90" height="2.90" fill="#51b5d2"/>
<rect x="494.41" y="32.62" width="2.90" height="2.90" fill="#7fcdc3"/>
<rect x="497.27" y="32.62" width="2.90" height="2.90" fill="#79cbc5"/>
<rect x="500.12" y="32.62" width="2.90" height="2.90" fill="#8fd3bd"/>
<rect x="502.97" y="32.62" width="2.90" height="2.90" fill="#95d6bb"/>
<rect x="505.83" y="32.62" width="2.90" height="2.90" fill="#aadeb6"/>
<rect x="508.68" y="32.62" width="2.90" height="2.90" fill="#59b9cf"/>
<rect x="511.54" y="32.62" width="2.90" height="2.90" fill="#7ecdc3"/>
<rect x="414.50" y="35.47" width="2.90" height="2.90" fill="#3699c5"/>
<rect x="417.35" y="35.47" width="2.90" height="2.90" fill="#41a5cb"/>
<rect x="420.21" y="35.47" width="2.90" height="2.90" fill="#68c2ca"/>
<rect x="423.06" y="35.47" width="2.90" height="2.90" fill="#85d0c1"/>
<rect x="425.92" y="35.47" width="2.90" height="2.90" fill="#a7ddb5"/>
<rect x="428.77" y="35.47" width="2.90" height="2.90" fill="#084081"/>
<rect x="431.62" y="35.47" width="2.90" height="2.90" fill="#95d6bb"/>
<rect x="434.48" y="35.47" width="2.90" height="2.90" fill="#1273b1"/>
<rect x="437.33" y="35.47" width="2.90" height="2.90" fill="#9bd8b9"/>
<rect x="440.19" y="35.47" width="2.90" height="2.90" fill="#56b7d0"/>
<rect x="443.04" y="35.47" width="2.90" height="2.90" fill="#92d5bc"/>
<rect x="445.89" y="35.47" width="2.90" height="2.90" fill="#44a8cd"/>
<rect x="448.75" y="35.47" width="2.90" height="2.90" fill="#6cc4c9"/>
<rect x="451.60" y="35.47" width="2.90" height="2.90" fill="#62becc"/>
<rect x="454.46" y="35.47" width="2.90" height="2.90" fill="#4aafd1"/>
<rect x="457.31" y="35.47" width="2.90" height="2.90" fill="#82cfc2"/>
<rect x="460.16" y="35.47" width="2.90" height="2.90" fill="#8bd2bf"/>
<rect x="463.02" y="35.47" width="2.90" height="2.90" fill="#b5e2bb"/>
<rect x="465.87" y="35.47" width="2.90" height="2.90" fill="#4fb4d3"/>
<rect x="468.73" y="35.47" width="2.90" height="2.90" fill="#ecf8e6"/>
<rect x="471.58" y="35.47" width="2.90" height="2.90" fill="#66c0cb"/>
<rect x="474.43" y="35.47" width="2.90" height="2.90" fill="#d0edca"/>
<rect x="477.29" y="35.47" width="2.90" height="2.90" fill="#82cfc2"/>
<rect x="480.14" y="35.47" width="2.90" height="2.90" fill="#8ad1bf"/>
<rect x="483.00" y="35.47" width="2.90" height="2.90" fill="#4fb3d3"/>
<rect x="485.85" y="35.47" width="2.90" height="2.90" fill="#a1dab7"/>
<rect x="488.70" y="35.47" width="2.90" height="2.90" fill="#73c8c7"/>
<rect x="491.56" y="35.47" width="2.90" height="2.90" fill="#53b6d1"/>
<rect x="494.41" y="35.47" width="2.90" height="2.90" fill="#4cb1d2"/>
<rect x="497.27" y="35.47" width="2.90" height="2.90" fill="#4fb4d3"/>
<rect x="500.12" y="35.47" width="2.90" height="2.90" fill="#94d5bc"/>
<rect x="502.97" y="35.47" width="2.90" height="2.90" fill="#84d0c1"/>
<rect x="505.83" y="35.47" width="2.90" height="2.90" fill="#b0e0b9"/>
<rect x="508.68" y="35.47" width="2.90" height="2.90" fill="#7ecdc3"/>
<rect x="511.54" y="35.47" width="2.90" height="2.90" fill="#ceecc7"/>
<rect x="414.50" y="38.32" width="2.90" height="2.90" fill="#1b7bb6"/>
<rect x="417.35" y="38.32" width="2.90" height="2.90" fill="#3fa2ca"/>
<rect x="420.21" y="38.32" width="2.90" height="2.90" fill="#40a4cb"/>
<rect x="423.06" y="38.32" width="2.90" height="2.90" fill="#9dd9b9"/>
<rect x="425.92" y="38.32" width="2.90" height="2.90" fill="#64bfcc"/>
<rect x="428.77" y="38.32" width="2.90" height="2.90" fill="#95d6bb"/>
<rect x="431.62" y="38.32" width="2.90" height="2.90" fill="#084081"/>
<rect x="434.48" y="38.32" width="2.90" height="2.90" fill="#2283b9"/>
<rect x="437.33" y="38.32" width="2.90" height="2.90" fill="#5fbccd"/>
<rect x="440.19" y="38.32" width="2.90" height="2.90" fill="#6dc4c9"/>
<rect x="443.04" y="38.32" width="2.90" height="2.90" fill="#40a4cb"/>
<rect x="445.89" y="38.32" width="2.90" height="2.90" fill="#89d1bf"/>
<rect x="448.75" y="38.32" width="2.90" height="2.90" fill="#4db2d2"/>
<rect x="451.60" y="38.32" width="2.90" height="2.90" fill="#5ebcce"/>
<rect x="454.46" y="38.32" width="2.90" height="2.90" fill="#52b5d2"/>
<rect x="457.31" y="38.32" width="2.90" height="2.90" fill="#4bb0d1"/>
<rect x="460.16" y="38.32" width="2.90" height="2.90" fill="#50b4d2"/>
<rect x="463.02" y="38.32" width="2.90" height="2.90" fill="#58b9d0"/>
<rect x="465.87" y="38.32" width="2.90" height="2.90" fill="#5ebcce"/>
<rect x="468.73" y="38.32" width="2.90" height="2.90" fill="#3b9ec8"/>
<rect x="471.58" y="38.32" width="2.90" height="2.90" fill="#4cb0d2"/>
<rect x="474.43" y="38.32" width="2.90" height="2.90" fill="#e1f3dc"/>
<rect x="477.29" y="38.32" width="2.90" height="2.90" fill="#53b6d1"/>
<rect x="480.14" y="38.32" width="2.90" height="2.90" fill="#87d1c0"/>
<rect x="483.00" y="38.32" width="2.90" height="2.90" fill="#3092c1"/>
<rect x="485.85" y="38.32" width="2.90" height="2.90" fill="#6dc4c9"/>
<rect x="488.70" y="38.32" width="2.90" height="2.90" fill="#64bfcc"/>
<rect x="491.56" y="38.32" width="2.90" height="2.90" fill="#52b5d2"/>
<rect x="494.41" y="38.32" width="2.90" height="2.90" fill="#52b5d2"/>
<rect x="497.27" y="38.32" width="2.90" height="2.90" fill="#54b7d1"/>
<rect x="500.12" y="38.32" width="2.90" height="2.90" fill="#48add0"/>
<rect x="502.97" y="38.32" width="2.90" height="2.90" fill="#7bccc4"/>
<rect x="505.83" y="38.32" width="2.90" height="2.90" fill="#b9e4bc"/>
<rect x="508.68" y="38.32" width="2.90" height="2.90" fill="#3395c3"/>
<rect x="511.54" y="38.32" width="2.90" height="2.90" fill="#8dd3be"/>
<rect x="414.50" y="41.18" width="2.90" height="2.90" fill="#1273b1"/>
<rect x="417.35" y="41.18" width="2.90" height="2.90" fill="#1575b2"/>
<rect x="420.21" y="41.18" width="2.90" height="2.90" fill="#0c6dae"/>
<rect x="423.06" y="41.18" width="2.90" height="2.90" fill="#4db1d2"/>
<rect x="425.92" y="41.18" width="2.90" height="2.90" fill="#3496c3"/>
<rect x="428.77" y="41.18" width="2.90" height="2.90" fill="#1273b1"/>
<rect x="431.62" y="41.18" width="2.90" height="2.90" fill="#2283b9"/>
<rect x="434.48" y="41.18" width="2.90" height="2.90" fill="#084081"/>
<rect x="437.33" y="41.18" width="2.90" height="2.90" fill="#51b5d2"/>
<rect x="440.19" y="41.18" width="2.90" height="2.90" fill="#1e7fb7"/>
<rect x="443.04" y="41.18" width="2.90" height="2.90" fill="#3192c1"/>
<rect x="445.89" y="41.18" width="2.90" height="2.90" fill="#51b5d2"/>
<rect x="448.75" y="41.18" width="2.90" height="2.90" fill="#2586bb"/>
<rect x="451.60" y="41.18" width="2.90" height="2.90" fill="#55b7d1"/>
<rect x="454.46" y="41.18" width="2.90" height="2.90" fill="#3da0c9"/>
<rect x="457.31" y="41.18" width="2.90" height="2.90" fill="#2384ba"/>
<rect x="460.16" y="41.18" width="2.90" height="2.90" fill="#55b7d1"/>
<rect x="463.02" y="41.18" width="2.90" height="2.90" fill="#3293c2"/>
<rect x="465.87" y="41.18" width="2.90" height="2.90" fill="#5ebcce"/>
<rect x="468.73" y="41.18" width="2.90" height="2.90" fill="#a0dab8"/>
<rect x="471.58" y="41.18" width="2.90" height="2.90" fill="#1878b4"/>
<rect x="474.43" y="41.18" width="2.90" height="2.90" fill="#85d0c1"/>
<rect x="477.29" y="41.18" width="2.90" height="2.90" fill="#0e6faf"/>
<rect x="480.14" y="41.18" width="2.90" height="2.90" fill="#2e8fc0"/>
<rect x="483.00" y="41.18" width="2.90" height="2.90" fill="#57b8d0"/>
<rect x="485.85" y="41.18" width="2.90" height="2.90" fill="#0e6eaf"/>
<rect x="488.70" y="41.18" width="2.90" height="2.90" fill="#1171b0"/>
<rect x="491.56" y="41.18" width="2.90" height="2.90" fill="#399cc7"/>
<rect x="494.41" y="41.18" width="2.90" height="2.90" fill="#1878b4"/>
<rect x="497.27" y="41.18" width="2.90" height="2.90" fill="#61bdcd"/>
<rect x="500.12" y="41.18" width="2.90" height="2.90" fill="#389ac6"/>
<rect x="502.97" y="41.18" width="2.90" height="2.90" fill="#2485ba"/>
<rect x="505.83" y="41.18" width="2.90" height="2.90" fill="#3ea1ca"/>
<rect x="508.68" y="41.18" width="2.90" height="2.90" fill="#085fa2"/>
<rect x="511.54" y="41.18" width="2.90" height="2.90" fill="#86d0c0"/>
<rect x="414.50" y="44.03" width="2.90" height="2.90" fill="#47accf"/>
<rect x="417.35" y="44.03" width="2.90" height="2.90" fill="#3fa3ca"/>
<rect x="420.21" y="44.03" width="2.90" height="2.90" fill="#60bdcd"/>
<rect x="423.06" y="44.03" width="2.90" height="2.90" fill="#76c9c6"/>
<rect x="425.92" y="44.03" width="2.90" height="2.90" fill="#72c7c7"/>
<rect x="428.77" y="44.03" width="2.90" height="2.90" fill="#9bd8b9"/>
<rect x="431.62" y="44.03" width="2.90" height="2.90" fill="#5fbccd"/>
<rect x="434.48" y="44.03" width="2.90" height="2.90" fill="#51b5d2"/>
<rect x="437.33" y="44.03" width="2.90" height="2.90" fill="#084081"/>
<rect x="440.19" y="44.03" width="2.90" height="2.90" fill="#a6dcb6"/>
<rect x="443.04" y="44.03" width="2.90" height="2.90" fill="#5abacf"/>
<rect x="445.89" y="44.03" width="2.90" height="2.90" fill="#9ad8ba"/>
<rect x="448.75" y="44.03" width="2.90" height="2.90" fill="#65c0cb"/>
<rect x="451.60" y="44.03" width="2.90" height="2.90" fill="#8bd2bf"/>
<rect x="454.46" y="44.03" width="2.90" height="2.90" fill="#3597c4"/>
<rect x="457.31" y="44.03" width="2.90" height="2.90" fill="#44a8cd"/>
<rect x="460.16" y="44.03" width="2.90" height="2.90" fill="#47abcf"/>
<rect x="463.02" y="44.03" width="2.90" height="2.90" fill="#62becc"/>
<rect x="465.87" y="44.03" width="2.90" height="2.90" fill="#67c1cb"/>
<rect x="468.73" y="44.03" width="2.90" height="2.90" fill="#83cfc1"/>
<rect x="471.58" y="44.03" width="2.90" height="2.90" fill="#1979b4"/>
<rect x="474.43" y="44.03" width="2.90" height="2.90" fill="#bae4bd"/>
<rect x="477.29" y="44.03" width="2.90" height="2.90" fill="#2182b9"/>
<rect x="480.14" y="44.03" width="2.90" height="2.90" fill="#62becc"/>
<rect x="483.00" y="44.03" width="2.90" height="2.90" fill="#2b8cbe"/>
<rect x="485.85" y="44.03" width="2.90" height="2.90" fill="#2f91c0"/>
<rect x="488.70" y="44.03" width="2.90" height="2.90" fill="#73c8c7"/>
<rect x="491.56" y="44.03" width="2.90" height="2.90" fill="#98d7ba"/>
<rect x="494.41" y="44.03" width="2.90" height="2.90" fill="#47accf"/>
<rect x="497.27" y="44.03" width="2.90" height="2.90" fill="#82cfc2"/>
<rect x="500.12" y="44.03" width="2.90" height="2.90" fill="#64bfcc"/>
<rect x="502.97" y="44.03" width="2.90" height="2.90" fill="#7fcdc3"/>
<rect x="505.83" y="44.03" width="2.90" height="2.90" fill="#9ad8ba"/>
<rect x="508.68" y="44.03" width="2.90" height="2.90" fill="#68c1ca"/>
<rect x="511.54" y="44.03" width="2.90" height="2.90" fill="#9cd9b9"/>
<rect x="414.50" y="46.89" width="2.90" height="2.90" fill="#48accf"/>
<rect x="417.35" y="46.89" width="2.90" height="2.90" fill="#3fa2ca"/>
<rect x="420.21" y="46.89" width="2.90" height="2.90" fill="#60bdcd"/>
<rect x="423.06" y="46.89" width="2.90" height="2.90" fill="#57b8d0"/>
<rect x="425.92" y="46.89" width="2.90" height="2.90" fill="#94d5bc"/>
<rect x="428.77" y="46.89" width="2.90" height="2.90" fill="#56b7d0"/>
<rect x="431.62" y="46.89" width="2.90" height="2.90" fill="#6dc4c9"/>
<rect x="434.48" y="46.89" width="2.90" height="2.90" fill="#1e7fb7"/>
<rect x="437.33" y="46.89" width="2.90" height="2.90" fill="#a6dcb6"/>
<rect x="440.19" y="46.89" width="2.90" height="2.90" fill="#084081"/>
<rect x="443.04" y="46.89" width="2.90" height="2.90" fill="#77cac5"/>
<rect x="445.89" y="46.89" width="2.90" height="2.90" fill="#6ac2ca"/>
<rect x="448.75" y="46.89" width="2.90" height="2.90" fill="#aedfb8"/>
<rect x="451.60" y="46.89" width="2.90" height="2.90" fill="#46abce"/>
<rect x="454.46" y="46.89" width="2.90" height="2.90" fill="#49add0"/>
<rect x="457.31" y="46.89" width="2.90" height="2.90" fill="#97d7bb"/>
<rect x="460.16" y="46.89" width="2.90" height="2.90" fill="#71c7c7"/>
<rect x="463.02" y="46.89" width="2.90" height="2.90" fill="#62becc"/>
<rect x="465.87" y="46.89" width="2.90" height="2.90" fill="#54b6d1"/>
<rect x="468.73" y="46.89" width="2.90" height="2.90" fill="#d9f0d3"/>
<rect x="471.58" y="46.89" width="2.90" height="2.90" fill="#2081b9"/>
<rect x="474.43" y="46.89" width="2.90" height="2.90" fill="#e0f3db"/>
<rect x="477.29" y="46.89" width="2.90" height="2.90" fill="#44a7cd"/>
<rect x="480.14" y="46.89" width="2.90" height="2.90" fill="#81cec2"/>
<rect x="483.00" y="46.89" width="2.90" height="2.90" fill="#3a9dc7"/>
<rect x="485.85" y="46.89" width="2.90" height="2.90" fill="#389ac6"/>
<rect x="488.70" y="46.89" width="2.90" height="2.90" fill="#44a8cd"/>
<rect x="491.56" y="46.89" width="2.90" height="2.90" fill="#41a4cb"/>
<rect x="494.41" y="46.89" width="2.90" height="2.90" fill="#76c9c6"/>
<rect x="497.27" y="46.89" width="2.90" height="2.90" fill="#76c9c6"/>
<rect x="500.12" y="46.89" width="2.90" height="2.90" fill="#7bccc4"/>
<rect x="502.97" y="46.89" width="2.90" height="2.90" fill="#8bd2bf"/>
<rect x="505.83" y="46.89" width="2.90" height="2.90" fill="#cbebc5"/>
<rect x="508.68" y="46.89" width="2.90" height="2.90" fill="#53b6d1"/>
<rect x="511.54" y="46.89" width="2.90" height="2.90" fill="#b9e4bd"/>
<rect x="414.50" y="49.74" width="2.90" height="2.90" fill="#51b5d2"/>
<rect x="417.35" y="49.74" width="2.90" height="2.90" fill="#50b4d2"/>
<rect x="420.21" y="49.74" width="2.90" height="2.90" fill="#5abacf"/>
<rect x="423.06" y="49.74" width="2.90" height="2.90" fill="#63becc"/>
<rect x="425.92" y="49.74" width="2.90" height="2.90" fill="#8bd2bf"/>
<rect x="428.77" y="49.74" width="2.90" height="2.90" fill="#92d5bc"/>
<rect x="431.62" y="49.74" width="2.90" height="2.90" fill="#40a4cb"/>
<rect x="434.48" y="49.74" width="2.90" height="2.90" fill="#3192c1"/>
<rect x="437.33" y="49.74" width="2.90" height="2.90" fill="#5abacf"/>
<rect x="440.19" y="49.74" width="2.90" height="2.90" fill="#77cac5"/>
<rect x="443.04" y="49.74" width="2.90" height="2.90" fill="#084081"/>
<rect x="445.89" y="49.74" width="2.90" height="2.90" fill="#97d7bb"/>
<rect x="448.75" y="49.74" width="2.90" height="2.90" fill="#59b9cf"/>
<rect x="451.60" y="49.74" width="2.90" height="2.90" fill="#4eb3d3"/>
<rect x="454.46" y="49.74" width="2.90" height="2.90" fill="#5cbbce"/>
<rect x="457.31" y="49.74" width="2.90" height="2.90" fill="#3496c3"/>
<rect x="460.16" y="49.74" width="2.90" height="2.90" fill="#3b9ec8"/>
<rect x="463.02" y="49.74" width="2.90" height="2.90" fill="#41a5cb"/>
<rect x="465.87" y="49.74" width="2.90" height="2.90" fill="#7bccc4"/>
<rect x="468.73" y="49.74" width="2.90" height="2.90" fill="#f0f9ea"/>
<rect x="471.58" y="49.74" width="2.90" height="2.90" fill="#3496c4"/>
<rect x="474.43" y="49.74" width="2.90" height="2.90" fill="#d4eece"/>
<rect x="477.29" y="49.74" width="2.90" height="2.90" fill="#40a3cb"/>
<rect x="480.14" y="49.74" width="2.90" height="2.90" fill="#74c8c6"/>
<rect x="483.00" y="49.74" width="2.90" height="2.90" fill="#3da0c9"/>
<rect x="485.85" y="49.74" width="2.90" height="2.90" fill="#70c6c8"/>
<rect x="488.70" y="49.74" width="2.90" height="2.90" fill="#a2dbb7"/>
<rect x="491.56" y="49.74" width="2.90" height="2.90" fill="#6cc4c9"/>
<rect x="494.41" y="49.74" width="2.90" height="2.90" fill="#3fa3ca"/>
<rect x="497.27" y="49.74" width="2.90" height="2.90" fill="#abdeb6"/>
<rect x="500.12" y="49.74" width="2.90" height="2.90" fill="#45a9ce"/>
<rect x="502.97" y="49.74" width="2.90" height="2.90" fill="#8bd2bf"/>
<rect x="505.83" y="49.74" width="2.90" height="2.90" fill="#a9deb6"/>
<rect x="508.68" y="49.74" width="2.90" height="2.90" fill="#40a3cb"/>
<rect x="511.54" y="49.74" width="2.90" height="2.90" fill="#90d4bd"/>
<rect x="414.50" y="52.59" width="2.90" height="2.90" fill="#399bc6"/>
<rect x="417.35" y="52.59" width="2.90" height="2.90" fill="#0863a7"/>
<rect x="420.21" y="52.59" width="2.90" height="2.90" fill="#81cec2"/>
<rect x="423.06" y="52.59" width="2.90" height="2.90" fill="#84d0c1"/>
<rect x="425.92" y="52.59" width="2.90" height="2.90" fill="#5cbbce"/>
<rect x="428.77" y="52.59" width="2.90" height="2.90" fill="#44a8cd"/>
<rect x="431.62" y="52.59" width="2.90" height="2.90" fill="#89d1bf"/>
<rect x="434.48" y="52.59" width="2.90" height="2.90" fill="#51b5d2"/>
<rect x="437.33" y="52.59" width="2.90" height="2.90" fill="#9ad8ba"/>
<rect x="440.19" y="52.59" width="2.90" height="2.90" fill="#6ac2ca"/>
<rect x="443.04" y="52.59" width="2.90" height="2.90" fill="#97d7bb"/>
<rect x="445.89" y="52.59" width="2.90" height="2.90" fill="#084081"/>
<rect x="448.75" y="52.59" width="2.90" height="2.90" fill="#81cec2"/>
<rect x="451.60" y="52.59" width="2.90" height="2.90" fill="#5bbacf"/>
<rect x="454.46" y="52.59" width="2.90" height="2.90" fill="#45a9ce"/>
<rect x="457.31" y="52.59" width="2.90" height="2.90" fill="#43a7cd"/>
<rect x="460.16" y="52.59" width="2.90" height="2.90" fill="#71c7c7"/>
<rect x="463.02" y="52.59" width="2.90" height="2.90" fill="#3597c4"/>
<rect x="465.87" y="52.59" width="2.90" height="2.90" fill="#3092c1"/>
<rect x="468.73" y="52.59" width="2.90" height="2.90" fill="#9fdab8"/>
<rect x="471.58" y="52.59" width="2.90" height="2.90" fill="#61bdcd"/>
<rect x="474.43" y="52.59" width="2.90" height="2.90" fill="#def2d9"/>
<rect x="477.29" y="52.59" width="2.90" height="2.90" fill="#44a8cd"/>
<rect x="480.14" y="52.59" width="2.90" height="2.90" fill="#93d5bc"/>
<rect x="483.00" y="52.59" width="2.90" height="2.90" fill="#86d0c0"/>
<rect x="485.85" y="52.59" width="2.90" height="2.90" fill="#4db2d3"/>
<rect x="488.70" y="52.59" width="2.90" height="2.90" fill="#43a7cc"/>
<rect x="491.56" y="52.59" width="2.90" height="2.90" fill="#7acbc4"/>
<rect x="494.41" y="52.59" width="2.90" height="2.90" fill="#79cbc5"/>
<rect x="497.27" y="52.59" width="2.90" height="2.90" fill="#c4e8c1"/>
<rect x="500.12" y="52.59" width="2.90" height="2.90" fill="#7fcdc3"/>
<rect x="502.97" y="52.59" width="2.90" height="2.90" fill="#71c6c7"/>
<rect x="505.83" y="52.59" width="2.90" height="2.90" fill="#99d7ba"/>
<rect x="508.68" y="52.59" width="2.90" height="2.90" fill="#1979b5"/>
<rect x="511.54" y="52.59" width="2.90" height="2.90" fill="#bbe4bd"/>
<rect x="414.50" y="55.45" width="2.90" height="2.90" fill="#46aace"/>
<rect x="417.35" y="55.45" width="2.90" height="2.90" fill="#6cc4c9"/>
<rect x="420.21" y="55.45" width="2.90" height="2.90" fill="#3fa3ca"/>
<rect x="423.06" y="55.45" width="2.90" height="2.90" fill="#56b8d0"/>
<rect x="425.92" y="55.45" width="2.90" height="2.90" fill="#8fd4bd"/>
<rect x="428.77" y="55.45" width="2.90" height="2.90" fill="#6cc4c9"/>
<rect x="431.62" y="55.45" width="2.90" height="2.90" fill="#4db2d2"/>
<rect x="434.48" y="55.45" width="2.90" height="2.90" fill="#2586bb"/>
<rect x="437.33" y="55.45" width="2.90" height="2.90" fill="#65c0cb"/>
<rect x="440.19" y="55.45" width="2.90" height="2.90" fill="#aedfb8"/>
<rect x="443.04" y="55.45" width="2.90" height="2.90" fill="#59b9cf"/>
<rect x="445.89" y="55.45" width="2.90" height="2.90" fill="#81cec2"/>
<rect x="448.75" y="55.45" width="2.90" height="2.90" fill="#084081"/>
<rect x="451.60" y="55.45" width="2.90" height="2.90" fill="#a3dbb7"/>
<rect x="454.46" y="55.45" width="2.90" height="2.90" fill="#3ea2ca"/>
<rect x="457.31" y="55.45" width="2.90" height="2.90" fill="#68c1ca"/>
<rect x="460.16" y="55.45" width="2.90" height="2.90" fill="#47accf"/>
<rect x="463.02" y="55.45" width="2.90" height="2.90" fill="#44a8cd"/>
<rect x="465.87" y="55.45" width="2.90" height="2.90" fill="#4cb1d2"/>
<rect x="468.73" y="55.45" width="2.90" height="2.90" fill="#b4e2ba"/>
<rect x="471.58" y="55.45" width="2.90" height="2.90" fill="#2d8fbf"/>
<rect x="474.43" y="55.45" width="2.90" height="2.90" fill="#d7efd1"/>
<rect x="477.29" y="55.45" width="2.90" height="2.90" fill="#59b9cf"/>
<rect x="480.14" y="55.45" width="2.90" height="2.90" fill="#45a9ce"/>
<rect x="483.00" y="55.45" width="2.90" height="2.90" fill="#4aafd1"/>
<rect x="485.85" y="55.45" width="2.90" height="2.90" fill="#59b9cf"/>
<rect x="488.70" y="55.45" width="2.90" height="2.90" fill="#2384ba"/>
<rect x="491.56" y="55.45" width="2.90" height="2.90" fill="#399bc6"/>
<rect x="494.41" y="55.45" width="2.90" height="2.90" fill="#70c6c8"/>
<rect x="497.27" y="55.45" width="2.90" height="2.90" fill="#4db2d3"/>
<rect x="500.12" y="55.45" width="2.90" height="2.90" fill="#8bd2bf"/>
<rect x="502.97" y="55.45" width="2.90" height="2.90" fill="#86d0c0"/>
<rect x="505.83" y="55.45" width="2.90" height="2.90" fill="#77cac5"/>
<rect x="508.68" y="55.45" width="2.90" height="2.90" fill="#3b9ec7"/>
<rect x="511.54" y="55.45" width="2.90" height="2.90" fill="#b2e1b9"/>
<rect x="414.50" y="58.30" width="2.90" height="2.90" fill="#1475b2"/>
<rect x="417.35" y="58.30" width="2.90" height="2.90" fill="#a5dcb6"/>
<rect x="420.21" y="58.30" width="2.90" height="2.90" fill="#2c8dbf"/>
<rect x="423.06" y="58.30" width="2.90" height="2.90" fill="#45a9cd"/>
<rect x="425.92" y="58.30" width="2.90" height="2.90" fill="#5fbdcd"/>
<rect x="428.77" y="58.30" width="2.90" height="2.90" fill="#62becc"/>
<rect x="431.62" y="58.30" width="2.90" height="2.90" fill="#5ebcce"/>
<rect x="434.48" y="58.30" width="2.90" height="2.90" fill="#55b7d1"/>
<rect x="437.33" y="58.30" width="2.90" height="2.90" fill="#8bd2bf"/>
<rect x="440.19" y="58.30" width="2.90" height="2.90" fill="#46abce"/>
<rect x="443.04" y="58.30" width="2.90" height="2.90" fill="#4eb3d3"/>
<rect x="445.89" y="58.30" width="2.90" height="2.90" fill="#5bbacf"/>
<rect x="448.75" y="58.30" width="2.90" height="2.90" fill="#a3dbb7"/>
<rect x="451.60" y="58.30" width="2.90" height="2.90" fill="#084081"/>
<rect x="454.46" y="58.30" width="2.90" height="2.90" fill="#3ea1c9"/>
<rect x="457.31" y="58.30" width="2.90" height="2.90" fill="#49aed0"/>
<rect x="460.16" y="58.30" width="2.90" height="2.90" fill="#2c8ebf"/>
<rect x="463.02" y="58.30" width="2.90" height="2.90" fill="#3ea1c9"/>
<rect x="465.87" y="58.30" width="2.90" height="2.90" fill="#69c2ca"/>
<rect x="468.73" y="58.30" width="2.90" height="2.90" fill="#dcf1d6"/>
<rect x="471.58" y="58.30" width="2.90" height="2.90" fill="#41a4cb"/>
<rect x="474.43" y="58.30" width="2.90" height="2.90" fill="#d4eecd"/>
<rect x="477.29" y="58.30" width="2.90" height="2.90" fill="#59b9cf"/>
<rect x="480.14" y="58.30" width="2.90" height="2.90" fill="#56b7d0"/>
<rect x="483.00" y="58.30" width="2.90" height="2.90" fill="#4fb4d3"/>
<rect x="485.85" y="58.30" width="2.90" height="2.90" fill="#3395c3"/>
<rect x="488.70" y="58.30" width="2.90" height="2.90" fill="#58b8d0"/>
<rect x="491.56" y="58.30" width="2.90" height="2.90" fill="#4eb3d3"/>
<rect x="494.41" y="58.30" width="2.90" height="2.90" fill="#9fdab8"/>
<rect x="497.27" y="58.30" width="2.90" height="2.90" fill="#7acbc4"/>
<rect x="500.12" y="58.30" width="2.90" height="2.90" fill="#3496c3"/>
<rect x="502.97" y="58.30" width="2.90" height="2.90" fill="#8fd4bd"/>
<rect x="505.83" y="58.30" width="2.90" height="2.90" fill="#c1e7c0"/>
<rect x="508.68" y="58.30" width="2.90" height="2.90" fill="#40a3ca"/>
<rect x="511.54" y="58.30" width="2.90" height="2.90" fill="#57b8d0"/>
<rect x="414.50" y="61.16" width="2.90" height="2.90" fill="#5abacf"/>
<rect x="417.35" y="61.16" width="2.90" height="2.90" fill="#2b8dbe"/>
<rect x="420.21" y="61.16" width="2.90" height="2.90" fill="#41a5cb"/>
<rect x="423.06" y="61.16" width="2.90" height="2.90" fill="#5bbacf"/>
<rect x="425.92" y="61.16" width="2.90" height="2.90" fill="#51b5d2"/>
<rect x="428.77" y="61.16" width="2.90" height="2.90" fill="#4aafd1"/>
<rect x="431.62" y="61.16" width="2.90" height="2.90" fill="#52b5d2"/>
<rect x="434.48" y="61.16" width="2.90" height="2.90" fill="#3da0c9"/>
<rect x="437.33" y="61.16" width="2.90" height="2.90" fill="#3597c4"/>
<rect x="440.19" y="61.16" width="2.90" height="2.90" fill="#49add0"/>
<rect x="443.04" y="61.16" width="2.90" height="2.90" fill="#5cbbce"/>
<rect x="445.89" y="61.16" width="2.90" height="2.90" fill="#45a9ce"/>
<rect x="448.75" y="61.16" width="2.90" height="2.90" fill="#3ea2ca"/>
<rect x="451.60" y="61.16" width="2.90" height="2.90" fill="#3ea1c9"/>
<rect x="454.46" y="61.16" width="2.90" height="2.90" fill="#084081"/>
<rect x="457.31" y="61.16" width="2.90" height="2.90" fill="#2182b9"/>
<rect x="460.16" y="61.16" width="2.90" height="2.90" fill="#4db2d3"/>
<rect x="463.02" y="61.16" width="2.90" height="2.90" fill="#5cbbce"/>
<rect x="465.87" y="61.16" width="2.90" height="2.90" fill="#55b7d1"/>
<rect x="468.73" y="61.16" width="2.90" height="2.90" fill="#dcf1d7"/>
<rect x="471.58" y="61.16" width="2.90" height="2.90" fill="#3294c2"/>
<rect x="474.43" y="61.16" width="2.90" height="2.90" fill="#d2eecc"/>
<rect x="477.29" y="61.16" width="2.90" height="2.90" fill="#65c0cb"/>
<rect x="480.14" y="61.16" width="2.90" height="2.90" fill="#72c7c7"/>
<rect x="483.00" y="61.16" width="2.90" height="2.90" fill="#5fbdcd"/>
<rect x="485.85" y="61.16" width="2.90" height="2.90" fill="#2889bd"/>
<rect x="488.70" y="61.16" width="2.90" height="2.90" fill="#1070b0"/>
<rect x="491.56" y="61.16" width="2.90" height="2.90" fill="#52b5d2"/>
<rect x="494.41" y="61.16" width="2.90" height="2.90" fill="#68c1ca"/>
<rect x="497.27" y="61.16" width="2.90" height="2.90" fill="#4db2d2"/>
<rect x="500.12" y="61.16" width="2.90" height="2.90" fill="#58b8d0"/>
<rect x="502.97" y="61.16" width="2.90" height="2.90" fill="#79cbc5"/>
<rect x="505.83" y="61.16" width="2.90" height="2.90" fill="#58b9d0"/>
<rect x="508.68" y="61.16" width="2.90" height="2.90" fill="#4cb1d2"/>
<rect x="511.54" y="61.16" width="2.90" height="2.90" fill="#9bd8b9"/>
<rect x="414.50" y="64.01" width="2.90" height="2.90" fill="#4bafd1"/>
<rect x="417.35" y="64.01" width="2.90" height="2.90" fill="#3496c4"/>
<rect x="420.21" y="64.01" width="2.90" height="2.90" fill="#56b7d0"/>
<rect x="423.06" y="64.01" width="2.90" height="2.90" fill="#6fc5c8"/>
<rect x="425.92" y="64.01" width="2.90" height="2.90" fill="#76c9c6"/>
<rect x="428.77" y="64.01" width="2.90" height="2.90" fill="#82cfc2"/>
<rect x="431.62" y="64.01" width="2.90" height="2.90" fill="#4bb0d1"/>
<rect x="434.48" y="64.01" width="2.90" height="2.90" fill="#2384ba"/>
<rect x="437.33" y="64.01" width="2.90" height="2.90" fill="#44a8cd"/>
<rect x="440.19" y="64.01" width="2.90" height="2.90" fill="#97d7bb"/>
<rect x="443.04" y="64.01" width="2.90" height="2.90" fill="#3496c3"/>
<rect x="445.89" y="64.01" width="2.90" height="2.90" fill="#43a7cd"/>
<rect x="448.75" y="64.01" width="2.90" height="2.90" fill="#68c1ca"/>
<rect x="451.60" y="64.01" width="2.90" height="2.90" fill="#49aed0"/>
<rect x="454.46" y="64.01" width="2.90" height="2.90" fill="#2182b9"/>
<rect x="457.31" y="64.01" width="2.90" height="2.90" fill="#084081"/>
<rect x="460.16" y="64.01" width="2.90" height="2.90" fill="#62becc"/>
<rect x="463.02" y="64.01" width="2.90" height="2.90" fill="#74c8c6"/>
<rect x="465.87" y="64.01" width="2.90" height="2.90" fill="#64bfcc"/>
<rect x="468.73" y="64.01" width="2.90" height="2.90" fill="#59b9cf"/>
<rect x="471.58" y="64.01" width="2.90" height="2.90" fill="#44a8cd"/>
<rect x="474.43" y="64.01" width="2.90" height="2.90" fill="#e8f6e3"/>
<rect x="477.29" y="64.01" width="2.90" height="2.90" fill="#4bafd1"/>
<rect x="480.14" y="64.01" width="2.90" height="2.90" fill="#7fcec3"/>
<rect x="483.00" y="64.01" width="2.90" height="2.90" fill="#49add0"/>
<rect x="485.85" y="64.01" width="2.90" height="2.90" fill="#2f90c0"/>
<rect x="488.70" y="64.01" width="2.90" height="2.90" fill="#45a8cd"/>
<rect x="491.56" y="64.01" width="2.90" height="2.90" fill="#59b9cf"/>
<rect x="494.41" y="64.01" width="2.90" height="2.90" fill="#7dcdc3"/>
<rect x="497.27" y="64.01" width="2.90" height="2.90" fill="#69c2ca"/>
<rect x="500.12" y="64.01" width="2.90" height="2.90" fill="#56b8d0"/>
<rect x="502.97" y="64.01" width="2.90" height="2.90" fill="#89d1bf"/>
<rect x="505.83" y="64.01" width="2.90" height="2.90" fill="#a3dbb7"/>
<rect x="508.68" y="64.01" width="2.90" height="2.90" fill="#2282b9"/>
<rect x="511.54" y="64.01" width="2.90" height="2.90" fill="#bfe6bf"/>
<rect x="414.50" y="66.86" width="2.90" height="2.90" fill="#43a7cd"/>
<rect x="417.35" y="66.86" width="2.90" height="2.90" fill="#2384ba"/>
<rect x="420.21" y="66.86" width="2.90" height="2.90" fill="#52b5d2"/>
<rect x="423.06" y="66.86" width="2.90" height="2.90" fill="#69c2ca"/>
<rect x="425.92" y="66.86" width="2.90" height="2.90" fill="#2384ba"/>
<rect x="428.77" y="66.86" width="2.90" height="2.90" fill="#8bd2bf"/>
<rect x="431.62" y="66.86" width="2.90" height="2.90" fill="#50b4d2"/>
<rect x="434.48" y="66.86" width="2.90" height="2.90" fill="#55b7d1"/>
<rect x="437.33" y="66.86" width="2.90" height="2.90" fill="#47abcf"/>
<rect x="440.19" y="66.86" width="2.90" height="2.90" fill="#71c7c7"/>
<rect x="443.04" y="66.86" width="2.90" height="2.90" fill="#3b9ec8"/>
<rect x="445.89" y="66.86" width="2.90" height="2.90" fill="#71c7c7"/>
<rect x="448.75" y="66.86" width="2.90" height="2.90" fill="#47accf"/>
<rect x="451.60" y="66.86" width="2.90" height="2.90" fill="#2c8ebf"/>
<rect x="454.46" y="66.86" width="2.90" height="2.90" fill="#4db2d3"/>
<rect x="457.31" y="66.86" width="2.90" height="2.90" fill="#62becc"/>
<rect x="460.16" y="66.86" width="2.90" height="2.90" fill="#084081"/>
<rect x="463.02" y="66.86" width="2.90" height="2.90" fill="#61bdcd"/>
<rect x="465.87" y="66.86" width="2.90" height="2.90" fill="#7fcdc3"/>
<rect x="468.73" y="66.86" width="2.90" height="2.90" fill="#399cc7"/>
<rect x="471.58" y="66.86" width="2.90" height="2.90" fill="#399bc6"/>
<rect x="474.43" y="66.86" width="2.90" height="2.90" fill="#4fb4d3"/>
<rect x="477.29" y="66.86" width="2.90" height="2.90" fill="#3ea1c9"/>
<rect x="480.14" y="66.86" width="2.90" height="2.90" fill="#90d4bd"/>
<rect x="483.00" y="66.86" width="2.90" height="2.90" fill="#3c9fc8"/>
<rect x="485.85" y="66.86" width="2.90" height="2.90" fill="#3597c4"/>
<rect x="488.70" y="66.86" width="2.90" height="2.90" fill="#75c8c6"/>
<rect x="491.56" y="66.86" width="2.90" height="2.90" fill="#389bc6"/>
<rect x="494.41" y="66.86" width="2.90" height="2.90" fill="#4aaed0"/>
<rect x="497.27" y="66.86" width="2.90" height="2.90" fill="#97d7bb"/>
<rect x="500.12" y="66.86" width="2.90" height="2.90" fill="#66c0cb"/>
<rect x="502.97" y="66.86" width="2.90" height="2.90" fill="#6fc5c8"/>
<rect x="505.83" y="66.86" width="2.90" height="2.90" fill="#9fdab8"/>
<rect x="508.68" y="66.86" width="2.90" height="2.90" fill="#2b8cbe"/>
<rect x="511.54" y="66.86" width="2.90" height="2.90" fill="#b1e0b9"/>
<rect x="414.50" y="69.72" width="2.90" height="2.90" fill="#72c7c7"/>
<rect x="417.35" y="69.72" width="2.90" height="2.90" fill="#3b9ec7"/>
<rect x="420.21" y="69.72" width="2.90" height="2.90" fill="#6fc5c8"/>
<rect x="423.06" y="69.72" width="2.90" height="2.90" fill="#4cb1d2"/>
<rect x="425.92" y="69.72" width="2.90" height="2.90" fill="#71c6c7"/>
<rect x="428.77" y="69.72" width="2.90" height="2.90" fill="#b5e2bb"/>
<rect x="431.62" y="69.72" width="2.90" height="2.90" fill="#58b9d0"/>
<rect x="434.48" y="69.72" width="2.90" height="2.90" fill="#3293c2"/>
<rect x="437.33" y="69.72" width="2.90" height="2.90" fill="#62becc"/>
<rect x="440.19" y="69.72" width="2.90" height="2.90" fill="#62becc"/>
<rect x="443.04" y="69.72" width="2.90" height="2.90" fill="#41a5cb"/>
<rect x="445.89" y="69.72" width="2.90" height="2.90" fill="#3597c4"/>
<rect x="448.75" y="69.72" width="2.90" height="2.90" fill="#44a8cd"/>
<rect x="451.60" y="69.72" width="2.90" height="2.90" fill="#3ea1c9"/>
<rect x="454.46" y="69.72" width="2.90" height="2.90" fill="#5cbbce"/>
<rect x="457.31" y="69.72" width="2.90" height="2.90" fill="#74c8c6"/>
<rect x="460.16" y="69.72" width="2.90" height="2.90" fill="#61bdcd"/>
<rect x="463.02" y="69.72" width="2.90" height="2.90" fill="#084081"/>
<rect x="465.87" y="69.72" width="2.90" height="2.90" fill="#6ac3ca"/>
<rect x="468.73" y="69.72" width="2.90" height="2.90" fill="#d2edcc"/>
<rect x="471.58" y="69.72" width="2.90" height="2.90" fill="#2d8ebf"/>
<rect x="474.43" y="69.72" width="2.90" height="2.90" fill="#a5dcb6"/>
<rect x="477.29" y="69.72" width="2.90" height="2.90" fill="#45a9ce"/>
<rect x="480.14" y="69.72" width="2.90" height="2.90" fill="#48accf"/>
<rect x="483.00" y="69.72" width="2.90" height="2.90" fill="#55b7d1"/>
<rect x="485.85" y="69.72" width="2.90" height="2.90" fill="#78cac5"/>
<rect x="488.70" y="69.72" width="2.90" height="2.90" fill="#5ebcce"/>
<rect x="491.56" y="69.72" width="2.90" height="2.90" fill="#97d7bb"/>
<rect x="494.41" y="69.72" width="2.90" height="2.90" fill="#aedfb8"/>
<rect x="497.27" y="69.72" width="2.90" height="2.90" fill="#7acbc4"/>
<rect x="500.12" y="69.72" width="2.90" height="2.90" fill="#7bccc4"/>
<rect x="502.97" y="69.72" width="2.90" height="2.90" fill="#57b8d0"/>
<rect x="505.83" y="69.72" width="2.90" height="2.90" fill="#b3e1ba"/>
<rect x="508.68" y="69.72" width="2.90" height="2.90" fill="#65c0cb"/>
<rect x="511.54" y="69.72" width="2.90" height="2.90" fill="#b1e0b9"/>
<rect x="414.50" y="72.57" width="2.90" height="2.90" fill="#0865a9"/>
<rect x="417.35" y="72.57" width="2.90" height="2.90" fill="#3ea1c9"/>
<rect x="420.21" y="72.57" width="2.90" height="2.90" fill="#75c9c6"/>
<rect x="423.06" y="72.57" width="2.90" height="2.90" fill="#5abacf"/>
<rect x="425.92" y="72.57" width="2.90" height="2.90" fill="#3799c5"/>
<rect x="428.77" y="72.57" width="2.90" height="2.90" fill="#4fb4d3"/>
<rect x="431.62" y="72.57" width="2.90" height="2.90" fill="#5ebcce"/>
<rect x="434.48" y="72.57" width="2.90" height="2.90" fill="#5ebcce"/>
<rect x="437.33" y="72.57" width="2.90" height="2.90" fill="#67c1cb"/>
<rect x="440.19" y="72.57" width="2.90" height="2.90" fill="#54b6d1"/>
<rect x="443.04" y="72.57" width="2.90" height="2.90" fill="#7bccc4"/>
<rect x="445.89" y="72.57" width="2.90" height="2.90" fill="#3092c1"/>
<rect x="448.75" y="72.57" width="2.90" height="2.90" fill="#4cb1d2"/>
<rect x="451.60" y="72.57" width="2.90" height="2.90" fill="#69c2ca"/>
<rect x="454.46" y="72.57" width="2.90" height="2.90" fill="#55b7d1"/>
<rect x="457.31" y="72.57" width="2.90" height="2.90" fill="#64bfcc"/>
<rect x="460.16" y="72.57" width="2.90" height="2.90" fill="#7fcdc3"/>
<rect x="463.02" y="72.57" width="2.90" height="2.90" fill="#6ac3ca"/>
<rect x="465.87" y="72.57" width="2.90" height="2.90" fill="#084081"/>
<rect x="468.73" y="72.57" width="2.90" height="2.90" fill="#b3e1ba"/>
<rect x="471.58" y="72.57" width="2.90" height="2.90" fill="#44a7cd"/>
<rect x="474.43" y="72.57" width="2.90" height="2.90" fill="#e7f6e2"/>
<rect x="477.29" y="72.57" width="2.90" height="2.90" fill="#52b5d2"/>
<rect x="480.14" y="72.57" width="2.90" height="2.90" fill="#5dbbce"/>
<rect x="483.00" y="72.57" width="2.90" height="2.90" fill="#3193c2"/>
<rect x="485.85" y="72.57" width="2.90" height="2.90" fill="#3496c3"/>
<rect x="488.70" y="72.57" width="2.90" height="2.90" fill="#4cb1d2"/>
<rect x="491.56" y="72.57" width="2.90" height="2.90" fill="#75c9c6"/>
<rect x="494.41" y="72.57" width="2.90" height="2.90" fill="#8dd3be"/>
<rect x="497.27" y="72.57" width="2.90" height="2.90" fill="#bde5bf"/>
<rect x="500.12" y="72.57" width="2.90" height="2.90" fill="#89d1bf"/>
<rect x="502.97" y="72.57" width="2.90" height="2.90" fill="#67c1cb"/>
<rect x="505.83" y="72.57" width="2.90" height="2.90" fill="#a9ddb5"/>
<rect x="508.68" y="72.57" width="2.90" height="2.90" fill="#389bc6"/>
<rect x="511.54" y="72.57" width="2.90" height="2.90" fill="#c0e6c0"/>
<rect x="414.50" y="75.43" width="2.90" height="2.90" fill="#e5f5df"/>
<rect x="417.35" y="75.43" width="2.90" height="2.90" fill="#afe0b8"/>
<rect x="420.21" y="75.43" width="2.90" height="2.90" fill="#d8f0d2"/>
<rect x="423.06" y="75.43" width="2.90" height="2.90" fill="#e9f7e3"/>
<rect x="425.92" y="75.43" width="2.90" height="2.90" fill="#f4fbed"/>
<rect x="428.77" y="75.43" width="2.90" height="2.90" fill="#ecf8e6"/>
<rect x="431.62" y="75.43" width="2.90" height="2.90" fill="#3b9ec8"/>
<rect x="434.48" y="75.43" width="2.90" height="2.90" fill="#a0dab8"/>
<rect x="437.33" y="75.43" width="2.90" height="2.90" fill="#83cfc1"/>
<rect x="440.19" y="75.43" width="2.90" height="2.90" fill="#d9f0d3"/>
<rect x="443.04" y="75.43" width="2.90" height="2.90" fill="#f0f9ea"/>
<rect x="445.89" y="75.43" width="2.90" height="2.90" fill="#9fdab8"/>
<rect x="448.75" y="75.43" width="2.90" height="2.90" fill="#b4e2ba"/>
<rect x="451.60" y="75.43" width="2.90" height="2.90" fill="#dcf1d6"/>
<rect x="454.46" y="75.43" width="2.90" height="2.90" fill="#dcf1d7"/>
<rect x="457.31" y="75.43" width="2.90" height="2.90" fill="#59b9cf"/>
<rect x="460.16" y="75.43" width="2.90" height="2.90" fill="#399cc7"/>
<rect x="463.02" y="75.43" width="2.90" height="2.90" fill="#d2edcc"/>
<rect x="465.87" y="75.43" width="2.90" height="2.90" fill="#b3e1ba"/>
<rect x="468.73" y="75.43" width="2.90" height="2.90" fill="#084081"/>
<rect x="471.58" y="75.43" width="2.90" height="2.90" fill="#abdeb6"/>
<rect x="474.43" y="75.43" width="2.90" height="2.90" fill="#1b7cb6"/>
<rect x="477.29" y="75.43" width="2.90" height="2.90" fill="#b4e2ba"/>
<rect x="480.14" y="75.43" width="2.90" height="2.90" fill="#d1edca"/>
<rect x="483.00" y="75.43" width="2.90" height="2.90" fill="#b2e1b9"/>
<rect x="485.85" y="75.43" width="2.90" height="2.90" fill="#e0f3db"/>
<rect x="488.70" y="75.43" width="2.90" height="2.90" fill="#edf8e7"/>
<rect x="491.56" y="75.43" width="2.90" height="2.90" fill="#eaf7e4"/>
<rect x="494.41" y="75.43" width="2.90" height="2.90" fill="#ecf8e6"/>
<rect x="497.27" y="75.43" width="2.90" height="2.90" fill="#c3e7c1"/>
<rect x="500.12" y="75.43" width="2.90" height="2.90" fill="#f1faeb"/>
<rect x="502.97" y="75.43" width="2.90" height="2.90" fill="#70c6c8"/>
<rect x="505.83" y="75.43" width="2.90" height="2.90" fill="#ecf8e6"/>
<rect x="508.68" y="75.43" width="2.90" height="2.90" fill="#bee6bf"/>
<rect x="511.54" y="75.43" width="2.90" height="2.90" fill="#f4fbed"/>
<rect x="414.50" y="78.28" width="2.90" height="2.90" fill="#085fa2"/>
<rect x="417.35" y="78.28" width="2.90" height="2.90" fill="#0861a5"/>
<rect x="420.21" y="78.28" width="2.90" height="2.90" fill="#50b4d2"/>
<rect x="423.06" y="78.28" width="2.90" height="2.90" fill="#3c9fc8"/>
<rect x="425.92" y="78.28" width="2.90" height="2.90" fill="#1878b4"/>
<rect x="428.77" y="78.28" width="2.90" height="2.90" fill="#66c0cb"/>
<rect x="431.62" y="78.28" width="2.90" height="2.90" fill="#4cb0d2"/>
<rect x="434.48" y="78.28" width="2.90" height="2.90" fill="#1878b4"/>
<rect x="437.33" y="78.28" width="2.90" height="2.90" fill="#1979b4"/>
<rect x="440.19" y="78.28" width="2.90" height="2.90" fill="#2081b9"/>
<rect x="443.04" y="78.28" width="2.90" height="2.90" fill="#3496c4"/>
<rect x="445.89" y="78.28" width="2.90" height="2.90" fill="#61bdcd"/>
<rect x="448.75" y="78.28" width="2.90" height="2.90" fill="#2d8fbf"/>
<rect x="451.60" y="78.28" width="2.90" height="2.90" fill="#41a4cb"/>
<rect x="454.46" y="78.28" width="2.90" height="2.90" fill="#3294c2"/>
<rect x="457.31" y="78.28" width="2.90" height="2.90" fill="#44a8cd"/>
<rect x="460.16" y="78.28" width="2.90" height="2.90" fill="#399bc6"/>
<rect x="463.02" y="78.28" width="2.90" height="2.90" fill="#2d8ebf"/>
<rect x="465.87" y="78.28" width="2.90" height="2.90" fill="#44a7cd"/>
<rect x="468.73" y="78.28" width="2.90" height="2.90" fill="#abdeb6"/>
<rect x="471.58" y="78.28" width="2.90" height="2.90" fill="#084081"/>
<rect x="474.43" y="78.28" width="2.90" height="2.90" fill="#bbe4bd"/>
<rect x="477.29" y="78.28" width="2.90" height="2.90" fill="#42a6cc"/>
<rect x="480.14" y="78.28" width="2.90" height="2.90" fill="#5cbbce"/>
<rect x="483.00" y="78.28" width="2.90" height="2.90" fill="#61bdcd"/>
<rect x="485.85" y="78.28" width="2.90" height="2.90" fill="#2a8bbd"/>
<rect x="488.70" y="78.28" width="2.90" height="2.90" fill="#43a7cc"/>
<rect x="491.56" y="78.28" width="2.90" height="2.90" fill="#3395c3"/>
<rect x="494.41" y="78.28" width="2.90" height="2.90" fill="#2889bd"/>
<rect x="497.27" y="78.28" width="2.90" height="2.90" fill="#6ec5c8"/>
<rect x="500.12" y="78.28" width="2.90" height="2.90" fill="#56b7d0"/>
<rect x="502.97" y="78.28" width="2.90" height="2.90" fill="#3c9fc8"/>
<rect x="505.83" y="78.28" width="2.90" height="2.90" fill="#a4dbb6"/>
<rect x="508.68" y="78.28" width="2.90" height="2.90" fill="#2b8cbe"/>
<rect x="511.54" y="78.28" width="2.90" height="2.90" fill="#71c7c7"/>
<rect x="414.50" y="81.13" width="2.90" height="2.90" fill="#76c9c6"/>
<rect x="417.35" y="81.13" width="2.90" height="2.90" fill="#acdfb7"/>
<rect x="420.21" y="81.13" width="2.90" height="2.90" fill="#62becc"/>
<rect x="423.06" y="81.13" width="2.90" height="2.90" fill="#c8eac3"/>
<rect x="425.92" y="81.13" width="2.90" height="2.90" fill="#e7f6e1"/>
<rect x="428.77" y="81.13" width="2.90" height="2.90" fill="#d0edca"/>
<rect x="431.62" y="81.13" width="2.90" height="2.90" fill="#e1f3dc"/>
<rect x="434.48" y="81.13" width="2.90" height="2.90" fill="#85d0c1"/>
<rect x="437.33" y="81.13" width="2.90" height="2.90" fill="#bae4bd"/>
<rect x="440.19" y="81.13" width="2.90" height="2.90" fill="#e0f3db"/>
<rect x="443.04" y="81.13" width="2.90" height="2.90" fill="#d4eece"/>
<rect x="445.89" y="81.13" width="2.90" height="2.90" fill="#def2d9"/>
<rect x="448.75" y="81.13" width="2.90" height="2.90" fill="#d7efd1"/>
<rect x="451.60" y="81.13" width="2.90" height="2.90" fill="#d4eecd"/>
<rect x="454.46" y="81.13" width="2.90" height="2.90" fill="#d2eecc"/>
<rect x="457.31" y="81.13" width="2.90" height="2.90" fill="#e8f6e3"/>
<rect x="460.16" y="81.13" width="2.90" height="2.90" fill="#4fb4d3"/>
<rect x="463.02" y="81.13" width="2.90" height="2.90" fill="#a5dcb6"/>
<rect x="465.87" y="81.13" width="2.90" height="2.90" fill="#e7f6e2"/>
<rect x="468.73" y="81.13" width="2.90" height="2.90" fill="#1b7cb6"/>
<rect x="471.58" y="81.13" width="2.90" height="2.90" fill="#bbe4bd"/>
<rect x="474.43" y="81.13" width="2.90" height="2.90" fill="#084081"/>
<rect x="477.29" y="81.13" width="2.90" height="2.90" fill="#c8eac3"/>
<rect x="480.14" y="81.13" width="2.90" height="2.90" fill="#d4eecd"/>
<rect x="483.00" y="81.13" width="2.90" height="2.90" fill="#d1edcb"/>
<rect x="485.85" y="81.13" width="2.90" height="2.90" fill="#c5e8c2"/>
<rect x="488.70" y="81.13" width="2.90" height="2.90" fill="#bbe4bd"/>
<rect x="491.56" y="81.13" width="2.90" height="2.90" fill="#c6e9c2"/>
<rect x="494.41" y="81.13" width="2.90" height="2.90" fill="#d6efd0"/>
<rect x="497.27" y="81.13" width="2.90" height="2.90" fill="#d6efd0"/>
<rect x="500.12" y="81.13" width="2.90" height="2.90" fill="#d2edcc"/>
<rect x="502.97" y="81.13" width="2.90" height="2.90" fill="#dbf1d6"/>
<rect x="505.83" y="81.13" width="2.90" height="2.90" fill="#f3faec"/>
<rect x="508.68" y="81.13" width="2.90" height="2.90" fill="#67c1cb"/>
<rect x="511.54" y="81.13" width="2.90" height="2.90" fill="#91d4bd"/>
<rect x="414.50" y="83.99" width="2.90" height="2.90" fill="#0b6cae"/>
<rect x="417.35" y="83.99" width="2.90" height="2.90" fill="#2484ba"/>
<rect x="420.21" y="83.99" width="2.90" height="2.90" fill="#4db2d3"/>
<rect x="423.06" y="83.99" width="2.90" height="2.90" fill="#40a4cb"/>
<rect x="425.92" y="83.99" width="2.90" height="2.90" fill="#67c1cb"/>
<rect x="428.77" y="83.99" width="2.90" height="2.90" fill="#82cfc2"/>
<rect x="431.62" y="83.99" width="2.90" height="2.90" fill="#53b6d1"/>
<rect x="434.48" y="83.99" width="2.90" height="2.90" fill="#0e6faf"/>
<rect x="437.33" y="83.99" width="2.90" height="2.90" fill="#2182b9"/>
<rect x="440.19" y="83.99" width="2.90" height="2.90" fill="#44a7cd"/>
<rect x="443.04" y="83.99" width="2.90" height="2.90" fill="#40a3cb"/>
<rect x="445.89" y="83.99" width="2.90" height="2.90" fill="#44a8cd"/>
<rect x="448.75" y="83.99" width="2.90" height="2.90" fill="#59b9cf"/>
<rect x="451.60" y="83.99" width="2.90" height="2.90" fill="#59b9cf"/>
<rect x="454.46" y="83.99" width="2.90" height="2.90" fill="#65c0cb"/>
<rect x="457.31" y="83.99" width="2.90" height="2.90" fill="#4bafd1"/>
<rect x="460.16" y="83.99" width="2.90" height="2.90" fill="#3ea1c9"/>
<rect x="463.02" y="83.99" width="2.90" height="2.90" fill="#45a9ce"/>
<rect x="465.87" y="83.99" width="2.90" height="2.90" fill="#52b5d2"/>
<rect x="468.73" y="83.99" width="2.90" height="2.90" fill="#b4e2ba"/>
<rect x="471.58" y="83.99" width="2.90" height="2.90" fill="#42a6cc"/>
<rect x="474.43" y="83.99" width="2.90" height="2.90" fill="#c8eac3"/>
<rect x="477.29" y="83.99" width="2.90" height="2.90" fill="#084081"/>
<rect x="480.14" y="83.99" width="2.90" height="2.90" fill="#6bc3c9"/>
<rect x="483.00" y="83.99" width="2.90" height="2.90" fill="#3da0c9"/>
<rect x="485.85" y="83.99" width="2.90" height="2.90" fill="#55b7d1"/>
<rect x="488.70" y="83.99" width="2.90" height="2.90" fill="#56b8d0"/>
<rect x="491.56" y="83.99" width="2.90" height="2.90" fill="#45a9ce"/>
<rect x="494.41" y="83.99" width="2.90" height="2.90" fill="#54b6d1"/>
<rect x="497.27" y="83.99" width="2.90" height="2.90" fill="#64bfcc"/>
<rect x="500.12" y="83.99" width="2.90" height="2.90" fill="#6dc4c9"/>
<rect x="502.97" y="83.99" width="2.90" height="2.90" fill="#58b9d0"/>
<rect x="505.83" y="83.99" width="2.90" height="2.90" fill="#addfb7"/>
<rect x="508.68" y="83.99" width="2.90" height="2.90" fill="#1e7fb7"/>
<rect x="511.54" y="83.99" width="2.90" height="2.90" fill="#90d4bd"/>
<rect x="414.50" y="86.84" width="2.90" height="2.90" fill="#4db2d3"/>
<rect x="417.35" y="86.84" width="2.90" height="2.90" fill="#59b9cf"/>
<rect x="420.21" y="86.84" width="2.90" height="2.90" fill="#84cfc1"/>
<rect x="423.06" y="86.84" width="2.90" height="2.90" fill="#88d1c0"/>
<rect x="425.92" y="86.84" width="2.90" height="2.90" fill="#b8e3bc"/>
<rect x="428.77" y="86.84" width="2.90" height="2.90" fill="#8ad1bf"/>
<rect x="431.62" y="86.84" width="2.90" height="2.90" fill="#87d1c0"/>
<rect x="434.48" y="86.84" width="2.90" height="2.90" fill="#2e8fc0"/>
<rect x="437.33" y="86.84" width="2.90" height="2.90" fill="#62becc"/>
<rect x="440.19" y="86.84" width="2.90" height="2.90" fill="#81cec2"/>
<rect x="443.04" y="86.84" width="2.90" height="2.90" fill="#74c8c6"/>
<rect x="445.89" y="86.84" width="2.90" height="2.90" fill="#93d5bc"/>
<rect x="448.75" y="86.84" width="2.90" height="2.90" fill="#45a9ce"/>
<rect x="451.60" y="86.84" width="2.90" height="2.90" fill="#56b7d0"/>
<rect x="454.46" y="86.84" width="2.90" height="2.90" fill="#72c7c7"/>
<rect x="457.31" y="86.84" width="2.90" height="2.90" fill="#7fcec3"/>
<rect x="460.16" y="86.84" width="2.90" height="2.90" fill="#90d4bd"/>
<rect x="463.02" y="86.84" width="2.90" height="2.90" fill="#48accf"/>
<rect x="465.87" y="86.84" width="2.90" height="2.90" fill="#5dbbce"/>
<rect x="468.73" y="86.84" width="2.90" height="2.90" fill="#d1edca"/>
<rect x="471.58" y="86.84" width="2.90" height="2.90" fill="#5cbbce"/>
<rect x="474.43" y="86.84" width="2.90" height="2.90" fill="#d4eecd"/>
<rect x="477.29" y="86.84" width="2.90" height="2.90" fill="#6bc3c9"/>
<rect x="480.14" y="86.84" width="2.90" height="2.90" fill="#084081"/>
<rect x="483.00" y="86.84" width="2.90" height="2.90" fill="#53b6d1"/>
<rect x="485.85" y="86.84" width="2.90" height="2.90" fill="#40a3ca"/>
<rect x="488.70" y="86.84" width="2.90" height="2.90" fill="#47abcf"/>
<rect x="491.56" y="86.84" width="2.90" height="2.90" fill="#8ed3be"/>
<rect x="494.41" y="86.84" width="2.90" height="2.90" fill="#7bccc4"/>
<rect x="497.27" y="86.84" width="2.90" height="2.90" fill="#6bc3c9"/>
<rect x="500.12" y="86.84" width="2.90" height="2.90" fill="#8ed3be"/>
<rect x="502.97" y="86.84" width="2.90" height="2.90" fill="#c3e8c1"/>
<rect x="505.83" y="86.84" width="2.90" height="2.90" fill="#a3dbb7"/>
<rect x="508.68" y="86.84" width="2.90" height="2.90" fill="#46aace"/>
<rect x="511.54" y="86.84" width="2.90" height="2.90" fill="#8dd3be"/>
<rect x="414.50" y="89.70" width="2.90" height="2.90" fill="#298abd"/>
<rect x="417.35" y="89.70" width="2.90" height="2.90" fill="#085fa2"/>
<rect x="420.21" y="89.70" width="2.90" height="2.90" fill="#90d4bd"/>
<rect x="423.06" y="89.70" width="2.90" height="2.90" fill="#51b5d2"/>
<rect x="425.92" y="89.70" width="2.90" height="2.90" fill="#76c9c6"/>
<rect x="428.77" y="89.70" width="2.90" height="2.90" fill="#4fb3d3"/>
<rect x="431.62" y="89.70" width="2.90" height="2.90" fill="#3092c1"/>
<rect x="434.48" y="89.70" width="2.90" height="2.90" fill="#57b8d0"/>
<rect x="437.33" y="89.70" width="2.90" height="2.90" fill="#2b8cbe"/>
<rect x="440.19" y="89.70" width="2.90" height="2.90" fill="#3a9dc7"/>
<rect x="443.04" y="89.70" width="2.90" height="2.90" fill="#3da0c9"/>
<rect x="445.89" y="89.70" width="2.90" height="2.90" fill="#86d0c0"/>
<rect x="448.75" y="89.70" width="2.90" height="2.90" fill="#4aafd1"/>
<rect x="451.60" y="89.70" width="2.90" height="2.90" fill="#4fb4d3"/>
<rect x="454.46" y="89.70" width="2.90" height="2.90" fill="#5fbdcd"/>
<rect x="457.31" y="89.70" width="2.90" height="2.90" fill="#49add0"/>
<rect x="460.16" y="89.70" width="2.90" height="2.90" fill="#3c9fc8"/>
<rect x="463.02" y="89.70" width="2.90" height="2.90" fill="#55b7d1"/>
<rect x="465.87" y="89.70" width="2.90" height="2.90" fill="#3193c2"/>
<rect x="468.73" y="89.70" width="2.90" height="2.90" fill="#b2e1b9"/>
<rect x="471.58" y="89.70" width="2.90" height="2.90" fill="#61bdcd"/>
<rect x="474.43" y="89.70" width="2.90" height="2.90" fill="#d1edcb"/>
<rect x="477.29" y="89.70" width="2.90" height="2.90" fill="#3da0c9"/>
<rect x="480.14" y="89.70" width="2.90" height="2.90" fill="#53b6d1"/>
<rect x="483.00" y="89.70" width="2.90" height="2.90" fill="#084081"/>
<rect x="485.85" y="89.70" width="2.90" height="2.90" fill="#3da0c9"/>
<rect x="488.70" y="89.70" width="2.90" height="2.90" fill="#3da0c9"/>
<rect x="491.56" y="89.70" width="2.90" height="2.90" fill="#42a5cc"/>
<rect x="494.41" y="89.70" width="2.90" height="2.90" fill="#3193c2"/>
<rect x="497.27" y="89.70" width="2.90" height="2.90" fill="#4cb1d2"/>
<rect x="500.12" y="89.70" width="2.90" height="2.90" fill="#40a3ca"/>
<rect x="502.97" y="89.70" width="2.90" height="2.90" fill="#6bc3c9"/>
<rect x="505.83" y="89.70" width="2.90" height="2.90" fill="#5fbdcd"/>
<rect x="508.68" y="89.70" width="2.90" height="2.90" fill="#3496c4"/>
<rect x="511.54" y="89.70" width="2.90" height="2.90" fill="#67c1cb"/>
<rect x="414.50" y="92.55" width="2.90" height="2.90" fill="#399bc6"/>
<rect x="417.35" y="92.55" width="2.90" height="2.90" fill="#1575b3"/>
<rect x="420.21" y="92.55" width="2.90" height="2.90" fill="#47abcf"/>
<rect x="423.06" y="92.55" width="2.90" height="2.90" fill="#48accf"/>
<rect x="425.92" y="92.55" width="2.90" height="2.90" fill="#87d0c0"/>
<rect x="428.77" y="92.55" width="2.90" height="2.90" fill="#a1dab7"/>
<rect x="431.62" y="92.55" width="2.90" height="2.90" fill="#6dc4c9"/>
<rect x="434.48" y="92.55" width="2.90" height="2.90" fill="#0e6eaf"/>
<rect x="437.33" y="92.55" width="2.90" height="2.90" fill="#2f91c0"/>
<rect x="440.19" y="92.55" width="2.90" height="2.90" fill="#389ac6"/>
<rect x="443.04" y="92.55" width="2.90" height="2.90" fill="#70c6c8"/>
<rect x="445.89" y="92.55" width="2.90" height="2.90" fill="#4db2d3"/>
<rect x="448.75" y="92.55" width="2.90" height="2.90" fill="#59b9cf"/>
<rect x="451.60" y="92.55" width="2.90" height="2.90" fill="#3395c3"/>
<rect x="454.46" y="92.55" width="2.90" height="2.90" fill="#2889bd"/>
<rect x="457.31" y="92.55" width="2.90" height="2.90" fill="#2f90c0"/>
<rect x="460.16" y="92.55" width="2.90" height="2.90" fill="#3597c4"/>
<rect x="463.02" y="92.55" width="2.90" height="2.90" fill="#78cac5"/>
<rect x="465.87" y="92.55" width="2.90" height="2.90" fill="#3496c3"/>
<rect x="468.73" y="92.55" width="2.90" height="2.90" fill="#e0f3db"/>
<rect x="471.58" y="92.55" width="2.90" height="2.90" fill="#2a8bbd"/>
<rect x="474.43" y="92.55" width="2.90" height="2.90" fill="#c5e8c2"/>
<rect x="477.29" y="92.55" width="2.90" height="2.90" fill="#55b7d1"/>
<rect x="480.14" y="92.55" width="2.90" height="2.90" fill="#40a3ca"/>
<rect x="483.00" y="92.55" width="2.90" height="2.90" fill="#3da0c9"/>
<rect x="485.85" y="92.55" width="2.90" height="2.90" fill="#084081"/>
<rect x="488.70" y="92.55" width="2.90" height="2.90" fill="#87d1c0"/>
<rect x="491.56" y="92.55" width="2.90" height="2.90" fill="#44a8cd"/>
<rect x="494.41" y="92.55" width="2.90" height="2.90" fill="#5ebcce"/>
<rect x="497.27" y="92.55" width="2.90" height="2.90" fill="#6fc5c8"/>
<rect x="500.12" y="92.55" width="2.90" height="2.90" fill="#2f90c0"/>
<rect x="502.97" y="92.55" width="2.90" height="2.90" fill="#53b6d1"/>
<rect x="505.83" y="92.55" width="2.90" height="2.90" fill="#8dd3be"/>
<rect x="508.68" y="92.55" width="2.90" height="2.90" fill="#40a3ca"/>
<rect x="511.54" y="92.55" width="2.90" height="2.90" fill="#46aace"/>
<rect x="414.50" y="95.40" width="2.90" height="2.90" fill="#1878b4"/>
<rect x="417.35" y="95.40" width="2.90" height="2.90" fill="#3a9dc7"/>
<rect x="420.21" y="95.40" width="2.90" height="2.90" fill="#2b8cbe"/>
<rect x="423.06" y="95.40" width="2.90" height="2.90" fill="#6fc5c8"/>
<rect x="425.92" y="95.40" width="2.90" height="2.90" fill="#6dc4c9"/>
<rect x="428.77" y="95.40" width="2.90" height="2.90" fill="#73c8c7"/>
<rect x="431.62" y="95.40" width="2.90" height="2.90" fill="#64bfcc"/>
<rect x="434.48" y="95.40" width="2.90" height="2.90" fill="#1171b0"/>
<rect x="437.33" y="95.40" width="2.90" height="2.90" fill="#73c8c7"/>
<rect x="440.19" y="95.40" width="2.90" height="2.90" fill="#44a8cd"/>
<rect x="443.04" y="95.40" width="2.90" height="2.90" fill="#a2dbb7"/>
<rect x="445.89" y="95.40" width="2.90" height="2.90" fill="#43a7cc"/>
<rect x="448.75" y="95.40" width="2.90" height="2.90" fill="#2384ba"/>
<rect x="451.60" y="95.40" width="2.90" height="2.90" fill="#58b8d0"/>
<rect x="454.46" y="95.40" width="2.90" height="2.90" fill="#1070b0"/>
<rect x="457.31" y="95.40" width="2.90" height="2.90" fill="#45a8cd"/>
<rect x="460.16" y="95.40" width="2.90" height="2.90" fill="#75c8c6"/>
<rect x="463.02" y="95.40" width="2.90" height="2.90" fill="#5ebcce"/>
<rect x="465.87" y="95.40" width="2.90" height="2.90" fill="#4cb1d2"/>
<rect x="468.73" y="95.40" width="2.90" height="2.90" fill="#edf8e7"/>
<rect x="471.58" y="95.40" width="2.90" height="2.90" fill="#43a7cc"/>
<rect x="474.43" y="95.40" width="2.90" height="2.90" fill="#bbe4bd"/>
<rect x="477.29" y="95.40" width="2.90" height="2.90" fill="#56b8d0"/>
<rect x="480.14" y="95.40" width="2.90" height="2.90" fill="#47abcf"/>
<rect x="483.00" y="95.40" width="2.90" height="2.90" fill="#3da0c9"/>
<rect x="485.85" y="95.40" width="2.90" height="2.90" fill="#87d1c0"/>
<rect x="488.70" y="95.40" width="2.90" height="2.90" fill="#084081"/>
<rect x="491.56" y="95.40" width="2.90" height="2.90" fill="#389bc6"/>
<rect x="494.41" y="95.40" width="2.90" height="2.90" fill="#48accf"/>
<rect x="497.27" y="95.40" width="2.90" height="2.90" fill="#7bccc4"/>
<rect x="500.12" y="95.40" width="2.90" height="2.90" fill="#3091c1"/>
<rect x="502.97" y="95.40" width="2.90" height="2.90" fill="#4fb4d3"/>
<rect x="505.83" y="95.40" width="2.90" height="2.90" fill="#94d5bc"/>
<rect x="508.68" y="95.40" width="2.90" height="2.90" fill="#3698c5"/>
<rect x="511.54" y="95.40" width="2.90" height="2.90" fill="#b8e3bc"/>
<rect x="414.50" y="98.26" width="2.90" height="2.90" fill="#4eb3d3"/>
<rect x="417.35" y="98.26" width="2.90" height="2.90" fill="#52b5d2"/>
<rect x="420.21" y="98.26" width="2.90" height="2.90" fill="#69c2ca"/>
<rect x="423.06" y="98.26" width="2.90" height="2.90" fill="#67c1cb"/>
<rect x="425.92" y="98.26" width="2.90" height="2.90" fill="#51b5d2"/>
<rect x="428.77" y="98.26" width="2.90" height="2.90" fill="#53b6d1"/>
<rect x="431.62" y="98.26" width="2.90" height="2.90" fill="#52b5d2"/>
<rect x="434.48" y="98.26" width="2.90" height="2.90" fill="#399cc7"/>
<rect x="437.33" y="98.26" width="2.90" height="2.90" fill="#98d7ba"/>
<rect x="440.19" y="98.26" width="2.90" height="2.90" fill="#41a4cb"/>
<rect x="443.04" y="98.26" width="2.90" height="2.90" fill="#6cc4c9"/>
<rect x="445.89" y="98.26" width="2.90" height="2.90" fill="#7acbc4"/>
<rect x="448.75" y="98.26" width="2.90" height="2.90" fill="#399bc6"/>
<rect x="451.60" y="98.26" width="2.90" height="2.90" fill="#4eb3d3"/>
<rect x="454.46" y="98.26" width="2.90" height="2.90" fill="#52b5d2"/>
<rect x="457.31" y="98.26" width="2.90" height="2.90" fill="#59b9cf"/>
<rect x="460.16" y="98.26" width="2.90" height="2.90" fill="#389bc6"/>
<rect x="463.02" y="98.26" width="2.90" height="2.90" fill="#97d7bb"/>
<rect x="465.87" y="98.26" width="2.90" height="2.90" fill="#75c9c6"/>
<rect x="468.73" y="98.26" width="2.90" height="2.90" fill="#eaf7e4"/>
<rect x="471.58" y="98.26" width="2.90" height="2.90" fill="#3395c3"/>
<rect x="474.43" y="98.26" width="2.90" height="2.90" fill="#c6e9c2"/>
<rect x="477.29" y="98.26" width="2.90" height="2.90" fill="#45a9ce"/>
<rect x="480.14" y="98.26" width="2.90" height="2.90" fill="#8ed3be"/>
<rect x="483.00" y="98.26" width="2.90" height="2.90" fill="#42a5cc"/>
<rect x="485.85" y="98.26" width="2.90" height="2.90" fill="#44a8cd"/>
<rect x="488.70" y="98.26" width="2.90" height="2.90" fill="#389bc6"/>
<rect x="491.56" y="98.26" width="2.90" height="2.90" fill="#084081"/>
<rect x="494.41" y="98.26" width="2.90" height="2.90" fill="#50b4d2"/>
<rect x="497.27" y="98.26" width="2.90" height="2.90" fill="#90d4bd"/>
<rect x="500.12" y="98.26" width="2.90" height="2.90" fill="#43a7cd"/>
<rect x="502.97" y="98.26" width="2.90" height="2.90" fill="#7bccc4"/>
<rect x="505.83" y="98.26" width="2.90" height="2.90" fill="#a9ddb5"/>
<rect x="508.68" y="98.26" width="2.90" height="2.90" fill="#3193c2"/>
<rect x="511.54" y="98.26" width="2.90" height="2.90" fill="#88d1c0"/>
<rect x="414.50" y="101.11" width="2.90" height="2.90" fill="#3fa3ca"/>
<rect x="417.35" y="101.11" width="2.90" height="2.90" fill="#389ac6"/>
<rect x="420.21" y="101.11" width="2.90" height="2.90" fill="#72c7c7"/>
<rect x="423.06" y="101.11" width="2.90" height="2.90" fill="#5dbcce"/>
<rect x="425.92" y="101.11" width="2.90" height="2.90" fill="#7fcdc3"/>
<rect x="428.77" y="101.11" width="2.90" height="2.90" fill="#4cb1d2"/>
<rect x="431.62" y="101.11" width="2.90" height="2.90" fill="#52b5d2"/>
<rect x="434.48" y="101.11" width="2.90" height="2.90" fill="#1878b4"/>
<rect x="437.33" y="101.11" width="2.90" height="2.90" fill="#47accf"/>
<rect x="440.19" y="101.11" width="2.90" height="2.90" fill="#76c9c6"/>
<rect x="443.04" y="101.11" width="2.90" height="2.90" fill="#3fa3ca"/>
<rect x="445.89" y="101.11" width="2.90" height="2.90" fill="#79cbc5"/>
<rect x="448.75" y="101.11" width="2.90" height="2.90" fill="#70c6c8"/>
<rect x="451.60" y="101.11" width="2.90" height="2.90" fill="#9fdab8"/>
<rect x="454.46" y="101.11" width="2.90" height="2.90" fill="#68c1ca"/>
<rect x="457.31" y="101.11" width="2.90" height="2.90" fill="#7dcdc3"/>
<rect x="460.16" y="101.11" width="2.90" height="2.90" fill="#4aaed0"/>
<rect x="463.02" y="101.11" width="2.90" height="2.90" fill="#aedfb8"/>
<rect x="465.87" y="101.11" width="2.90" height="2.90" fill="#8dd3be"/>
<rect x="468.73" y="101.11" width="2.90" height="2.90" fill="#ecf8e6"/>
<rect x="471.58" y="101.11" width="2.90" height="2.90" fill="#2889bd"/>
<rect x="474.43" y="101.11" width="2.90" height="2.90" fill="#d6efd0"/>
<rect x="477.29" y="101.11" width="2.90" height="2.90" fill="#54b6d1"/>
<rect x="480.14" y="101.11" width="2.90" height="2.90" fill="#7bccc4"/>
<rect x="483.00" y="101.11" width="2.90" height="2.90" fill="#3193c2"/>
<rect x="485.85" y="101.11" width="2.90" height="2.90" fill="#5ebcce"/>
<rect x="488.70" y="101.11" width="2.90" height="2.90" fill="#48accf"/>
<rect x="491.56" y="101.11" width="2.90" height="2.90" fill="#50b4d2"/>
<rect x="494.41" y="101.11" width="2.90" height="2.90" fill="#084081"/>
<rect x="497.27" y="101.11" width="2.90" height="2.90" fill="#a2dbb7"/>
<rect x="500.12" y="101.11" width="2.90" height="2.90" fill="#70c6c8"/>
<rect x="502.97" y="101.11" width="2.90" height="2.90" fill="#69c2ca"/>
<rect x="505.83" y="101.11" width="2.90" height="2.90" fill="#addfb7"/>
<rect x="508.68" y="101.11" width="2.90" height="2.90" fill="#74c8c6"/>
<rect x="511.54" y="101.11" width="2.90" height="2.90" fill="#a8ddb5"/>
<rect x="414.50" y="103.97" width="2.90" height="2.90" fill="#389ac6"/>
<rect x="417.35" y="103.97" width="2.90" height="2.90" fill="#5cbbce"/>
<rect x="420.21" y="103.97" width="2.90" height="2.90" fill="#7acbc4"/>
<rect x="423.06" y="103.97" width="2.90" height="2.90" fill="#b3e1ba"/>
<rect x="425.92" y="103.97" width="2.90" height="2.90" fill="#79cbc5"/>
<rect x="428.77" y="103.97" width="2.90" height="2.90" fill="#4fb4d3"/>
<rect x="431.62" y="103.97" width="2.90" height="2.90" fill="#54b7d1"/>
<rect x="434.48" y="103.97" width="2.90" height="2.90" fill="#61bdcd"/>
<rect x="437.33" y="103.97" width="2.90" height="2.90" fill="#82cfc2"/>
<rect x="440.19" y="103.97" width="2.90" height="2.90" fill="#76c9c6"/>
<rect x="443.04" y="103.97" width="2.90" height="2.90" fill="#abdeb6"/>
<rect x="445.89" y="103.97" width="2.90" height="2.90" fill="#c4e8c1"/>
<rect x="448.75" y="103.97" width="2.90" height="2.90" fill="#4db2d3"/>
<rect x="451.60" y="103.97" width="2.90" height="2.90" fill="#7acbc4"/>
<rect x="454.46" y="103.97" width="2.90" height="2.90" fill="#4db2d2"/>
<rect x="457.31" y="103.97" width="2.90" height="2.90" fill="#69c2ca"/>
<rect x="460.16" y="103.97" width="2.90" height="2.90" fill="#97d7bb"/>
<rect x="463.02" y="103.97" width="2.90" height="2.90" fill="#7acbc4"/>
<rect x="465.87" y="103.97" width="2.90" height="2.90" fill="#bde5bf"/>
<rect x="468.73" y="103.97" width="2.90" height="2.90" fill="#c3e7c1"/>
<rect x="471.58" y="103.97" width="2.90" height="2.90" fill="#6ec5c8"/>
<rect x="474.43" y="103.97" width="2.90" height="2.90" fill="#d6efd0"/>
<rect x="477.29" y="103.97" width="2.90" height="2.90" fill="#64bfcc"/>
<rect x="480.14" y="103.97" width="2.90" height="2.90" fill="#6bc3c9"/>
<rect x="483.00" y="103.97" width="2.90" height="2.90" fill="#4cb1d2"/>
<rect x="485.85" y="103.97" width="2.90" height="2.90" fill="#6fc5c8"/>
<rect x="488.70" y="103.97" width="2.90" height="2.90" fill="#7bccc4"/>
<rect x="491.56" y="103.97" width="2.90" height="2.90" fill="#90d4bd"/>
<rect x="494.41" y="103.97" width="2.90" height="2.90" fill="#a2dbb7"/>
<rect x="497.27" y="103.97" width="2.90" height="2.90" fill="#084081"/>
<rect x="500.12" y="103.97" width="2.90" height="2.90" fill="#93d5bc"/>
<rect x="502.97" y="103.97" width="2.90" height="2.90" fill="#95d6bb"/>
<rect x="505.83" y="103.97" width="2.90" height="2.90" fill="#a8ddb5"/>
<rect x="508.68" y="103.97" width="2.90" height="2.90" fill="#4db2d2"/>
<rect x="511.54" y="103.97" width="2.90" height="2.90" fill="#abdeb6"/>
<rect x="414.50" y="106.82" width="2.90" height="2.90" fill="#0865a9"/>
<rect x="417.35" y="106.82" width="2.90" height="2.90" fill="#56b7d0"/>
<rect x="420.21" y="106.82" width="2.90" height="2.90" fill="#45a9cd"/>
<rect x="423.06" y="106.82" width="2.90" height="2.90" fill="#60bdcd"/>
<rect x="425.92" y="106.82" width="2.90" height="2.90" fill="#8fd3bd"/>
<rect x="428.77" y="106.82" width="2.90" height="2.90" fill="#94d5bc"/>
<rect x="431.62" y="106.82" width="2.90" height="2.90" fill="#48add0"/>
<rect x="434.48" y="106.82" width="2.90" height="2.90" fill="#389ac6"/>
<rect x="437.33" y="106.82" width="2.90" height="2.90" fill="#64bfcc"/>
<rect x="440.19" y="106.82" width="2.90" height="2.90" fill="#7bccc4"/>
<rect x="443.04" y="106.82" width="2.90" height="2.90" fill="#45a9ce"/>
<rect x="445.89" y="106.82" width="2.90" height="2.90" fill="#7fcdc3"/>
<rect x="448.75" y="106.82" width="2.90" height="2.90" fill="#8bd2bf"/>
<rect x="451.60" y="106.82" width="2.90" height="2.90" fill="#3496c3"/>
<rect x="454.46" y="106.82" width="2.90" height="2.90" fill="#58b8d0"/>
<rect x="457.31" y="106.82" width="2.90" height="2.90" fill="#56b8d0"/>
<rect x="460.16" y="106.82" width="2.90" height="2.90" fill="#66c0cb"/>
<rect x="463.02" y="106.82" width="2.90" height="2.90" fill="#7bccc4"/>
<rect x="465.87" y="106.82" width="2.90" height="2.90" fill="#89d1bf"/>
<rect x="468.73" y="106.82" width="2.90" height="2.90" fill="#f1faeb"/>
<rect x="471.58" y="106.82" width="2.90" height="2.90" fill="#56b7d0"/>
<rect x="474.43" y="106.82" width="2.90" height="2.90" fill="#d2edcc"/>
<rect x="477.29" y="106.82" width="2.90" height="2.90" fill="#6dc4c9"/>
<rect x="480.14" y="106.82" width="2.90" height="2.90" fill="#8ed3be"/>
<rect x="483.00" y="106.82" width="2.90" height="2.90" fill="#40a3ca"/>
<rect x="485.85" y="106.82" width="2.90" height="2.90" fill="#2f90c0"/>
<rect x="488.70" y="106.82" width="2.90" height="2.90" fill="#3091c1"/>
<rect x="491.56" y="106.82" width="2.90" height="2.90" fill="#43a7cd"/>
<rect x="494.41" y="106.82" width="2.90" height="2.90" fill="#70c6c8"/>
<rect x="497.27" y="106.82" width="2.90" height="2.90" fill="#93d5bc"/>
<rect x="500.12" y="106.82" width="2.90" height="2.90" fill="#084081"/>
<rect x="502.97" y="106.82" width="2.90" height="2.90" fill="#abdeb6"/>
<rect x="505.83" y="106.82" width="2.90" height="2.90" fill="#90d4bd"/>
<rect x="508.68" y="106.82" width="2.90" height="2.90" fill="#46aace"/>
<rect x="511.54" y="106.82" width="2.90" height="2.90" fill="#a4dcb6"/>
<rect x="414.50" y="109.67" width="2.90" height="2.90" fill="#90d4bd"/>
<rect x="417.35" y="109.67" width="2.90" height="2.90" fill="#6dc4c9"/>
<rect x="420.21" y="109.67" width="2.90" height="2.90" fill="#86d0c0"/>
<rect x="423.06" y="109.67" width="2.90" height="2.90" fill="#61bdcd"/>
<rect x="425.92" y="109.67" width="2.90" height="2.90" fill="#95d6bb"/>
<rect x="428.77" y="109.67" width="2.90" height="2.90" fill="#84d0c1"/>
<rect x="431.62" y="109.67" width="2.90" height="2.90" fill="#7bccc4"/>
<rect x="434.48" y="109.67" width="2.90" height="2.90" fill="#2485ba"/>
<rect x="437.33" y="109.67" width="2.90" height="2.90" fill="#7fcdc3"/>
<rect x="440.19" y="109.67" width="2.90" height="2.90" fill="#8bd2bf"/>
<rect x="443.04" y="109.67" width="2.90" height="2.90" fill="#8bd2bf"/>
<rect x="445.89" y="109.67" width="2.90" height="2.90" fill="#71c6c7"/>
<rect x="448.75" y="109.67" width="2.90" height="2.90" fill="#86d0c0"/>
<rect x="451.60" y="109.67" width="2.90" height="2.90" fill="#8fd4bd"/>
<rect x="454.46" y="109.67" width="2.90" height="2.90" fill="#79cbc5"/>
<rect x="457.31" y="109.67" width="2.90" height="2.90" fill="#89d1bf"/>
<rect x="460.16" y="109.67" width="2.90" height="2.90" fill="#6fc5c8"/>
<rect x="463.02" y="109.67" width="2.90" height="2.90" fill="#57b8d0"/>
<rect x="465.87" y="109.67" width="2.90" height="2.90" fill="#67c1cb"/>
<rect x="468.73" y="109.67" width="2.90" height="2.90" fill="#70c6c8"/>
<rect x="471.58" y="109.67" width="2.90" height="2.90" fill="#3c9fc8"/>
<rect x="474.43" y="109.67" width="2.90" height="2.90" fill="#dbf1d6"/>
<rect x="477.29" y="109.67" width="2.90" height="2.90" fill="#58b9d0"/>
<rect x="480.14" y="109.67" width="2.90" height="2.90" fill="#c3e8c1"/>
<rect x="483.00" y="109.67" width="2.90" height="2.90" fill="#6bc3c9"/>
<rect x="485.85" y="109.67" width="2.90" height="2.90" fill="#53b6d1"/>
<rect x="488.70" y="109.67" width="2.90" height="2.90" fill="#4fb4d3"/>
<rect x="491.56" y="109.67" width="2.90" height="2.90" fill="#7bccc4"/>
<rect x="494.41" y="109.67" width="2.90" height="2.90" fill="#69c2ca"/>
<rect x="497.27" y="109.67" width="2.90" height="2.90" fill="#95d6bb"/>
<rect x="500.12" y="109.67" width="2.90" height="2.90" fill="#abdeb6"/>
<rect x="502.97" y="109.67" width="2.90" height="2.90" fill="#084081"/>
<rect x="505.83" y="109.67" width="2.90" height="2.90" fill="#a6dcb6"/>
<rect x="508.68" y="109.67" width="2.90" height="2.90" fill="#1a7ab5"/>
<rect x="511.54" y="109.67" width="2.90" height="2.90" fill="#c9eac4"/>
<rect x="414.50" y="112.53" width="2.90" height="2.90" fill="#399bc6"/>
<rect x="417.35" y="112.53" width="2.90" height="2.90" fill="#7bccc4"/>
<rect x="420.21" y="112.53" width="2.90" height="2.90" fill="#6ec5c8"/>
<rect x="423.06" y="112.53" width="2.90" height="2.90" fill="#91d4bd"/>
<rect x="425.92" y="112.53" width="2.90" height="2.90" fill="#aadeb6"/>
<rect x="428.77" y="112.53" width="2.90" height="2.90" fill="#b0e0b9"/>
<rect x="431.62" y="112.53" width="2.90" height="2.90" fill="#b9e4bc"/>
<rect x="434.48" y="112.53" width="2.90" height="2.90" fill="#3ea1ca"/>
<rect x="437.33" y="112.53" width="2.90" height="2.90" fill="#9ad8ba"/>
<rect x="440.19" y="112.53" width="2.90" height="2.90" fill="#cbebc5"/>
<rect x="443.04" y="112.53" width="2.90" height="2.90" fill="#a9deb6"/>
<rect x="445.89" y="112.53" width="2.90" height="2.90" fill="#99d7ba"/>
<rect x="448.75" y="112.53" width="2.90" height="2.90" fill="#77cac5"/>
<rect x="451.60" y="112.53" width="2.90" height="2.90" fill="#c1e7c0"/>
<rect x="454.46" y="112.53" width="2.90" height="2.90" fill="#58b9d0"/>
<rect x="457.31" y="112.53" width="2.90" height="2.90" fill="#a3dbb7"/>
<rect x="460.16" y="112.53" width="2.90" height="2.90" fill="#9fdab8"/>
<rect x="463.02" y="112.53" width="2.90" height="2.90" fill="#b3e1ba"/>
<rect x="465.87" y="112.53" width="2.90" height="2.90" fill="#a9ddb5"/>
<rect x="468.73" y="112.53" width="2.90" height="2.90" fill="#ecf8e6"/>
<rect x="471.58" y="112.53" width="2.90" height="2.90" fill="#a4dbb6"/>
<rect x="474.43" y="112.53" width="2.90" height="2.90" fill="#f3faec"/>
<rect x="477.29" y="112.53" width="2.90" height="2.90" fill="#addfb7"/>
<rect x="480.14" y="112.53" width="2.90" height="2.90" fill="#a3dbb7"/>
<rect x="483.00" y="112.53" width="2.90" height="2.90" fill="#5fbdcd"/>
<rect x="485.85" y="112.53" width="2.90" height="2.90" fill="#8dd3be"/>
<rect x="488.70" y="112.53" width="2.90" height="2.90" fill="#94d5bc"/>
<rect x="491.56" y="112.53" width="2.90" height="2.90" fill="#a9ddb5"/>
<rect x="494.41" y="112.53" width="2.90" height="2.90" fill="#addfb7"/>
<rect x="497.27" y="112.53" width="2.90" height="2.90" fill="#a8ddb5"/>
<rect x="500.12" y="112.53" width="2.90" height="2.90" fill="#90d4bd"/>
<rect x="502.97" y="112.53" width="2.90" height="2.90" fill="#a6dcb6"/>
<rect x="505.83" y="112.53" width="2.90" height="2.90" fill="#084081"/>
<rect x="508.68" y="112.53" width="2.90" height="2.90" fill="#aadeb6"/>
<rect x="511.54" y="112.53" width="2.90" height="2.90" fill="#b2e1b9"/>
<rect x="414.50" y="115.38" width="2.90" height="2.90" fill="#085fa2"/>
<rect x="417.35" y="115.38" width="2.90" height="2.90" fill="#085fa2"/>
<rect x="420.21" y="115.38" width="2.90" height="2.90" fill="#3fa2ca"/>
<rect x="423.06" y="115.38" width="2.90" height="2.90" fill="#71c6c7"/>
<rect x="425.92" y="115.38" width="2.90" height="2.90" fill="#59b9cf"/>
<rect x="428.77" y="115.38" width="2.90" height="2.90" fill="#7ecdc3"/>
<rect x="431.62" y="115.38" width="2.90" height="2.90" fill="#3395c3"/>
<rect x="434.48" y="115.38" width="2.90" height="2.90" fill="#085fa2"/>
<rect x="437.33" y="115.38" width="2.90" height="2.90" fill="#68c1ca"/>
<rect x="440.19" y="115.38" width="2.90" height="2.90" fill="#53b6d1"/>
<rect x="443.04" y="115.38" width="2.90" height="2.90" fill="#40a3cb"/>
<rect x="445.89" y="115.38" width="2.90" height="2.90" fill="#1979b5"/>
<rect x="448.75" y="115.38" width="2.90" height="2.90" fill="#3b9ec7"/>
<rect x="451.60" y="115.38" width="2.90" height="2.90" fill="#40a3ca"/>
<rect x="454.46" y="115.38" width="2.90" height="2.90" fill="#4cb1d2"/>
<rect x="457.31" y="115.38" width="2.90" height="2.90" fill="#2282b9"/>
<rect x="460.16" y="115.38" width="2.90" height="2.90" fill="#2b8cbe"/>
<rect x="463.02" y="115.38" width="2.90" height="2.90" fill="#65c0cb"/>
<rect x="465.87" y="115.38" width="2.90" height="2.90" fill="#389bc6"/>
<rect x="468.73" y="115.38" width="2.90" height="2.90" fill="#bee6bf"/>
<rect x="471.58" y="115.38" width="2.90" height="2.90" fill="#2b8cbe"/>
<rect x="474.43" y="115.38" width="2.90" height="2.90" fill="#67c1cb"/>
<rect x="477.29" y="115.38" width="2.90" height="2.90" fill="#1e7fb7"/>
<rect x="480.14" y="115.38" width="2.90" height="2.90" fill="#46aace"/>
<rect x="483.00" y="115.38" width="2.90" height="2.90" fill="#3496c4"/>
<rect x="485.85" y="115.38" width="2.90" height="2.90" fill="#40a3ca"/>
<rect x="488.70" y="115.38" width="2.90" height="2.90" fill="#3698c5"/>
<rect x="491.56" y="115.38" width="2.90" height="2.90" fill="#3193c2"/>
<rect x="494.41" y="115.38" width="2.90" height="2.90" fill="#74c8c6"/>
<rect x="497.27" y="115.38" width="2.90" height="2.90" fill="#4db2d2"/>
<rect x="500.12" y="115.38" width="2.90" height="2.90" fill="#46aace"/>
<rect x="502.97" y="115.38" width="2.90" height="2.90" fill="#1a7ab5"/>
<rect x="505.83" y="115.38" width="2.90" height="2.90" fill="#aadeb6"/>
<rect x="508.68" y="115.38" width="2.90" height="2.90" fill="#084081"/>
<rect x="511.54" y="115.38" width="2.90" height="2.90" fill="#8ad2bf"/>
<rect x="414.50" y="118.24" width="2.90" height="2.90" fill="#72c7c7"/>
<rect x="417.35" y="118.24" width="2.90" height="2.90" fill="#73c8c7"/>
<rect x="420.21" y="118.24" width="2.90" height="2.90" fill="#6bc3c9"/>
<rect x="423.06" y="118.24" width="2.90" height="2.90" fill="#92d5bc"/>
<rect x="425.92" y="118.24" width="2.90" height="2.90" fill="#7ecdc3"/>
<rect x="428.77" y="118.24" width="2.90" height="2.90" fill="#ceecc7"/>
<rect x="431.62" y="118.24" width="2.90" height="2.90" fill="#8dd3be"/>
<rect x="434.48" y="118.24" width="2.90" height="2.90" fill="#86d0c0"/>
<rect x="437.33" y="118.24" width="2.90" height="2.90" fill="#9cd9b9"/>
<rect x="440.19" y="118.24" width="2.90" height="2.90" fill="#b9e4bd"/>
<rect x="443.04" y="118.24" width="2.90" height="2.90" fill="#90d4bd"/>
<rect x="445.89" y="118.24" width="2.90" height="2.90" fill="#bbe4bd"/>
<rect x="448.75" y="118.24" width="2.90" height="2.90" fill="#b2e1b9"/>
<rect x="451.60" y="118.24" width="2.90" height="2.90" fill="#57b8d0"/>
<rect x="454.46" y="118.24" width="2.90" height="2.90" fill="#9bd8b9"/>
<rect x="457.31" y="118.24" width="2.90" height="2.90" fill="#bfe6bf"/>
<rect x="460.16" y="118.24" width="2.90" height="2.90" fill="#b1e0b9"/>
<rect x="463.02" y="118.24" width="2.90" height="2.90" fill="#b1e0b9"/>
<rect x="465.87" y="118.24" width="2.90" height="2.90" fill="#c0e6c0"/>
<rect x="468.73" y="118.24" width="2.90" height="2.90" fill="#f4fbed"/>
<rect x="471.58" y="118.24" width="2.90" height="2.90" fill="#71c7c7"/>
<rect x="474.43" y="118.24" width="2.90" height="2.90" fill="#91d4bd"/>
<rect x="477.29" y="118.24" width="2.90" height="2.90" fill="#90d4bd"/>
<rect x="480.14" y="118.24" width="2.90" height="2.90" fill="#8dd3be"/>
<rect x="483.00" y="118.24" width="2.90" height="2.90" fill="#67c1cb"/>
<rect x="485.85" y="118.24" width="2.90" height="2.90" fill="#46aace"/>
<rect x="488.70" y="118.24" width="2.90" height="2.90" fill="#b8e3bc"/>
<rect x="491.56" y="118.24" width="2.90" height="2.90" fill="#88d1c0"/>
<rect x="494.41" y="118.24" width="2.90" height="2.90" fill="#a8ddb5"/>
<rect x="497.27" y="118.24" width="2.90" height="2.90" fill="#abdeb6"/>
<rect x="500.12" y="118.24" width="2.90" height="2.90" fill="#a4dcb6"/>
<rect x="502.97" y="118.24" width="2.90" height="2.90" fill="#c9eac4"/>
<rect x="505.83" y="118.24" width="2.90" height="2.90" fill="#b2e1b9"/>
<rect x="508.68" y="118.24" width="2.90" height="2.90" fill="#8ad2bf"/>
<rect x="511.54" y="118.24" width="2.90" height="2.90" fill="#084081"/>
</g>
<text transform="matrix(1 0.0005 0 1 414.60 23.93)" font-size="3.15" text-anchor="end">0_topic_modeling_influence</text>
<text transform="translate(414.43,122.80) rotate(89.97)" font-size="3.07">0_topic_modeling_influence</text>
<text transform="matrix(1 0.0005 0 1 414.60 29.64)" font-size="3.15" text-anchor="end">2_language_chatgpt_artificial</text>
<text transform="translate(420.13,122.80) rotate(89.97)" font-size="3.07">2_language_chatgpt_artificial</text>
<text transform="matrix(1 0.0005 0 1 414.60 35.34)" font-size="3.15" text-anchor="end">4_causal_inference_bayesian</text>
<text transform="translate(425.84,122.80) rotate(89.97)" font-size="3.07">4_causal_inference_bayesian</text>
<text transform="matrix(1 0.0005 0 1 414.60 41.05)" font-size="3.15" text-anchor="end">6_sentiment_citation_analysis</text>
<text transform="translate(431.55,122.80) rotate(89.97)" font-size="3.07">6_sentiment_citation_analysis</text>
<text transform="matrix(1 0.0005 0 1 414.60 46.76)" font-size="3.15" text-anchor="end">8_bibliographic_disambiguat...</text>
<text transform="translate(437.26,122.80) rotate(89.97)" font-size="3.07">8_bibliographic_disambiguat...</text>
<text transform="matrix(1 0.0005 0 1 414.60 52.47)" font-size="3.15" text-anchor="end">10_principal_component_heur...</text>
<text transform="translate(442.97,122.80) rotate(89.97)" font-size="3.07">10_principal_component_heur...</text>
<text transform="matrix(1 0.0005 0 1 414.60 58.17)" font-size="3.15" text-anchor="end">12_count_citation_prediction</text>
<text transform="translate(448.68,122.80) rotate(89.97)" font-size="3.07">12_count_citation_prediction</text>
<text transform="matrix(1 0.0005 0 1 414.60 63.88)" font-size="3.15" text-anchor="end">14_machine_impact_peer</text>
<text transform="translate(454.38,122.80) rotate(89.97)" font-size="3.07">14_machine_impact_peer</text>
<text transform="matrix(1 0.0005 0 1 414.60 69.59)" font-size="3.15" text-anchor="end">16_business_management_soci...</text>
<text transform="translate(460.09,122.80) rotate(89.97)" font-size="3.07">16_business_management_soci...</text>
<text transform="matrix(1 0.0005 0 1 414.60 75.30)" font-size="3.15" text-anchor="end">18_intelligence_artificial_...</text>
<text transform="translate(465.80,122.80) rotate(89.97)" font-size="3.07">18_intelligence_artificial_...</text>
<text transform="matrix(1 0.0005 0 1 414.60 81.01)" font-size="3.15" text-anchor="end">20_neural_network_categoris...</text>
<text transform="translate(471.51,122.80) rotate(89.97)" font-size="3.07">20_neural_network_categoris...</text>
<text transform="matrix(1 0.0005 0 1 414.60 86.72)" font-size="3.15" text-anchor="end">22_robot_safety_disorder</text>
<text transform="translate(477.22,122.80) rotate(89.97)" font-size="3.07">22_robot_safety_disorder</text>
<text transform="matrix(1 0.0005 0 1 414.60 92.42)" font-size="3.15" text-anchor="end">24_evaluation_kmeans_english</text>
<text transform="translate(482.92,122.80) rotate(89.97)" font-size="3.07">24_evaluation_kmeans_english</text>
<text transform="matrix(1 0.0005 0 1 414.60 98.13)" font-size="3.15" text-anchor="end">26_analytics_modeling_topic</text>
<text transform="translate(488.63,122.80) rotate(89.97)" font-size="3.07">26_analytics_modeling_topic</text>
<text transform="matrix(1 0.0005 0 1 414.60 103.84)" font-size="3.15" text-anchor="end">28_blockchain_thing_internet</text>
<text transform="translate(494.34,122.80) rotate(89.97)" font-size="3.07">28_blockchain_thing_internet</text>
<text transform="matrix(1 0.0005 0 1 414.60 109.55)" font-size="3.15" text-anchor="end">30_recommender_system_citat...</text>
<text transform="translate(500.05,122.80) rotate(89.97)" font-size="3.07">30_recommender_system_citat...</text>
<text transform="matrix(1 0.0005 0 1 414.60 115.26)" font-size="3.15" text-anchor="end">32_flipped_active_student</text>
<text transform="translate(505.75,122.80) rotate(89.97)" font-size="3.07">32_flipped_active_student</text>
<text transform="matrix(1 0.0005 0 1 414.60 120.96)" font-size="3.15" text-anchor="end">34_svm_evaluation_normaliza...</text>
<text transform="translate(511.46,122.80) rotate(89.97)" font-size="3.07">34_svm_evaluation_normaliza...</text>
<defs><linearGradient id="cb" x1="0" y1="1" x2="0" y2="0">
<stop offset="0.000" stop-color="rgb(247, 252, 240)"/>
<stop offset="0.125" stop-color="rgb(224, 243, 219)"/>
<stop offset="0.250" stop-color="rgb(204, 235, 197)"/>
<stop offset="0.375" stop-color="rgb(168, 221, 181)"/>
<stop offset="0.500" stop-color="rgb(123, 204, 196)"/>
<stop offset="0.625" stop-color="rgb(78, 179, 211)"/>
<stop offset="0.750" stop-color="rgb(43, 140, 190)"/>
<stop offset="0.875" stop-color="rgb(8, 104, 172)"/>
<stop offset="1.000" stop-color="rgb(8, 64, 129)"/>
</linearGradient></defs>
<rect x="518.9" y="9.5" width="6.8" height="127.1" fill="url(#cb)"/>
<text transform="matrix(1 0.0005 0 1 518.90 7.20)" font-size="3.63">Similarity Score</text>
<text transform="matrix(1 0.0005 0 1 526.60 10.70)" font-size="3.4">1</text>
<text transform="matrix(1 0.0005 0 1 526.60 28.30)" font-size="3.4">0.95</text>
<text transform="matrix(1 0.0005 0 1 526.60 45.90)" font-size="3.4">0.9</text>
<text transform="matrix(1 0.0005 0 1 526.60 63.50)" font-size="3.4">0.85</text>
<text transform="matrix(1 0.0005 0 1 526.60 81.10)" font-size="3.4">0.8</text>
<text transform="matrix(1 0.0005 0 1 526.60 98.70)" font-size="3.4">0.75</text>
<text transform="matrix(1 0.0005 0 1 526.60 116.30)" font-size="3.4">0.7</text>
<text transform="matrix(1 0.0005 0 1 526.60 133.90)" font-size="3.4">0.65</text>
<text class="cap" x="456.1" y="185.6" text-anchor="middle">(b)</text>
<g id="pc">
<text transform="matrix(1 0.0005 0 1 60.75 206.80)" font-size="5.85" text-anchor="middle">Topic 0</text>
<line x1="37.15" y1="208.9" x2="37.15" y2="253.9" stroke="#e8ecf3" stroke-width="0.35"/>
<text transform="matrix(1 0.0005 0 1 37.15 258.20)" font-size="4.4" text-anchor="middle">0</text>
<line x1="52.22" y1="208.9" x2="52.22" y2="253.9" stroke="#e8ecf3" stroke-width="0.35"/>
<text transform="matrix(1 0.0005 0 1 52.22 258.20)" font-size="4.4" text-anchor="middle">0.02</text>
<line x1="67.29" y1="208.9" x2="67.29" y2="253.9" stroke="#e8ecf3" stroke-width="0.35"/>
<text transform="matrix(1 0.0005 0 1 67.29 258.20)" font-size="4.4" text-anchor="middle">0.04</text>
<line x1="82.36" y1="208.9" x2="82.36" y2="253.9" stroke="#e8ecf3" stroke-width="0.35"/>
<text transform="matrix(1 0.0005 0 1 82.36 258.20)" font-size="4.4" text-anchor="middle">0.06</text>
<rect x="37.15" y="210.10" width="43.70" height="6.4" fill="#D55E00"/>
<text transform="matrix(1 0.0005 0 1 33.95 214.70)" font-size="4.5" text-anchor="end">topic</text>
<rect x="37.15" y="219.18" width="27.40" height="6.4" fill="#D55E00"/>
<text transform="matrix(1 0.0005 0 1 33.95 223.78)" font-size="4.5" text-anchor="end">modeling</text>
<rect x="37.15" y="228.26" width="20.54" height="6.4" fill="#D55E00"/>
<text transform="matrix(1 0.0005 0 1 33.95 232.86)" font-size="4.5" text-anchor="end">influence</text>
<rect x="37.15" y="237.34" width="18.79" height="6.4" fill="#D55E00"/>
<text transform="matrix(1 0.0005 0 1 33.95 241.94)" font-size="4.5" text-anchor="end">analysis</text>
<rect x="37.15" y="246.42" width="17.79" height="6.4" fill="#D55E00"/>
<text transform="matrix(1 0.0005 0 1 33.95 251.02)" font-size="4.5" text-anchor="end">text</text>
<text transform="matrix(1 0.0005 0 1 133.47 206.80)" font-size="5.85" text-anchor="middle">Topic 1</text>
<line x1="109.87" y1="208.9" x2="109.87" y2="253.9" stroke="#e8ecf3" stroke-width="0.35"/>
<text transform="matrix(1 0.0005 0 1 109.87 258.20)" font-size="4.4" text-anchor="middle">0</text>
<line x1="122.18" y1="208.9" x2="122.18" y2="253.9" stroke="#e8ecf3" stroke-width="0.35"/>
<text transform="matrix(1 0.0005 0 1 122.18 258.20)" font-size="4.4" text-anchor="middle">0.02</text>
<line x1="134.49" y1="208.9" x2="134.49" y2="253.9" stroke="#e8ecf3" stroke-width="0.35"/>
<text transform="matrix(1 0.0005 0 1 134.49 258.20)" font-size="4.4" text-anchor="middle">0.04</text>
<line x1="146.80" y1="208.9" x2="146.80" y2="253.9" stroke="#e8ecf3" stroke-width="0.35"/>
<text transform="matrix(1 0.0005 0 1 146.80 258.20)" font-size="4.4" text-anchor="middle">0.06</text>
<rect x="109.87" y="210.10" width="43.70" height="6.4" fill="#0072B2"/>
<text transform="matrix(1 0.0005 0 1 106.67 214.70)" font-size="4.5" text-anchor="end">altmetrics</text>
<rect x="109.87" y="219.18" width="27.97" height="6.4" fill="#0072B2"/>
<text transform="matrix(1 0.0005 0 1 106.67 223.78)" font-size="4.5" text-anchor="end">twitter</text>
<rect x="109.87" y="228.26" width="27.09" height="6.4" fill="#0072B2"/>
<text transform="matrix(1 0.0005 0 1 106.67 232.86)" font-size="4.5" text-anchor="end">sentiment</text>
<rect x="109.87" y="237.34" width="22.16" height="6.4" fill="#0072B2"/>
<text transform="matrix(1 0.0005 0 1 106.67 241.94)" font-size="4.5" text-anchor="end">social</text>
<rect x="109.87" y="246.42" width="20.98" height="6.4" fill="#0072B2"/>
<text transform="matrix(1 0.0005 0 1 106.67 251.02)" font-size="4.5" text-anchor="end">regression</text>
<text transform="matrix(1 0.0005 0 1 206.19 206.80)" font-size="5.85" text-anchor="middle">Topic 2</text>
<line x1="182.59" y1="208.9" x2="182.59" y2="253.9" stroke="#e8ecf3" stroke-width="0.35"/>
<text transform="matrix(1 0.0005 0 1 182.59 258.20)" font-size="4.4" text-anchor="middle">0</text>
<line x1="194.73" y1="208.9" x2="194.73" y2="253.9" stroke="#e8ecf3" stroke-width="0.35"/>
<text transform="matrix(1 0.0005 0 1 194.73 258.20)" font-size="4.4" text-anchor="middle">0.02</text>
<line x1="206.87" y1="208.9" x2="206.87" y2="253.9" stroke="#e8ecf3" stroke-width="0.35"/>
<text transform="matrix(1 0.0005 0 1 206.87 258.20)" font-size="4.4" text-anchor="middle">0.04</text>
<line x1="219.01" y1="208.9" x2="219.01" y2="253.9" stroke="#e8ecf3" stroke-width="0.35"/>
<text transform="matrix(1 0.0005 0 1 219.01 258.20)" font-size="4.4" text-anchor="middle">0.06</text>
<rect x="182.59" y="210.10" width="43.70" height="6.4" fill="#CC79A7"/>
<text transform="matrix(1 0.0005 0 1 179.39 214.70)" font-size="4.5" text-anchor="end">language</text>
<rect x="182.59" y="219.18" width="41.08" height="6.4" fill="#CC79A7"/>
<text transform="matrix(1 0.0005 0 1 179.39 223.78)" font-size="4.5" text-anchor="end">chatgpt</text>
<rect x="182.59" y="228.26" width="27.40" height="6.4" fill="#CC79A7"/>
<text transform="matrix(1 0.0005 0 1 179.39 232.86)" font-size="4.5" text-anchor="end">artificial</text>
<rect x="182.59" y="237.34" width="27.09" height="6.4" fill="#CC79A7"/>
<text transform="matrix(1 0.0005 0 1 179.39 241.94)" font-size="4.5" text-anchor="end">chatbot</text>
<rect x="182.59" y="246.42" width="26.79" height="6.4" fill="#CC79A7"/>
<text transform="matrix(1 0.0005 0 1 179.39 251.02)" font-size="4.5" text-anchor="end">intelligence</text>
<text transform="matrix(1 0.0005 0 1 278.91 206.80)" font-size="5.85" text-anchor="middle">Topic 3</text>
<line x1="255.31" y1="208.9" x2="255.31" y2="253.9" stroke="#e8ecf3" stroke-width="0.35"/>
<text transform="matrix(1 0.0005 0 1 255.31 258.20)" font-size="4.4" text-anchor="middle">0</text>
<line x1="270.54" y1="208.9" x2="270.54" y2="253.9" stroke="#e8ecf3" stroke-width="0.35"/>
<text transform="matrix(1 0.0005 0 1 270.54 258.20)" font-size="4.4" text-anchor="middle">0.05</text>
<line x1="285.76" y1="208.9" x2="285.76" y2="253.9" stroke="#e8ecf3" stroke-width="0.35"/>
<text transform="matrix(1 0.0005 0 1 285.76 258.20)" font-size="4.4" text-anchor="middle">0.1</text>
<line x1="300.99" y1="208.9" x2="300.99" y2="253.9" stroke="#e8ecf3" stroke-width="0.35"/>
<text transform="matrix(1 0.0005 0 1 300.99 258.20)" font-size="4.4" text-anchor="middle">0.15</text>
<rect x="255.31" y="210.10" width="43.70" height="6.4" fill="#E69F00"/>
<text transform="matrix(1 0.0005 0 1 252.11 214.70)" font-size="4.5" text-anchor="end">optimization</text>
<rect x="255.31" y="219.18" width="33.78" height="6.4" fill="#E69F00"/>
<text transform="matrix(1 0.0005 0 1 252.11 223.78)" font-size="4.5" text-anchor="end">algorithm</text>
<rect x="255.31" y="228.26" width="28.27" height="6.4" fill="#E69F00"/>
<text transform="matrix(1 0.0005 0 1 252.11 232.86)" font-size="4.5" text-anchor="end">swarm</text>
<rect x="255.31" y="237.34" width="27.97" height="6.4" fill="#E69F00"/>
<text transform="matrix(1 0.0005 0 1 252.11 241.94)" font-size="4.5" text-anchor="end">particle</text>
<rect x="255.31" y="246.42" width="19.23" height="6.4" fill="#E69F00"/>
<text transform="matrix(1 0.0005 0 1 252.11 251.02)" font-size="4.5" text-anchor="end">genetic</text>
<text transform="matrix(1 0.0005 0 1 60.75 277.10)" font-size="5.85" text-anchor="middle">Topic 4</text>
<line x1="37.15" y1="279.2" x2="37.15" y2="324.2" stroke="#e8ecf3" stroke-width="0.35"/>
<text transform="matrix(1 0.0005 0 1 37.15 328.50)" font-size="4.4" text-anchor="middle">0</text>
<line x1="57.01" y1="279.2" x2="57.01" y2="324.2" stroke="#e8ecf3" stroke-width="0.35"/>
<text transform="matrix(1 0.0005 0 1 57.01 328.50)" font-size="4.4" text-anchor="middle">0.05</text>
<line x1="76.88" y1="279.2" x2="76.88" y2="324.2" stroke="#e8ecf3" stroke-width="0.35"/>
<text transform="matrix(1 0.0005 0 1 76.88 328.50)" font-size="4.4" text-anchor="middle">0.1</text>
<rect x="37.15" y="280.40" width="43.70" height="6.4" fill="#56B4E9"/>
<text transform="matrix(1 0.0005 0 1 33.95 285.00)" font-size="4.5" text-anchor="end">causal</text>
<rect x="37.15" y="289.48" width="37.89" height="6.4" fill="#56B4E9"/>
<text transform="matrix(1 0.0005 0 1 33.95 294.08)" font-size="4.5" text-anchor="end">inference</text>
<rect x="37.15" y="298.56" width="28.27" height="6.4" fill="#56B4E9"/>
<text transform="matrix(1 0.0005 0 1 33.95 303.16)" font-size="4.5" text-anchor="end">bayesian</text>
<rect x="37.15" y="307.64" width="14.86" height="6.4" fill="#56B4E9"/>
<text transform="matrix(1 0.0005 0 1 33.95 312.24)" font-size="4.5" text-anchor="end">risk</text>
<rect x="37.15" y="316.72" width="13.42" height="6.4" fill="#56B4E9"/>
<text transform="matrix(1 0.0005 0 1 33.95 321.32)" font-size="4.5" text-anchor="end">effect</text>
<text transform="matrix(1 0.0005 0 1 133.47 277.10)" font-size="5.85" text-anchor="middle">Topic 5</text>
<line x1="109.87" y1="279.2" x2="109.87" y2="324.2" stroke="#e8ecf3" stroke-width="0.35"/>
<text transform="matrix(1 0.0005 0 1 109.87 328.50)" font-size="4.4" text-anchor="middle">0</text>
<line x1="121.84" y1="279.2" x2="121.84" y2="324.2" stroke="#e8ecf3" stroke-width="0.35"/>
<text transform="matrix(1 0.0005 0 1 121.84 328.50)" font-size="4.4" text-anchor="middle">0.02</text>
<line x1="133.82" y1="279.2" x2="133.82" y2="324.2" stroke="#e8ecf3" stroke-width="0.35"/>
<text transform="matrix(1 0.0005 0 1 133.82 328.50)" font-size="4.4" text-anchor="middle">0.04</text>
<line x1="145.79" y1="279.2" x2="145.79" y2="324.2" stroke="#e8ecf3" stroke-width="0.35"/>
<text transform="matrix(1 0.0005 0 1 145.79 328.50)" font-size="4.4" text-anchor="middle">0.06</text>
<rect x="109.87" y="280.40" width="43.70" height="6.4" fill="#009E73"/>
<text transform="matrix(1 0.0005 0 1 106.67 285.00)" font-size="4.5" text-anchor="end">project</text>
<rect x="109.87" y="289.48" width="32.91" height="6.4" fill="#009E73"/>
<text transform="matrix(1 0.0005 0 1 106.67 294.08)" font-size="4.5" text-anchor="end">evaluation</text>
<rect x="109.87" y="298.56" width="28.27" height="6.4" fill="#009E73"/>
<text transform="matrix(1 0.0005 0 1 106.67 303.16)" font-size="4.5" text-anchor="end">based</text>
<rect x="109.87" y="307.64" width="23.03" height="6.4" fill="#009E73"/>
<text transform="matrix(1 0.0005 0 1 106.67 312.24)" font-size="4.5" text-anchor="end">risk</text>
<rect x="109.87" y="316.72" width="23.03" height="6.4" fill="#009E73"/>
<text transform="matrix(1 0.0005 0 1 106.67 321.32)" font-size="4.5" text-anchor="end">neural</text>
<text transform="matrix(1 0.0005 0 1 206.19 277.10)" font-size="5.85" text-anchor="middle">Topic 6</text>
<line x1="182.59" y1="279.2" x2="182.59" y2="324.2" stroke="#e8ecf3" stroke-width="0.35"/>
<text transform="matrix(1 0.0005 0 1 182.59 328.50)" font-size="4.4" text-anchor="middle">0</text>
<line x1="201.11" y1="279.2" x2="201.11" y2="324.2" stroke="#e8ecf3" stroke-width="0.35"/>
<text transform="matrix(1 0.0005 0 1 201.11 328.50)" font-size="4.4" text-anchor="middle">0.05</text>
<line x1="219.62" y1="279.2" x2="219.62" y2="324.2" stroke="#e8ecf3" stroke-width="0.35"/>
<text transform="matrix(1 0.0005 0 1 219.62 328.50)" font-size="4.4" text-anchor="middle">0.1</text>
<rect x="182.59" y="280.40" width="43.70" height="6.4" fill="#F0E442"/>
<text transform="matrix(1 0.0005 0 1 179.39 285.00)" font-size="4.5" text-anchor="end">sentiment</text>
<rect x="182.59" y="289.48" width="36.40" height="6.4" fill="#F0E442"/>
<text transform="matrix(1 0.0005 0 1 179.39 294.08)" font-size="4.5" text-anchor="end">citation</text>
<rect x="182.59" y="298.56" width="18.35" height="6.4" fill="#F0E442"/>
<text transform="matrix(1 0.0005 0 1 179.39 303.16)" font-size="4.5" text-anchor="end">analysis</text>
<rect x="182.59" y="307.64" width="18.05" height="6.4" fill="#F0E442"/>
<text transform="matrix(1 0.0005 0 1 179.39 312.24)" font-size="4.5" text-anchor="end">classification</text>
<rect x="182.59" y="316.72" width="15.73" height="6.4" fill="#F0E442"/>
<text transform="matrix(1 0.0005 0 1 179.39 321.32)" font-size="4.5" text-anchor="end">opinion</text>
<text transform="matrix(1 0.0005 0 1 278.91 277.10)" font-size="5.85" text-anchor="middle">Topic 7</text>
<line x1="255.31" y1="279.2" x2="255.31" y2="324.2" stroke="#e8ecf3" stroke-width="0.35"/>
<text transform="matrix(1 0.0005 0 1 255.31 328.50)" font-size="4.4" text-anchor="middle">0</text>
<line x1="273.83" y1="279.2" x2="273.83" y2="324.2" stroke="#e8ecf3" stroke-width="0.35"/>
<text transform="matrix(1 0.0005 0 1 273.83 328.50)" font-size="4.4" text-anchor="middle">0.05</text>
<line x1="292.34" y1="279.2" x2="292.34" y2="324.2" stroke="#e8ecf3" stroke-width="0.35"/>
<text transform="matrix(1 0.0005 0 1 292.34 328.50)" font-size="4.4" text-anchor="middle">0.1</text>
<rect x="255.31" y="280.40" width="43.70" height="6.4" fill="#D55E00"/>
<text transform="matrix(1 0.0005 0 1 252.11 285.00)" font-size="4.5" text-anchor="end">online</text>
<rect x="255.31" y="289.48" width="25.65" height="6.4" fill="#D55E00"/>
<text transform="matrix(1 0.0005 0 1 252.11 294.08)" font-size="4.5" text-anchor="end">education</text>
<rect x="255.31" y="298.56" width="21.28" height="6.4" fill="#D55E00"/>
<text transform="matrix(1 0.0005 0 1 252.11 303.16)" font-size="4.5" text-anchor="end">learning</text>
<rect x="255.31" y="307.64" width="19.23" height="6.4" fill="#D55E00"/>
<text transform="matrix(1 0.0005 0 1 252.11 312.24)" font-size="4.5" text-anchor="end">student</text>
<rect x="255.31" y="316.72" width="18.92" height="6.4" fill="#D55E00"/>
<text transform="matrix(1 0.0005 0 1 252.11 321.32)" font-size="4.5" text-anchor="end">distance</text>
<text transform="matrix(1 0.0005 0 1 60.75 347.40)" font-size="5.85" text-anchor="middle">Topic 8</text>
<line x1="37.15" y1="349.5" x2="37.15" y2="394.5" stroke="#e8ecf3" stroke-width="0.35"/>
<text transform="matrix(1 0.0005 0 1 37.15 398.80)" font-size="4.4" text-anchor="middle">0</text>
<line x1="58.57" y1="349.5" x2="58.57" y2="394.5" stroke="#e8ecf3" stroke-width="0.35"/>
<text transform="matrix(1 0.0005 0 1 58.57 398.80)" font-size="4.4" text-anchor="middle">0.05</text>
<line x1="79.99" y1="349.5" x2="79.99" y2="394.5" stroke="#e8ecf3" stroke-width="0.35"/>
<text transform="matrix(1 0.0005 0 1 79.99 398.80)" font-size="4.4" text-anchor="middle">0.1</text>
<rect x="37.15" y="350.70" width="43.70" height="6.4" fill="#0072B2"/>
<text transform="matrix(1 0.0005 0 1 33.95 355.30)" font-size="4.5" text-anchor="end">bibliographic</text>
<rect x="37.15" y="359.78" width="39.02" height="6.4" fill="#0072B2"/>
<text transform="matrix(1 0.0005 0 1 33.95 364.38)" font-size="4.5" text-anchor="end">disambiguation</text>
<rect x="37.15" y="368.86" width="31.46" height="6.4" fill="#0072B2"/>
<text transform="matrix(1 0.0005 0 1 33.95 373.46)" font-size="4.5" text-anchor="end">library</text>
<rect x="37.15" y="377.94" width="26.79" height="6.4" fill="#0072B2"/>
<text transform="matrix(1 0.0005 0 1 33.95 382.54)" font-size="4.5" text-anchor="end">reference</text>
<rect x="37.15" y="387.02" width="24.47" height="6.4" fill="#0072B2"/>
<text transform="matrix(1 0.0005 0 1 33.95 391.62)" font-size="4.5" text-anchor="end">digital</text>
<text transform="matrix(1 0.0005 0 1 133.47 347.40)" font-size="5.85" text-anchor="middle">Topic 9</text>
<line x1="109.87" y1="349.5" x2="109.87" y2="394.5" stroke="#e8ecf3" stroke-width="0.35"/>
<text transform="matrix(1 0.0005 0 1 109.87 398.80)" font-size="4.4" text-anchor="middle">0</text>
<line x1="131.72" y1="349.5" x2="131.72" y2="394.5" stroke="#e8ecf3" stroke-width="0.35"/>
<text transform="matrix(1 0.0005 0 1 131.72 398.80)" font-size="4.4" text-anchor="middle">0.05</text>
<line x1="153.57" y1="349.5" x2="153.57" y2="394.5" stroke="#e8ecf3" stroke-width="0.35"/>
<text transform="matrix(1 0.0005 0 1 153.57 398.80)" font-size="4.4" text-anchor="middle">0.1</text>
<rect x="109.87" y="350.70" width="43.70" height="6.4" fill="#CC79A7"/>
<text transform="matrix(1 0.0005 0 1 106.67 355.30)" font-size="4.5" text-anchor="end">education</text>
<rect x="109.87" y="359.78" width="29.15" height="6.4" fill="#CC79A7"/>
<text transform="matrix(1 0.0005 0 1 106.67 364.38)" font-size="4.5" text-anchor="end">intelligence</text>
<rect x="109.87" y="368.86" width="27.09" height="6.4" fill="#CC79A7"/>
<text transform="matrix(1 0.0005 0 1 106.67 373.46)" font-size="4.5" text-anchor="end">artificial</text>
<rect x="109.87" y="377.94" width="23.03" height="6.4" fill="#CC79A7"/>
<text transform="matrix(1 0.0005 0 1 106.67 382.54)" font-size="4.5" text-anchor="end">bibliometric</text>
<rect x="109.87" y="387.02" width="22.16" height="6.4" fill="#CC79A7"/>
<text transform="matrix(1 0.0005 0 1 106.67 391.62)" font-size="4.5" text-anchor="end">chatgpt</text>
<text transform="matrix(1 0.0005 0 1 206.19 347.40)" font-size="5.85" text-anchor="middle">Topic 10</text>
<line x1="182.59" y1="349.5" x2="182.59" y2="394.5" stroke="#e8ecf3" stroke-width="0.35"/>
<text transform="matrix(1 0.0005 0 1 182.59 398.80)" font-size="4.4" text-anchor="middle">0</text>
<line x1="193.94" y1="349.5" x2="193.94" y2="394.5" stroke="#e8ecf3" stroke-width="0.35"/>
<text transform="matrix(1 0.0005 0 1 193.94 398.80)" font-size="4.4" text-anchor="middle">0.02</text>
<line x1="205.29" y1="349.5" x2="205.29" y2="394.5" stroke="#e8ecf3" stroke-width="0.35"/>
<text transform="matrix(1 0.0005 0 1 205.29 398.80)" font-size="4.4" text-anchor="middle">0.04</text>
<line x1="216.64" y1="349.5" x2="216.64" y2="394.5" stroke="#e8ecf3" stroke-width="0.35"/>
<text transform="matrix(1 0.0005 0 1 216.64 398.80)" font-size="4.4" text-anchor="middle">0.06</text>
<line x1="227.99" y1="349.5" x2="227.99" y2="394.5" stroke="#e8ecf3" stroke-width="0.35"/>
<text transform="matrix(1 0.0005 0 1 227.99 398.80)" font-size="4.4" text-anchor="middle">0.08</text>
<rect x="182.59" y="350.70" width="43.70" height="6.4" fill="#E69F00"/>
<text transform="matrix(1 0.0005 0 1 179.39 355.30)" font-size="4.5" text-anchor="end">principal</text>
<rect x="182.59" y="359.78" width="40.77" height="6.4" fill="#E69F00"/>
<text transform="matrix(1 0.0005 0 1 179.39 364.38)" font-size="4.5" text-anchor="end">component</text>
<rect x="182.59" y="368.86" width="32.64" height="6.4" fill="#E69F00"/>
<text transform="matrix(1 0.0005 0 1 179.39 373.46)" font-size="4.5" text-anchor="end">heuristic</text>
<rect x="182.59" y="377.94" width="25.91" height="6.4" fill="#E69F00"/>
<text transform="matrix(1 0.0005 0 1 179.39 382.54)" font-size="4.5" text-anchor="end">bibliometricsbased</text>
<rect x="182.59" y="387.02" width="21.28" height="6.4" fill="#E69F00"/>
<text transform="matrix(1 0.0005 0 1 179.39 391.62)" font-size="4.5" text-anchor="end">performance</text>
<text transform="matrix(1 0.0005 0 1 278.91 347.40)" font-size="5.85" text-anchor="middle">Topic 11</text>
<line x1="255.31" y1="349.5" x2="255.31" y2="394.5" stroke="#e8ecf3" stroke-width="0.35"/>
<text transform="matrix(1 0.0005 0 1 255.31 398.80)" font-size="4.4" text-anchor="middle">0</text>
<line x1="276.12" y1="349.5" x2="276.12" y2="394.5" stroke="#e8ecf3" stroke-width="0.35"/>
<text transform="matrix(1 0.0005 0 1 276.12 398.80)" font-size="4.4" text-anchor="middle">0.05</text>
<line x1="296.93" y1="349.5" x2="296.93" y2="394.5" stroke="#e8ecf3" stroke-width="0.35"/>
<text transform="matrix(1 0.0005 0 1 296.93 398.80)" font-size="4.4" text-anchor="middle">0.1</text>
<rect x="255.31" y="350.70" width="43.70" height="6.4" fill="#56B4E9"/>
<text transform="matrix(1 0.0005 0 1 252.11 355.30)" font-size="4.5" text-anchor="end">database</text>
<rect x="255.31" y="359.78" width="29.41" height="6.4" fill="#56B4E9"/>
<text transform="matrix(1 0.0005 0 1 252.11 364.38)" font-size="4.5" text-anchor="end">search</text>
<rect x="255.31" y="368.86" width="28.54" height="6.4" fill="#56B4E9"/>
<text transform="matrix(1 0.0005 0 1 252.11 373.46)" font-size="4.5" text-anchor="end">recall</text>
<rect x="255.31" y="377.94" width="24.78" height="6.4" fill="#56B4E9"/>
<text transform="matrix(1 0.0005 0 1 252.11 382.54)" font-size="4.5" text-anchor="end">medline</text>
<rect x="255.31" y="387.02" width="22.42" height="6.4" fill="#56B4E9"/>
<text transform="matrix(1 0.0005 0 1 252.11 391.62)" font-size="4.5" text-anchor="end">bibliographic</text>
</g>
<text class="cap" x="153" y="429.5" text-anchor="middle">(c)</text>
<g id="pd">
<line x1="458.3" y1="236" x2="458.3" y2="358" stroke="#e6e6e6" stroke-width="0.6"/>
<line x1="385.5" y1="300.2" x2="533" y2="300.2" stroke="#dcdcdc" stroke-width="0.6"/>
<text transform="matrix(1 0.0005 0 1 459.60 234.70)" font-size="3.75" fill="#444">D2</text>
<text transform="matrix(1 0.0005 0 1 380.80 298.40)" font-size="3.75" fill="#444">D1</text>
<circle cx="485.3" cy="247.6" r="5.1" fill="#a7b6bb" fill-opacity="0.7" stroke="#3d5057" stroke-width="0.6"/>
<circle cx="488.6" cy="247.6" r="4.9" fill="#a7b6bb" fill-opacity="0.7" stroke="#3d5057" stroke-width="0.6"/>
<circle cx="487" cy="246.6" r="3" fill="#a7b6bb" fill-opacity="0.7" stroke="#3d5057" stroke-width="0.6"/>
<circle cx="489.3" cy="249" r="2.4" fill="#a7b6bb" fill-opacity="0.7" stroke="#3d5057" stroke-width="0.6"/>
<circle cx="486" cy="247.8" r="3.8" fill="#a7b6bb" fill-opacity="0.7" stroke="#3d5057" stroke-width="0.6"/>
<circle cx="422.4" cy="284.4" r="5.2" fill="#a7b6bb" fill-opacity="0.7" stroke="#3d5057" stroke-width="0.6"/>
<circle cx="423.4" cy="283.2" r="2.6" fill="#a7b6bb" fill-opacity="0.7" stroke="#3d5057" stroke-width="0.6"/>
<circle cx="422.8" cy="284" r="3.9" fill="#a7b6bb" fill-opacity="0.7" stroke="#3d5057" stroke-width="0.6"/>
<circle cx="459.9" cy="286.1" r="3.8" fill="#a7b6bb" fill-opacity="0.7" stroke="#3d5057" stroke-width="0.6"/>
<circle cx="388.1" cy="297.7" r="2.8" fill="#a7b6bb" fill-opacity="0.7" stroke="#3d5057" stroke-width="0.6"/>
<circle cx="390.6" cy="295.3" r="2.8" fill="#a7b6bb" fill-opacity="0.7" stroke="#3d5057" stroke-width="0.6"/>
<circle cx="389.3" cy="296.5" r="2.6" fill="#a7b6bb" fill-opacity="0.7" stroke="#3d5057" stroke-width="0.6"/>
<circle cx="465.2" cy="309" r="9.3" fill="#a7b6bb" fill-opacity="0.7" stroke="#3d5057" stroke-width="0.6"/>
<circle cx="463" cy="309" r="4.5" fill="#a7b6bb" fill-opacity="0.7" stroke="#3d5057" stroke-width="0.6"/>
<circle cx="465.8" cy="309.4" r="3.6" fill="#a7b6bb" fill-opacity="0.7" stroke="#3d5057" stroke-width="0.6"/>
<circle cx="464.2" cy="308.3" r="2.6" fill="#a7b6bb" fill-opacity="0.7" stroke="#3d5057" stroke-width="0.6"/>
<circle cx="466.2" cy="309.8" r="2.2" fill="#a7b6bb" fill-opacity="0.7" stroke="#3d5057" stroke-width="0.6"/>
<circle cx="462.2" cy="309" r="3.2" fill="#a7b6bb" fill-opacity="0.7" stroke="#3d5057" stroke-width="0.6"/>
<circle cx="412" cy="320.4" r="4.5" fill="#a7b6bb" fill-opacity="0.7" stroke="#3d5057" stroke-width="0.6"/>
<circle cx="412.8" cy="319.2" r="2.6" fill="#a7b6bb" fill-opacity="0.7" stroke="#3d5057" stroke-width="0.6"/>
<circle cx="412.3" cy="319.9" r="3.6" fill="#a7b6bb" fill-opacity="0.7" stroke="#3d5057" stroke-width="0.6"/>
<circle cx="518.7" cy="335.9" r="2.9" fill="#a7b6bb" fill-opacity="0.7" stroke="#3d5057" stroke-width="0.6"/>
<circle cx="518.7" cy="335.9" r="2.6" fill="#a7b6bb" fill-opacity="0.7" stroke="#3d5057" stroke-width="0.6"/>
<circle cx="430.9" cy="360.3" r="4.3" fill="#a7b6bb" fill-opacity="0.7" stroke="#3d5057" stroke-width="0.6"/>
<circle cx="431.3" cy="360" r="2.6" fill="#a7b6bb" fill-opacity="0.7" stroke="#3d5057" stroke-width="0.6"/>
<circle cx="431" cy="360.2" r="3.5" fill="#a7b6bb" fill-opacity="0.7" stroke="#3d5057" stroke-width="0.6"/>
<circle cx="459.8" cy="363.5" r="4.8" fill="#a7b6bb" fill-opacity="0.7" stroke="#3d5057" stroke-width="0.6"/>
<circle cx="462.2" cy="363.3" r="4.6" fill="#a7b6bb" fill-opacity="0.7" stroke="#3d5057" stroke-width="0.6"/>
<circle cx="458.6" cy="363.5" r="2.8" fill="#a7b6bb" fill-opacity="0.7" stroke="#3d5057" stroke-width="0.6"/>
<text transform="matrix(1 0.0005 0 1 378.20 396.40)" font-size="4.15" fill="#333">Topic 0</text>
<rect x="381.4" y="401.4" width="149.4" height="2" rx="1" fill="#f1f4f9" stroke="#dfe5ef" stroke-width="0.4"/>
<line x1="381.40" y1="407.3" x2="381.40" y2="409.3" stroke="#777" stroke-width="0.3"/>
<text transform="matrix(1 0.0005 0 1 381.40 414.80)" font-size="4.15" text-anchor="middle" fill="#333">Topic 0</text>
<line x1="385.77" y1="407.3" x2="385.77" y2="408.8" stroke="#777" stroke-width="0.3"/>
<line x1="390.14" y1="407.3" x2="390.14" y2="408.8" stroke="#777" stroke-width="0.3"/>
<line x1="394.51" y1="407.3" x2="394.51" y2="408.8" stroke="#777" stroke-width="0.3"/>
<line x1="398.88" y1="407.3" x2="398.88" y2="408.8" stroke="#777" stroke-width="0.3"/>
<line x1="403.25" y1="407.3" x2="403.25" y2="409.3" stroke="#777" stroke-width="0.3"/>
<text transform="matrix(1 0.0005 0 1 403.25 414.80)" font-size="4.15" text-anchor="middle" fill="#333">Topic 5</text>
<line x1="407.62" y1="407.3" x2="407.62" y2="408.8" stroke="#777" stroke-width="0.3"/>
<line x1="411.99" y1="407.3" x2="411.99" y2="408.8" stroke="#777" stroke-width="0.3"/>
<line x1="416.36" y1="407.3" x2="416.36" y2="408.8" stroke="#777" stroke-width="0.3"/>
<line x1="420.73" y1="407.3" x2="420.73" y2="408.8" stroke="#777" stroke-width="0.3"/>
<line x1="425.10" y1="407.3" x2="425.10" y2="409.3" stroke="#777" stroke-width="0.3"/>
<text transform="matrix(1 0.0005 0 1 425.10 414.80)" font-size="4.15" text-anchor="middle" fill="#333">Topic 10</text>
<line x1="429.47" y1="407.3" x2="429.47" y2="408.8" stroke="#777" stroke-width="0.3"/>
<line x1="433.84" y1="407.3" x2="433.84" y2="408.8" stroke="#777" stroke-width="0.3"/>
<line x1="438.21" y1="407.3" x2="438.21" y2="408.8" stroke="#777" stroke-width="0.3"/>
<line x1="442.58" y1="407.3" x2="442.58" y2="408.8" stroke="#777" stroke-width="0.3"/>
<line x1="446.95" y1="407.3" x2="446.95" y2="409.3" stroke="#777" stroke-width="0.3"/>
<text transform="matrix(1 0.0005 0 1 446.95 414.80)" font-size="4.15" text-anchor="middle" fill="#333">Topic 15</text>
<line x1="451.32" y1="407.3" x2="451.32" y2="408.8" stroke="#777" stroke-width="0.3"/>
<line x1="455.69" y1="407.3" x2="455.69" y2="408.8" stroke="#777" stroke-width="0.3"/>
<line x1="460.06" y1="407.3" x2="460.06" y2="408.8" stroke="#777" stroke-width="0.3"/>
<line x1="464.43" y1="407.3" x2="464.43" y2="408.8" stroke="#777" stroke-width="0.3"/>
<line x1="468.80" y1="407.3" x2="468.80" y2="409.3" stroke="#777" stroke-width="0.3"/>
<text transform="matrix(1 0.0005 0 1 468.80 414.80)" font-size="4.15" text-anchor="middle" fill="#333">Topic 20</text>
<line x1="473.17" y1="407.3" x2="473.17" y2="408.8" stroke="#777" stroke-width="0.3"/>
<line x1="477.54" y1="407.3" x2="477.54" y2="408.8" stroke="#777" stroke-width="0.3"/>
<line x1="481.91" y1="407.3" x2="481.91" y2="408.8" stroke="#777" stroke-width="0.3"/>
<line x1="486.28" y1="407.3" x2="486.28" y2="408.8" stroke="#777" stroke-width="0.3"/>
<line x1="490.65" y1="407.3" x2="490.65" y2="409.3" stroke="#777" stroke-width="0.3"/>
<text transform="matrix(1 0.0005 0 1 490.65 414.80)" font-size="4.15" text-anchor="middle" fill="#333">Topic 25</text>
<line x1="495.02" y1="407.3" x2="495.02" y2="408.8" stroke="#777" stroke-width="0.3"/>
<line x1="499.39" y1="407.3" x2="499.39" y2="408.8" stroke="#777" stroke-width="0.3"/>
<line x1="503.76" y1="407.3" x2="503.76" y2="408.8" stroke="#777" stroke-width="0.3"/>
<line x1="508.13" y1="407.3" x2="508.13" y2="408.8" stroke="#777" stroke-width="0.3"/>
<line x1="512.50" y1="407.3" x2="512.50" y2="409.3" stroke="#777" stroke-width="0.3"/>
<text transform="matrix(1 0.0005 0 1 512.50 414.80)" font-size="4.15" text-anchor="middle" fill="#333">Topic 30</text>
<line x1="516.87" y1="407.3" x2="516.87" y2="408.8" stroke="#777" stroke-width="0.3"/>
<line x1="521.24" y1="407.3" x2="521.24" y2="408.8" stroke="#777" stroke-width="0.3"/>
<line x1="525.61" y1="407.3" x2="525.61" y2="408.8" stroke="#777" stroke-width="0.3"/>
<line x1="529.98" y1="407.3" x2="529.98" y2="408.8" stroke="#777" stroke-width="0.3"/>
<circle cx="381" cy="402.5" r="2.9" fill="#fbfcfe" stroke="#c3cbd9" stroke-width="0.5"/>
</g>
<text class="cap" x="456.2" y="431" text-anchor="middle">(d)</text>
</svg></body></html>
